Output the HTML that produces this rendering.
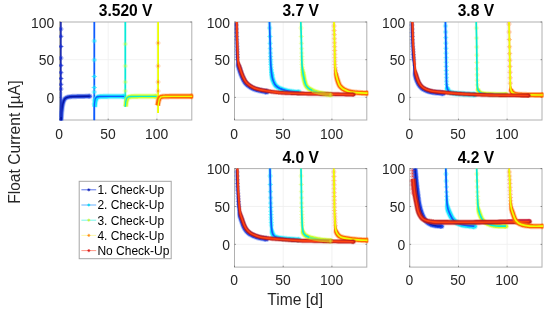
<!DOCTYPE html>
<html lang="en"><head><meta charset="utf-8"><title>Float Current vs Time</title>
<style>
html,body{margin:0;padding:0;background:#fff;}
body{width:550px;height:313px;overflow:hidden;}
svg{display:block;}
text{font-family:"Liberation Sans",Arial,Helvetica,sans-serif;fill:#262626;}
.tk{font-size:13.9px;}
.tt{font-size:15.6px;font-weight:bold;fill:#000;}
.al{font-size:15.6px;}
.lg{font-size:12px;fill:#000;}
</style></head><body>
<svg width="550" height="313" viewBox="0 0 550 313">
<rect x="0" y="0" width="550" height="313" fill="#ffffff"/>
<defs>
<clipPath id="cp1"><rect x="59" y="21.5" width="134.3" height="99"/></clipPath>
<clipPath id="cp2"><rect x="234" y="21.5" width="134.3" height="99"/></clipPath>
<clipPath id="cp3"><rect x="409.2" y="21.5" width="134.3" height="99"/></clipPath>
<clipPath id="cp4"><rect x="234" y="168.1" width="134.3" height="99.5"/></clipPath>
<clipPath id="cp5"><rect x="409.2" y="168.1" width="134.3" height="99.5"/></clipPath>
</defs>
<g>
<line x1="108.2" y1="22" x2="108.2" y2="120" stroke="#efefef" stroke-width="0.8"/>
<line x1="156.9" y1="22" x2="156.9" y2="120" stroke="#efefef" stroke-width="0.8"/>
<line x1="59.5" y1="97.38" x2="191.8" y2="97.38" stroke="#efefef" stroke-width="0.8"/>
<line x1="59.5" y1="59.69" x2="191.8" y2="59.69" stroke="#efefef" stroke-width="0.8"/>
<rect x="59.5" y="22" width="132.3" height="98" fill="none" stroke="#b0b0b0" stroke-width="1"/>
<line x1="59.5" y1="120" x2="59.5" y2="118.6" stroke="#555" stroke-width="0.8" opacity="0.8"/>
<line x1="108.2" y1="120" x2="108.2" y2="118.6" stroke="#555" stroke-width="0.8" opacity="0.8"/>
<line x1="156.9" y1="120" x2="156.9" y2="118.6" stroke="#555" stroke-width="0.8" opacity="0.8"/>
<line x1="59.5" y1="97.38" x2="60.9" y2="97.38" stroke="#555" stroke-width="0.8" opacity="0.8"/>
<line x1="191.8" y1="97.38" x2="190.4" y2="97.38" stroke="#555" stroke-width="0.8" opacity="0.8"/>
<line x1="59.5" y1="59.69" x2="60.9" y2="59.69" stroke="#555" stroke-width="0.8" opacity="0.8"/>
<line x1="191.8" y1="59.69" x2="190.4" y2="59.69" stroke="#555" stroke-width="0.8" opacity="0.8"/>
<line x1="59.5" y1="22" x2="60.9" y2="22" stroke="#555" stroke-width="0.8" opacity="0.8"/>
<line x1="191.8" y1="22" x2="190.4" y2="22" stroke="#555" stroke-width="0.8" opacity="0.8"/>
<text x="59.2" y="139" text-anchor="middle" class="tk">0</text>
<text x="107.9" y="139" text-anchor="middle" class="tk">50</text>
<text x="156.6" y="139" text-anchor="middle" class="tk">100</text>
<text x="54.3" y="102.88" text-anchor="end" class="tk">0</text>
<text x="54.3" y="65.19" text-anchor="end" class="tk">50</text>
<text x="54.3" y="27.5" text-anchor="end" class="tk">100</text>
<text x="125.65" y="16.4" text-anchor="middle" class="tt">3.520 V</text>
<g clip-path="url(#cp1)">
<path d="M60.84 22L60.83 28.14L60.82 36.62L60.81 46.84L60.78 58.21L60.74 70.15L60.67 82.06L60.55 93.35L60.36 103.43L60.11 111.71L59.8 117.61L59.47 121.17L59.16 123.07L62.98 124.34L63.49 122.87L63.72 121.33L63.89 119.31L64.01 117.09L64.12 114.96L64.21 113.24L64.29 112.26L64.36 111.67L64.45 110.95L64.54 110.2L64.63 109.45L64.72 108.69L64.82 107.95L64.92 107.23L65.02 106.55L65.13 105.92L65.24 105.35L65.36 104.81L65.49 104.28L65.62 103.78L65.75 103.31L65.89 102.86L66.03 102.45L66.17 102.08L66.3 101.74L66.44 101.45L66.57 101.19L66.69 100.98L66.8 100.81L66.89 100.69L66.97 100.6L67.04 100.54L67.11 100.47L67.2 100.41L67.33 100.32L67.5 100.22L67.71 100.11L67.93 100.01L68.13 99.92L68.34 99.84L68.57 99.77L68.83 99.7L69.12 99.63L69.46 99.57L69.85 99.51L70.3 99.44L70.8 99.38L71.33 99.33L71.9 99.29L72.5 99.25L73.15 99.22L73.85 99.19L74.59 99.17L75.38 99.15L76.22 99.14L77.11 99.12L78.05 99.1L79.1 99.08L80.3 99.07L81.62 99.05L83 99.04L84.39 99.03L85.74 99.02L87.01 99.02L88.14 99.01L89.1 99L89.82 99L89.78 93.6L89.06 93.61L88.11 93.61L86.98 93.62L85.71 93.62L84.35 93.63L82.96 93.64L81.57 93.65L80.24 93.67L79.02 93.68L77.95 93.7L77.01 93.72L76.12 93.74L75.26 93.75L74.45 93.77L73.68 93.8L72.93 93.82L72.21 93.86L71.52 93.9L70.85 93.95L70.2 94.02L69.6 94.09L69.05 94.17L68.52 94.25L68.01 94.35L67.52 94.46L67.05 94.59L66.59 94.74L66.14 94.9L65.7 95.09L65.29 95.29L64.89 95.5L64.51 95.72L64.12 95.97L63.74 96.25L63.36 96.58L63.01 96.93L62.68 97.32L62.37 97.73L62.09 98.15L61.83 98.61L61.58 99.09L61.35 99.6L61.13 100.12L60.93 100.66L60.75 101.21L60.57 101.78L60.41 102.37L60.25 102.98L60.1 103.6L59.96 104.25L59.82 104.94L59.69 105.69L59.57 106.45L59.47 107.23L59.36 108.02L59.27 108.8L59.18 109.57L59.09 110.3L59.01 111L58.91 111.74L58.82 112.92L58.74 114.73L58.68 116.88L58.64 119.11L58.65 121.12L58.74 122.57L59.12 122.48L62.82 122.89L62.41 121.12L62 117.59L61.64 111.71L61.35 103.43L61.15 93.35L61.03 82.06L60.97 70.15L60.95 58.21L60.95 46.84L60.95 36.62L60.96 28.14L60.96 22Z" fill="#2a4ee0" opacity="0.35" stroke="none"/><circle cx="89.8" cy="96.3" r="2.7" fill="#2a4ee0" opacity="0.35"/>
<path d="M60.86 22L60.85 28.14L60.84 36.62L60.83 46.84L60.81 58.21L60.78 70.15L60.73 82.06L60.65 93.35L60.53 103.43L60.36 111.71L60.16 117.61L59.96 121.16L59.77 123.04L62.34 124.03L62.7 122.82L62.88 121.3L63.01 119.28L63.13 117.05L63.22 114.92L63.31 113.19L63.39 112.17L63.47 111.56L63.56 110.84L63.65 110.1L63.74 109.34L63.83 108.58L63.93 107.83L64.03 107.1L64.13 106.41L64.24 105.76L64.36 105.17L64.49 104.61L64.62 104.06L64.75 103.54L64.89 103.05L65.03 102.59L65.18 102.15L65.33 101.75L65.48 101.39L65.63 101.06L65.78 100.76L65.93 100.51L66.07 100.3L66.19 100.13L66.31 99.99L66.42 99.88L66.55 99.77L66.69 99.67L66.86 99.56L67.07 99.44L67.31 99.31L67.56 99.19L67.8 99.08L68.05 98.99L68.32 98.91L68.61 98.83L68.94 98.75L69.3 98.68L69.72 98.62L70.18 98.55L70.7 98.49L71.25 98.43L71.83 98.39L72.45 98.35L73.12 98.32L73.82 98.29L74.57 98.27L75.36 98.25L76.2 98.24L77.1 98.22L78.03 98.2L79.09 98.18L80.29 98.17L81.61 98.15L82.99 98.14L84.38 98.13L85.73 98.12L87 98.12L88.14 98.11L89.09 98.11L89.81 98.1L89.79 94.5L89.07 94.51L88.12 94.51L86.98 94.52L85.71 94.52L84.36 94.53L82.96 94.54L81.58 94.55L80.25 94.57L79.03 94.58L77.97 94.6L77.02 94.62L76.13 94.64L75.28 94.65L74.48 94.67L73.7 94.69L72.97 94.72L72.26 94.75L71.58 94.8L70.93 94.85L70.3 94.91L69.72 94.98L69.18 95.06L68.68 95.14L68.2 95.23L67.74 95.33L67.3 95.45L66.88 95.59L66.47 95.74L66.07 95.91L65.69 96.09L65.33 96.28L64.98 96.48L64.64 96.71L64.3 96.96L63.98 97.24L63.67 97.54L63.38 97.88L63.11 98.24L62.86 98.62L62.62 99.04L62.39 99.48L62.17 99.95L61.97 100.45L61.78 100.96L61.6 101.49L61.44 102.04L61.28 102.61L61.12 103.19L60.98 103.8L60.84 104.43L60.7 105.11L60.58 105.83L60.47 106.58L60.36 107.35L60.26 108.13L60.16 108.91L60.07 109.67L59.98 110.41L59.9 111.11L59.81 111.83L59.72 112.97L59.64 114.76L59.57 116.92L59.52 119.15L59.5 121.15L59.53 122.62L59.76 122.79L62.21 122.92L61.92 121.13L61.64 117.59L61.38 111.71L61.18 103.43L61.05 93.35L60.97 82.06L60.93 70.15L60.92 58.21L60.93 46.84L60.93 36.62L60.94 28.14L60.94 22Z" fill="#2a4ee0" opacity="1.0" stroke="none"/><circle cx="89.8" cy="96.3" r="1.8" fill="#2a4ee0" opacity="1.0"/>
<path d="M60.9 22C60.9 37.93 60.78 102.6 60.9 117.6C61.02 132.6 61.32 114.13 61.6 112C61.88 109.87 62.17 106.82 62.6 104.8C63.03 102.78 63.55 101.08 64.2 99.9C64.85 98.72 65.45 98.23 66.5 97.7C67.55 97.17 68.58 96.92 70.5 96.7C72.42 96.48 74.78 96.47 78 96.4C81.22 96.33 87.83 96.32 89.8 96.3" stroke="#0614a4" stroke-width="1.5" stroke-linecap="butt" stroke-linejoin="round" fill="none"/>
<path d="M60.9 92 L60.9 117" stroke="#2a4ee0" stroke-width="2.8" opacity="0.4" fill="none"/>
<path d="M58.4 29 L63.4 29M59.49 27.59 L62.31 30.41M60.9 26.5 L60.9 31.5M62.31 27.59 L59.49 30.41" stroke="#1a30d4" stroke-width="0.9" opacity="0.85" fill="none"/>
<path d="M58.4 36.3 L63.4 36.3M59.49 34.89 L62.31 37.71M60.9 33.8 L60.9 38.8M62.31 34.89 L59.49 37.71" stroke="#1a30d4" stroke-width="0.9" opacity="0.85" fill="none"/>
<path d="M58.4 46.5 L63.4 46.5M59.49 45.09 L62.31 47.91M60.9 44 L60.9 49M62.31 45.09 L59.49 47.91" stroke="#1a30d4" stroke-width="0.9" opacity="0.85" fill="none"/>
<path d="M58.4 58 L63.4 58M59.49 56.59 L62.31 59.41M60.9 55.5 L60.9 60.5M62.31 56.59 L59.49 59.41" stroke="#1a30d4" stroke-width="0.9" opacity="0.85" fill="none"/>
<path d="M58.4 65.4 L63.4 65.4M59.49 63.99 L62.31 66.81M60.9 62.9 L60.9 67.9M62.31 63.99 L59.49 66.81" stroke="#1a30d4" stroke-width="0.9" opacity="0.85" fill="none"/>
<path d="M58.4 72.7 L63.4 72.7M59.49 71.29 L62.31 74.11M60.9 70.2 L60.9 75.2M62.31 71.29 L59.49 74.11" stroke="#1a30d4" stroke-width="0.9" opacity="0.85" fill="none"/>
<path d="M58.4 78.5 L63.4 78.5M59.49 77.09 L62.31 79.91M60.9 76 L60.9 81M62.31 77.09 L59.49 79.91" stroke="#1a30d4" stroke-width="0.9" opacity="0.85" fill="none"/>
<path d="M58.4 84.3 L63.4 84.3M59.49 82.89 L62.31 85.71M60.9 81.8 L60.9 86.8M62.31 82.89 L59.49 85.71" stroke="#1a30d4" stroke-width="0.9" opacity="0.85" fill="none"/>
<path d="M58.4 89 L63.4 89M59.49 87.59 L62.31 90.41M60.9 86.5 L60.9 91.5M62.31 87.59 L59.49 90.41" stroke="#1a30d4" stroke-width="0.9" opacity="0.85" fill="none"/>
<path d="M94.3 22 L94.3 120.2" stroke="#0f5cff" stroke-width="1.8" fill="none"/>
<path d="M91.7 41 L96.9 41M92.83 39.53 L95.77 42.47M94.3 38.4 L94.3 43.6M95.77 39.53 L92.83 42.47" stroke="#12e4ff" stroke-width="0.9" opacity="0.7" fill="none"/>
<path d="M91.7 60 L96.9 60M92.83 58.53 L95.77 61.47M94.3 57.4 L94.3 62.6M95.77 58.53 L92.83 61.47" stroke="#12e4ff" stroke-width="0.9" opacity="0.7" fill="none"/>
<path d="M91.7 76.5 L96.9 76.5M92.83 75.03 L95.77 77.97M94.3 73.9 L94.3 79.1M95.77 75.03 L92.83 77.97" stroke="#12e4ff" stroke-width="0.9" opacity="0.7" fill="none"/>
<path d="M91.7 87.5 L96.9 87.5M92.83 86.03 L95.77 88.97M94.3 84.9 L94.3 90.1M95.77 86.03 L92.83 88.97" stroke="#12e4ff" stroke-width="0.9" opacity="0.7" fill="none"/>
<path d="M91.7 92 L96.9 92M92.83 90.53 L95.77 93.47M94.3 89.4 L94.3 94.6M95.77 90.53 L92.83 93.47" stroke="#12e4ff" stroke-width="0.9" opacity="0.7" fill="none"/>
<path d="M91.7 100 L96.9 100M92.83 98.53 L95.77 101.47M94.3 97.4 L94.3 102.6M95.77 98.53 L92.83 101.47" stroke="#12e4ff" stroke-width="0.9" opacity="0.7" fill="none"/>
<path d="M91.7 104 L96.9 104M92.83 102.53 L95.77 105.47M94.3 101.4 L94.3 106.6M95.77 102.53 L92.83 105.47" stroke="#12e4ff" stroke-width="0.9" opacity="0.7" fill="none"/>
<path d="M97.53 107.31L97.59 106.76L97.65 106.21L97.71 105.66L97.77 105.11L97.83 104.56L97.89 104.01L97.95 103.46L98.01 102.91L98.07 102.36L98.1 102.04L98.11 102.07L98.22 101.74L98.33 101.41L98.44 101.08L98.55 100.75L98.66 100.42L98.77 100.09L98.88 99.76L98.99 99.43L98.86 99.64L98.36 100.28L98.52 100.15L98.68 100.02L98.84 99.89L99 99.76L99.16 99.63L99.32 99.5L99.48 99.37L99.64 99.24L99.09 99.53L98.7 99.67L98.95 99.63L99.2 99.59L99.45 99.55L99.7 99.51L99.95 99.47L100.2 99.43L100.45 99.39L100.7 99.35L100.62 99.35L101.48 99.34L102.43 99.33L103.38 99.32L104.33 99.31L105.28 99.3L106.23 99.29L107.18 99.28L108.13 99.27L109.08 99.26L110.01 99.25L111.4 99.25L112.8 99.25L114.2 99.25L115.6 99.25L117 99.25L118.4 99.25L119.8 99.25L121.2 99.25L122.6 99.25L124 99.25L124 93.55L122.6 93.55L121.2 93.55L119.8 93.55L118.4 93.55L117 93.55L115.6 93.55L114.2 93.55L112.8 93.55L111.4 93.55L109.99 93.55L109.02 93.56L108.07 93.57L107.12 93.58L106.17 93.59L105.22 93.6L104.27 93.61L103.32 93.62L102.37 93.63L101.42 93.64L100.38 93.65L99.8 93.73L99.55 93.77L99.3 93.81L99.05 93.85L98.8 93.89L98.55 93.93L98.3 93.97L98.05 94.01L97.8 94.05L96.91 94.27L96.04 94.82L95.88 94.95L95.72 95.08L95.56 95.21L95.4 95.34L95.24 95.47L95.08 95.6L94.92 95.73L94.76 95.86L93.94 96.76L93.59 97.63L93.48 97.96L93.37 98.29L93.26 98.62L93.15 98.95L93.04 99.28L92.93 99.61L92.82 99.94L92.71 100.27L92.5 100.96L92.41 101.74L92.35 102.29L92.29 102.84L92.23 103.39L92.17 103.94L92.11 104.49L92.05 105.04L91.99 105.59L91.93 106.14L91.87 106.69Z" fill="#12e4ff" opacity="0.35" stroke="none"/><circle cx="124" cy="96.4" r="2.85" fill="#12e4ff" opacity="0.35"/>
<path d="M96.64 107.21L96.7 106.66L96.76 106.11L96.82 105.56L96.88 105.01L96.94 104.46L97 103.91L97.06 103.36L97.12 102.81L97.18 102.26L97.21 101.87L97.26 101.79L97.37 101.46L97.48 101.13L97.59 100.8L97.7 100.47L97.81 100.14L97.92 99.81L98.03 99.48L98.14 99.15L98.08 99.19L97.79 99.58L97.95 99.45L98.11 99.32L98.27 99.19L98.43 99.06L98.59 98.93L98.75 98.8L98.91 98.67L99.07 98.54L98.75 98.7L98.56 98.79L98.81 98.75L99.06 98.71L99.31 98.67L99.56 98.63L99.81 98.59L100.06 98.55L100.31 98.51L100.56 98.47L100.58 98.45L101.47 98.44L102.42 98.43L103.37 98.42L104.32 98.41L105.27 98.4L106.22 98.39L107.17 98.38L108.12 98.37L109.07 98.36L110.01 98.35L111.4 98.35L112.8 98.35L114.2 98.35L115.6 98.35L117 98.35L118.4 98.35L119.8 98.35L121.2 98.35L122.6 98.35L124 98.35L124 94.45L122.6 94.45L121.2 94.45L119.8 94.45L118.4 94.45L117 94.45L115.6 94.45L114.2 94.45L112.8 94.45L111.4 94.45L109.99 94.45L109.03 94.46L108.08 94.47L107.13 94.48L106.18 94.49L105.23 94.5L104.28 94.51L103.33 94.52L102.38 94.53L101.43 94.54L100.42 94.55L99.94 94.61L99.69 94.65L99.44 94.69L99.19 94.73L98.94 94.77L98.69 94.81L98.44 94.85L98.19 94.89L97.94 94.93L97.25 95.1L96.61 95.52L96.45 95.65L96.29 95.78L96.13 95.91L95.97 96.04L95.81 96.17L95.65 96.3L95.49 96.43L95.33 96.56L94.72 97.21L94.44 97.91L94.33 98.24L94.22 98.57L94.11 98.9L94 99.23L93.89 99.56L93.78 99.89L93.67 100.22L93.56 100.55L93.39 101.13L93.3 101.84L93.24 102.39L93.18 102.94L93.12 103.49L93.06 104.04L93 104.59L92.94 105.14L92.88 105.69L92.82 106.24L92.76 106.79Z" fill="#12e4ff" opacity="1.0" stroke="none"/><circle cx="124" cy="96.4" r="1.95" fill="#12e4ff" opacity="1.0"/>
<path d="M94.3 120.2L94.4 104L95.2 98.9L96.6 97L99.5 96.5L110 96.4L124.2 96.4" stroke="#0f5cff" stroke-width="1.3" stroke-linecap="butt" stroke-linejoin="round" fill="none"/>
<path d="M125.3 22 L125.3 106.8" stroke="#08ead8" stroke-width="1.8" fill="none"/>
<path d="M122.7 44 L127.9 44M123.83 42.53 L126.77 45.47M125.3 41.4 L125.3 46.6M126.77 42.53 L123.83 45.47" stroke="#c8ff28" stroke-width="0.9" opacity="0.45" fill="none"/>
<path d="M122.7 66 L127.9 66M123.83 64.53 L126.77 67.47M125.3 63.4 L125.3 68.6M126.77 64.53 L123.83 67.47" stroke="#c8ff28" stroke-width="0.9" opacity="0.45" fill="none"/>
<path d="M122.7 82 L127.9 82M123.83 80.53 L126.77 83.47M125.3 79.4 L125.3 84.6M126.77 80.53 L123.83 83.47" stroke="#c8ff28" stroke-width="0.9" opacity="0.45" fill="none"/>
<path d="M122.7 91 L127.9 91M123.83 89.53 L126.77 92.47M125.3 88.4 L125.3 93.6M126.77 89.53 L123.83 92.47" stroke="#c8ff28" stroke-width="0.9" opacity="0.45" fill="none"/>
<path d="M128.43 106.86L128.49 106.39L128.55 105.92L128.61 105.45L128.67 104.98L128.73 104.51L128.79 104.04L128.85 103.57L128.91 103.1L128.97 102.63L128.99 102.37L129.02 102.33L129.12 102.01L129.22 101.69L129.32 101.37L129.42 101.05L129.52 100.73L129.62 100.41L129.72 100.09L129.82 99.77L129.71 99.96L129.38 100.46L129.54 100.3L129.7 100.14L129.86 99.98L130.02 99.82L130.18 99.66L130.34 99.5L130.5 99.34L130.66 99.18L130.05 99.56L129.59 99.75L129.86 99.7L130.13 99.65L130.4 99.6L130.67 99.55L130.94 99.5L131.21 99.45L131.48 99.4L131.75 99.35L131.65 99.35L132.38 99.34L133.23 99.33L134.08 99.32L134.93 99.31L135.78 99.3L136.63 99.29L137.48 99.28L138.33 99.27L139.18 99.26L140.01 99.25L141.64 99.25L143.28 99.25L144.92 99.25L146.56 99.25L148.2 99.25L149.84 99.25L151.48 99.25L153.12 99.25L154.76 99.25L156.4 99.25L156.4 93.55L154.76 93.55L153.12 93.55L151.48 93.55L149.84 93.55L148.2 93.55L146.56 93.55L144.92 93.55L143.28 93.55L141.64 93.55L139.99 93.55L139.12 93.56L138.27 93.57L137.42 93.58L136.57 93.59L135.72 93.6L134.87 93.61L134.02 93.62L133.17 93.63L132.32 93.64L131.35 93.65L130.71 93.75L130.44 93.8L130.17 93.85L129.9 93.9L129.63 93.95L129.36 94L129.09 94.05L128.82 94.1L128.55 94.15L127.55 94.44L126.62 95.14L126.46 95.3L126.3 95.46L126.14 95.62L125.98 95.78L125.82 95.94L125.66 96.1L125.5 96.26L125.34 96.42L124.69 97.24L124.38 98.07L124.28 98.39L124.18 98.71L124.08 99.03L123.98 99.35L123.88 99.67L123.78 99.99L123.68 100.31L123.58 100.63L123.41 101.23L123.31 101.91L123.25 102.38L123.19 102.85L123.13 103.32L123.07 103.79L123.01 104.26L122.95 104.73L122.89 105.2L122.83 105.67L122.77 106.14Z" fill="#c8ff28" opacity="0.35" stroke="none"/><circle cx="156.4" cy="96.4" r="2.85" fill="#c8ff28" opacity="0.35"/>
<path d="M127.53 106.75L127.59 106.28L127.65 105.81L127.71 105.34L127.77 104.87L127.83 104.4L127.89 103.93L127.95 103.46L128.01 102.99L128.07 102.52L128.11 102.19L128.16 102.06L128.26 101.74L128.36 101.42L128.46 101.1L128.56 100.78L128.66 100.46L128.76 100.14L128.86 99.82L128.96 99.5L128.91 99.53L128.74 99.82L128.9 99.66L129.06 99.5L129.22 99.34L129.38 99.18L129.54 99.02L129.7 98.86L129.86 98.7L130.02 98.54L129.66 98.75L129.43 98.87L129.7 98.82L129.97 98.77L130.24 98.72L130.51 98.67L130.78 98.62L131.05 98.57L131.32 98.52L131.59 98.47L131.6 98.45L132.37 98.44L133.22 98.43L134.07 98.42L134.92 98.41L135.77 98.4L136.62 98.39L137.47 98.38L138.32 98.37L139.17 98.36L140.01 98.35L141.64 98.35L143.28 98.35L144.92 98.35L146.56 98.35L148.2 98.35L149.84 98.35L151.48 98.35L153.12 98.35L154.76 98.35L156.4 98.35L156.4 94.45L154.76 94.45L153.12 94.45L151.48 94.45L149.84 94.45L148.2 94.45L146.56 94.45L144.92 94.45L143.28 94.45L141.64 94.45L139.99 94.45L139.13 94.46L138.28 94.47L137.43 94.48L136.58 94.49L135.73 94.5L134.88 94.51L134.03 94.52L133.18 94.53L132.33 94.54L131.4 94.55L130.87 94.63L130.6 94.68L130.33 94.73L130.06 94.78L129.79 94.83L129.52 94.88L129.25 94.93L128.98 94.98L128.71 95.03L127.94 95.25L127.26 95.78L127.1 95.94L126.94 96.1L126.78 96.26L126.62 96.42L126.46 96.58L126.3 96.74L126.14 96.9L125.98 97.06L125.49 97.67L125.24 98.34L125.14 98.66L125.04 98.98L124.94 99.3L124.84 99.62L124.74 99.94L124.64 100.26L124.54 100.58L124.44 100.9L124.29 101.41L124.21 102.02L124.15 102.49L124.09 102.96L124.03 103.43L123.97 103.9L123.91 104.37L123.85 104.84L123.79 105.31L123.73 105.78L123.67 106.25Z" fill="#c8ff28" opacity="1.0" stroke="none"/><circle cx="156.4" cy="96.4" r="1.95" fill="#c8ff28" opacity="1.0"/>
<path d="M125.3 106.8L125.7 101.8L126.6 98.3L128.2 96.9L131 96.5L140 96.4L156.6 96.4" stroke="#08ead8" stroke-width="1.3" stroke-linecap="butt" stroke-linejoin="round" fill="none"/>
<path d="M158.1 22 L158.1 113" stroke="#ecff00" stroke-width="1.8" fill="none"/>
<path d="M155.5 43 L160.7 43M156.63 41.53 L159.57 44.47M158.1 40.4 L158.1 45.6M159.57 41.53 L156.63 44.47" stroke="#ff6a00" stroke-width="0.9" opacity="0.4" fill="none"/>
<path d="M155.5 66 L160.7 66M156.63 64.53 L159.57 67.47M158.1 63.4 L158.1 68.6M159.57 64.53 L156.63 67.47" stroke="#ff6a00" stroke-width="0.9" opacity="0.4" fill="none"/>
<path d="M155.5 82 L160.7 82M156.63 80.53 L159.57 83.47M158.1 79.4 L158.1 84.6M159.57 80.53 L156.63 83.47" stroke="#ff6a00" stroke-width="0.9" opacity="0.4" fill="none"/>
<path d="M155.5 91 L160.7 91M156.63 89.53 L159.57 92.47M158.1 88.4 L158.1 93.6M159.57 89.53 L156.63 92.47" stroke="#ff6a00" stroke-width="0.9" opacity="0.4" fill="none"/>
<path d="M160.55 106.04L160.64 105.55L160.73 105.06L160.82 104.57L160.91 104.08L161 103.59L161.09 103.1L161.18 102.61L161.27 102.12L161.36 101.63L161.4 101.37L161.37 101.51L161.48 101.25L161.59 100.99L161.7 100.73L161.81 100.47L161.92 100.21L162.03 99.95L162.14 99.69L162.25 99.43L162.09 99.68L161.59 100.25L161.73 100.14L161.87 100.03L162.01 99.92L162.15 99.81L162.29 99.7L162.43 99.59L162.57 99.48L162.71 99.37L162.08 99.7L161.72 99.82L161.97 99.78L162.22 99.74L162.47 99.7L162.72 99.66L162.97 99.62L163.22 99.58L163.47 99.54L163.72 99.5L163.66 99.5L164.42 99.48L165.27 99.46L166.12 99.44L166.97 99.42L167.82 99.4L168.67 99.38L169.52 99.36L170.37 99.34L171.22 99.32L172.02 99.3L174 99.3L176 99.3L178 99.3L180 99.3L182 99.3L184 99.3L186 99.3L188 99.3L190 99.3L192 99.3L192 93.3L190 93.3L188 93.3L186 93.3L184 93.3L182 93.3L180 93.3L178 93.3L176 93.3L174 93.3L171.98 93.3L171.08 93.32L170.23 93.34L169.38 93.36L168.53 93.38L167.68 93.4L166.83 93.42L165.98 93.44L165.13 93.46L164.28 93.48L163.34 93.5L162.78 93.58L162.53 93.62L162.28 93.66L162.03 93.7L161.78 93.74L161.53 93.78L161.28 93.82L161.03 93.86L160.78 93.9L159.92 94.1L159.01 94.65L158.87 94.76L158.73 94.87L158.59 94.98L158.45 95.09L158.31 95.2L158.17 95.31L158.03 95.42L157.89 95.53L157.11 96.32L156.73 97.09L156.62 97.35L156.51 97.61L156.4 97.87L156.29 98.13L156.18 98.39L156.07 98.65L155.96 98.91L155.85 99.17L155.6 99.83L155.46 100.55L155.37 101.04L155.28 101.53L155.19 102.02L155.1 102.51L155.01 103L154.92 103.49L154.83 103.98L154.74 104.47L154.65 104.96Z" fill="#ff6a00" opacity="0.35" stroke="none"/><circle cx="192" cy="96.3" r="3" fill="#ff6a00" opacity="0.35"/>
<path d="M159.67 105.88L159.76 105.39L159.85 104.9L159.94 104.41L160.03 103.92L160.12 103.43L160.21 102.94L160.3 102.45L160.39 101.96L160.48 101.47L160.53 101.14L160.54 101.16L160.65 100.9L160.76 100.64L160.87 100.38L160.98 100.12L161.09 99.86L161.2 99.6L161.31 99.34L161.42 99.08L161.34 99.18L161.04 99.54L161.18 99.43L161.32 99.32L161.46 99.21L161.6 99.1L161.74 98.99L161.88 98.88L162.02 98.77L162.16 98.66L161.75 98.86L161.58 98.93L161.83 98.89L162.08 98.85L162.33 98.81L162.58 98.77L162.83 98.73L163.08 98.69L163.33 98.65L163.58 98.61L163.61 98.6L164.4 98.58L165.25 98.56L166.1 98.54L166.95 98.52L167.8 98.5L168.65 98.48L169.5 98.46L170.35 98.44L171.2 98.42L172.01 98.4L174 98.4L176 98.4L178 98.4L180 98.4L182 98.4L184 98.4L186 98.4L188 98.4L190 98.4L192 98.4L192 94.2L190 94.2L188 94.2L186 94.2L184 94.2L182 94.2L180 94.2L178 94.2L176 94.2L174 94.2L171.99 94.2L171.1 94.22L170.25 94.24L169.4 94.26L168.55 94.28L167.7 94.3L166.85 94.32L166 94.34L165.15 94.36L164.3 94.38L163.39 94.4L162.92 94.47L162.67 94.51L162.42 94.55L162.17 94.59L161.92 94.63L161.67 94.67L161.42 94.71L161.17 94.75L160.92 94.79L160.25 94.94L159.56 95.36L159.42 95.47L159.28 95.58L159.14 95.69L159 95.8L158.86 95.91L158.72 96.02L158.58 96.13L158.44 96.24L157.86 96.82L157.56 97.44L157.45 97.7L157.34 97.96L157.23 98.22L157.12 98.48L157.01 98.74L156.9 99L156.79 99.26L156.68 99.52L156.47 100.06L156.34 100.71L156.25 101.2L156.16 101.69L156.07 102.18L155.98 102.67L155.89 103.16L155.8 103.65L155.71 104.14L155.62 104.63L155.53 105.12Z" fill="#ff6a00" opacity="1.0" stroke="none"/><circle cx="192" cy="96.3" r="2.1" fill="#ff6a00" opacity="1.0"/>
<path d="M158.1 113L158.4 104L159.2 99.3L160.6 97.2L163 96.5L172 96.3L192.2 96.3" stroke="#ecff00" stroke-width="1.3" stroke-linecap="butt" stroke-linejoin="round" fill="none"/>
</g>
</g>
<g>
<line x1="283.2" y1="22" x2="283.2" y2="120" stroke="#efefef" stroke-width="0.8"/>
<line x1="331.9" y1="22" x2="331.9" y2="120" stroke="#efefef" stroke-width="0.8"/>
<line x1="234.5" y1="97.38" x2="366.8" y2="97.38" stroke="#efefef" stroke-width="0.8"/>
<line x1="234.5" y1="59.69" x2="366.8" y2="59.69" stroke="#efefef" stroke-width="0.8"/>
<rect x="234.5" y="22" width="132.3" height="98" fill="none" stroke="#b0b0b0" stroke-width="1"/>
<line x1="234.5" y1="120" x2="234.5" y2="118.6" stroke="#555" stroke-width="0.8" opacity="0.8"/>
<line x1="283.2" y1="120" x2="283.2" y2="118.6" stroke="#555" stroke-width="0.8" opacity="0.8"/>
<line x1="331.9" y1="120" x2="331.9" y2="118.6" stroke="#555" stroke-width="0.8" opacity="0.8"/>
<line x1="234.5" y1="97.38" x2="235.9" y2="97.38" stroke="#555" stroke-width="0.8" opacity="0.8"/>
<line x1="366.8" y1="97.38" x2="365.4" y2="97.38" stroke="#555" stroke-width="0.8" opacity="0.8"/>
<line x1="234.5" y1="59.69" x2="235.9" y2="59.69" stroke="#555" stroke-width="0.8" opacity="0.8"/>
<line x1="366.8" y1="59.69" x2="365.4" y2="59.69" stroke="#555" stroke-width="0.8" opacity="0.8"/>
<line x1="234.5" y1="22" x2="235.9" y2="22" stroke="#555" stroke-width="0.8" opacity="0.8"/>
<line x1="366.8" y1="22" x2="365.4" y2="22" stroke="#555" stroke-width="0.8" opacity="0.8"/>
<text x="234.2" y="139" text-anchor="middle" class="tk">0</text>
<text x="282.9" y="139" text-anchor="middle" class="tk">50</text>
<text x="331.6" y="139" text-anchor="middle" class="tk">100</text>
<text x="230" y="102.88" text-anchor="end" class="tk">0</text>
<text x="230" y="65.19" text-anchor="end" class="tk">50</text>
<text x="230" y="27.5" text-anchor="end" class="tk">100</text>
<text x="300.65" y="16.4" text-anchor="middle" class="tt">3.7 V</text>
<g clip-path="url(#cp2)">
<path d="M236.2 22.7C236.28 25.7 236.48 34.37 236.7 40.7C236.92 47.03 237.37 57.37 237.5 60.7" stroke="#1e48ea" stroke-width="3.4" stroke-linecap="butt" fill="none" opacity="0.3"/>
<path d="M233.66 25 L238.86 25M234.79 23.53 L237.73 26.47M236.26 22.4 L236.26 27.6M237.73 23.53 L234.79 26.47" stroke="#1e48ea" stroke-width="0.9" opacity="0.6" fill="none"/>
<path d="M233.78 29 L238.97 29M234.9 27.53 L237.85 30.47M236.38 26.4 L236.38 31.6M237.85 27.53 L234.9 30.47" stroke="#1e48ea" stroke-width="0.9" opacity="0.6" fill="none"/>
<path d="M233.88 32.8 L239.08 32.8M235.01 31.33 L237.95 34.27M236.48 30.2 L236.48 35.4M237.95 31.33 L235.01 34.27" stroke="#1e48ea" stroke-width="0.9" opacity="0.6" fill="none"/>
<path d="M233.98 36.41 L239.18 36.41M235.11 34.94 L238.05 37.88M236.58 33.81 L236.58 39.01M238.05 34.94 L235.11 37.88" stroke="#1e48ea" stroke-width="0.9" opacity="0.6" fill="none"/>
<path d="M234.08 39.84 L239.28 39.84M235.21 38.37 L238.15 41.31M236.68 37.24 L236.68 42.44M238.15 38.37 L235.21 41.31" stroke="#1e48ea" stroke-width="0.9" opacity="0.6" fill="none"/>
<path d="M234.2 43.1 L239.4 43.1M235.33 41.63 L238.27 44.57M236.8 40.5 L236.8 45.7M238.27 41.63 L235.33 44.57" stroke="#1e48ea" stroke-width="0.9" opacity="0.6" fill="none"/>
<path d="M234.32 46.19 L239.52 46.19M235.45 44.72 L238.39 47.66M236.92 43.59 L236.92 48.79M238.39 44.72 L235.45 47.66" stroke="#1e48ea" stroke-width="0.9" opacity="0.6" fill="none"/>
<path d="M234.44 49.13 L239.64 49.13M235.57 47.66 L238.51 50.6M237.04 46.53 L237.04 51.73M238.51 47.66 L235.57 50.6" stroke="#1e48ea" stroke-width="0.9" opacity="0.6" fill="none"/>
<path d="M234.55 51.93 L239.75 51.93M235.68 50.46 L238.62 53.4M237.15 49.33 L237.15 54.53M238.62 50.46 L235.68 53.4" stroke="#1e48ea" stroke-width="0.9" opacity="0.6" fill="none"/>
<path d="M234.66 54.58 L239.86 54.58M235.78 53.11 L238.73 56.05M237.26 51.98 L237.26 57.18M238.73 53.11 L235.78 56.05" stroke="#1e48ea" stroke-width="0.9" opacity="0.6" fill="none"/>
<path d="M234.76 57.18 L239.96 57.18M235.89 55.71 L238.83 58.65M237.36 54.58 L237.36 59.78M238.83 55.71 L235.89 58.65" stroke="#1e48ea" stroke-width="0.9" opacity="0.6" fill="none"/>
<path d="M235.84 22.71L235.86 23.77L235.9 25.13L235.94 26.72L235.98 28.52L236.02 30.46L236.07 32.5L236.11 34.6L236.17 36.7L236.22 38.75L236.28 40.71L236.33 42.69L236.38 44.78L236.42 46.95L236.45 49.16L236.45 51.36L236.43 53.51L236.38 55.58L236.3 57.51L236.18 59.27L236.03 60.83L235.87 62.17L235.72 63.32L235.6 64.32L235.54 65.22L235.55 66.02L235.64 66.74L235.77 67.38L235.94 67.99L236.13 68.6L236.34 69.32L236.6 70.17L236.89 71.09L237.19 72.03L237.52 72.99L237.85 73.96L238.2 74.93L238.56 75.89L238.92 76.82L239.3 77.72L239.67 78.57L240.03 79.35L240.38 80.1L240.73 80.84L241.11 81.57L241.5 82.29L241.92 83.02L242.38 83.73L242.88 84.44L243.43 85.14L244.04 85.82L244.7 86.48L245.39 87.11L246.11 87.7L246.85 88.26L247.6 88.78L248.35 89.28L249.1 89.74L249.84 90.18L250.57 90.58L251.29 90.96L252.03 91.32L252.77 91.65L253.5 91.93L254.22 92.19L254.93 92.41L255.62 92.61L256.31 92.8L256.99 92.97L257.66 93.14L258.37 93.31L259.17 93.5L260.05 93.69L260.96 93.86L261.87 94.03L262.78 94.19L263.64 94.33L264.44 94.46L265.14 94.58L265.72 94.68L266.17 94.75L267.23 88.65L266.76 88.56L266.15 88.46L265.44 88.35L264.66 88.22L263.82 88.08L262.96 87.93L262.11 87.77L261.28 87.61L260.52 87.45L259.83 87.29L259.16 87.12L258.5 86.96L257.88 86.8L257.29 86.64L256.72 86.48L256.18 86.31L255.66 86.12L255.15 85.92L254.64 85.7L254.11 85.44L253.52 85.13L252.91 84.79L252.3 84.43L251.68 84.05L251.08 83.65L250.5 83.25L249.95 82.83L249.44 82.41L248.97 81.99L248.56 81.58L248.19 81.16L247.84 80.72L247.52 80.26L247.21 79.78L246.9 79.26L246.6 78.69L246.29 78.09L245.98 77.44L245.66 76.75L245.33 76.03L245 75.29L244.67 74.5L244.35 73.67L244.02 72.79L243.7 71.9L243.39 70.99L243.08 70.09L242.79 69.2L242.52 68.33L242.26 67.48L241.99 66.67L241.73 65.97L241.48 65.39L241.23 64.91L240.95 64.47L240.63 64L240.25 63.43L239.83 62.7L239.39 61.75L238.97 60.57L238.58 59.1L238.24 57.4L237.97 55.51L237.75 53.46L237.58 51.33L237.45 49.13L237.35 46.93L237.27 44.76L237.19 42.66L237.12 40.69L237.05 38.72L236.98 36.67L236.91 34.57L236.84 32.48L236.78 30.44L236.72 28.5L236.67 26.7L236.63 25.11L236.59 23.75L236.56 22.69Z" fill="#1e48ea" opacity="0.35" stroke="none"/><circle cx="266.7" cy="91.7" r="3.1" fill="#1e48ea" opacity="0.35"/>
<path d="M235.94 22.71L235.97 23.77L236 25.12L236.04 26.72L236.09 28.51L236.13 30.46L236.18 32.5L236.23 34.59L236.28 36.69L236.34 38.75L236.4 40.71L236.46 42.68L236.51 44.78L236.56 46.95L236.59 49.16L236.62 51.36L236.63 53.51L236.61 55.57L236.58 57.49L236.53 59.25L236.46 60.8L236.38 62.11L236.31 63.23L236.27 64.19L236.28 65.04L236.34 65.8L236.45 66.47L236.6 67.1L236.78 67.69L236.98 68.32L237.2 69.05L237.46 69.9L237.75 70.81L238.05 71.75L238.37 72.7L238.7 73.66L239.04 74.62L239.4 75.56L239.76 76.48L240.13 77.37L240.49 78.2L240.85 78.97L241.19 79.71L241.54 80.44L241.9 81.15L242.28 81.85L242.69 82.55L243.13 83.23L243.6 83.9L244.12 84.56L244.7 85.21L245.32 85.83L245.98 86.43L246.67 86.99L247.38 87.53L248.1 88.04L248.83 88.52L249.56 88.97L250.29 89.4L251 89.79L251.7 90.16L252.41 90.51L253.12 90.82L253.82 91.09L254.51 91.33L255.19 91.55L255.86 91.74L256.53 91.93L257.21 92.1L257.88 92.26L258.58 92.44L259.37 92.62L260.23 92.8L261.12 92.98L262.03 93.14L262.93 93.3L263.79 93.44L264.58 93.58L265.29 93.69L265.87 93.79L266.32 93.87L267.08 89.53L266.61 89.45L266.01 89.35L265.3 89.23L264.51 89.1L263.67 88.96L262.8 88.81L261.94 88.65L261.1 88.49L260.32 88.33L259.62 88.16L258.94 87.99L258.28 87.83L257.65 87.67L257.04 87.51L256.46 87.34L255.9 87.16L255.35 86.97L254.8 86.75L254.26 86.51L253.7 86.24L253.1 85.92L252.47 85.57L251.83 85.2L251.2 84.81L250.57 84.4L249.97 83.97L249.39 83.54L248.85 83.09L248.35 82.64L247.9 82.19L247.5 81.74L247.12 81.26L246.77 80.77L246.44 80.25L246.12 79.7L245.8 79.11L245.49 78.49L245.17 77.83L244.84 77.13L244.51 76.4L244.17 75.64L243.84 74.84L243.51 73.99L243.17 73.1L242.85 72.2L242.53 71.28L242.23 70.37L241.94 69.47L241.66 68.6L241.4 67.75L241.14 66.95L240.89 66.27L240.65 65.68L240.41 65.17L240.16 64.69L239.89 64.18L239.57 63.56L239.23 62.79L238.88 61.81L238.54 60.6L238.23 59.13L237.96 57.42L237.74 55.52L237.56 53.47L237.42 51.33L237.31 49.14L237.21 46.93L237.14 44.76L237.07 42.67L237 40.69L236.93 38.73L236.86 36.68L236.79 34.58L236.73 32.48L236.67 30.44L236.61 28.5L236.56 26.71L236.52 25.11L236.49 23.76L236.46 22.69Z" fill="#1e48ea" opacity="1.0" stroke="none"/><circle cx="266.7" cy="91.7" r="2.2" fill="#1e48ea" opacity="1.0"/>
<path d="M236.2 22.7C236.28 25.7 236.48 34.37 236.7 40.7C236.92 47.03 237.07 56.08 237.5 60.7C237.93 65.32 238.47 65.63 239.3 68.4C240.13 71.17 241.33 74.75 242.5 77.3C243.67 79.85 244.6 81.88 246.3 83.7C248 85.52 250.57 87.1 252.7 88.2C254.83 89.3 256.77 89.72 259.1 90.3C261.43 90.88 265.43 91.47 266.7 91.7" stroke="#0818ac" stroke-width="1.7" stroke-linecap="butt" stroke-linejoin="round" fill="none"/>
<path d="M269.5 22C269.62 25.83 269.98 37.83 270.2 45C270.42 52.17 270.47 59.62 270.8 65C271.13 70.38 271.97 75.25 272.2 77.3" stroke="#12e4ff" stroke-width="3.6" stroke-linecap="butt" fill="none" opacity="0.38"/>
<path d="M267.08 28 L272.28 28M268.21 26.53 L271.15 29.47M269.68 25.4 L269.68 30.6M271.15 26.53 L268.21 29.47" stroke="#12e4ff" stroke-width="0.9" opacity="0.6" fill="none"/>
<path d="M267.34 36.5 L272.54 36.5M268.47 35.03 L271.41 37.97M269.94 33.9 L269.94 39.1M271.41 35.03 L268.47 37.97" stroke="#12e4ff" stroke-width="0.9" opacity="0.6" fill="none"/>
<path d="M267.55 43.3 L272.75 43.3M268.68 41.83 L271.62 44.77M270.15 40.7 L270.15 45.9M271.62 41.83 L268.68 44.77" stroke="#12e4ff" stroke-width="0.9" opacity="0.6" fill="none"/>
<path d="M267.71 48.74 L272.91 48.74M268.84 47.27 L271.78 50.21M270.31 46.14 L270.31 51.34M271.78 47.27 L268.84 50.21" stroke="#12e4ff" stroke-width="0.9" opacity="0.6" fill="none"/>
<path d="M267.84 53.09 L273.04 53.09M268.97 51.62 L271.91 54.56M270.44 50.49 L270.44 55.69M271.91 51.62 L268.97 54.56" stroke="#12e4ff" stroke-width="0.9" opacity="0.6" fill="none"/>
<path d="M267.95 56.57 L273.15 56.57M269.08 55.1 L272.02 58.04M270.55 53.97 L270.55 59.17M272.02 55.1 L269.08 58.04" stroke="#12e4ff" stroke-width="0.9" opacity="0.6" fill="none"/>
<path d="M268.03 59.36 L273.23 59.36M269.16 57.89 L272.1 60.83M270.63 56.76 L270.63 61.96M272.1 57.89 L269.16 60.83" stroke="#12e4ff" stroke-width="0.9" opacity="0.6" fill="none"/>
<path d="M268.11 61.96 L273.31 61.96M269.24 60.49 L272.18 63.43M270.71 59.36 L270.71 64.56M272.18 60.49 L269.24 63.43" stroke="#12e4ff" stroke-width="0.9" opacity="0.6" fill="none"/>
<path d="M268.19 64.56 L273.39 64.56M269.32 63.09 L272.26 66.03M270.79 61.96 L270.79 67.16M272.26 63.09 L269.32 66.03" stroke="#12e4ff" stroke-width="0.9" opacity="0.6" fill="none"/>
<path d="M268.45 67.16 L273.65 67.16M269.57 65.69 L272.52 68.63M271.05 64.56 L271.05 69.76M272.52 65.69 L269.57 68.63" stroke="#12e4ff" stroke-width="0.9" opacity="0.6" fill="none"/>
<path d="M268.74 69.76 L273.94 69.76M269.87 68.29 L272.81 71.23M271.34 67.16 L271.34 72.36M272.81 68.29 L269.87 71.23" stroke="#12e4ff" stroke-width="0.9" opacity="0.6" fill="none"/>
<path d="M269.04 72.36 L274.24 72.36M270.17 70.89 L273.11 73.83M271.64 69.76 L271.64 74.96M273.11 70.89 L270.17 73.83" stroke="#12e4ff" stroke-width="0.9" opacity="0.6" fill="none"/>
<path d="M269.33 74.96 L274.53 74.96M270.46 73.49 L273.4 76.43M271.93 72.36 L271.93 77.56M273.4 73.49 L270.46 76.43" stroke="#12e4ff" stroke-width="0.9" opacity="0.6" fill="none"/>
<path d="M268.87 22.02L268.91 23.4L268.97 25.2L269.03 27.32L269.11 29.71L269.19 32.27L269.27 34.93L269.36 37.61L269.45 40.24L269.54 42.74L269.63 45.02L269.71 47.17L269.77 49.33L269.82 51.48L269.85 53.6L269.85 55.68L269.82 57.72L269.78 59.69L269.71 61.58L269.64 63.38L269.55 65.07L269.46 66.66L269.37 68.16L269.27 69.58L269.18 70.93L269.1 72.22L269.06 73.45L269.06 74.62L269.11 75.75L269.21 76.84L269.36 77.89L269.56 78.92L269.8 79.88L270.06 80.79L270.34 81.65L270.64 82.45L270.95 83.2L271.27 83.91L271.59 84.57L271.92 85.19L272.26 85.8L272.65 86.43L273.09 87.02L273.54 87.56L274 88.03L274.46 88.43L274.89 88.79L275.29 89.09L275.65 89.35L275.97 89.57L276.28 89.79L276.63 90.05L277.01 90.3L277.39 90.52L277.77 90.73L278.13 90.91L278.49 91.07L278.84 91.21L279.18 91.35L279.53 91.49L279.91 91.64L280.34 91.81L280.81 91.99L281.31 92.18L281.83 92.37L282.37 92.57L282.93 92.76L283.5 92.95L284.09 93.13L284.67 93.3L285.26 93.46L285.83 93.6L286.39 93.73L286.95 93.85L287.51 93.96L288.07 94.07L288.65 94.17L289.24 94.26L289.84 94.35L290.47 94.44L291.13 94.53L291.87 94.62L292.69 94.7L293.56 94.79L294.45 94.87L295.34 94.95L296.2 95.02L296.99 95.09L297.7 95.15L298.29 95.2L298.74 95.24L299.26 89.36L298.8 89.32L298.19 89.27L297.48 89.21L296.69 89.15L295.85 89.07L294.98 89L294.12 88.92L293.29 88.84L292.54 88.75L291.87 88.67L291.27 88.59L290.69 88.51L290.14 88.43L289.62 88.35L289.11 88.26L288.63 88.17L288.15 88.07L287.68 87.97L287.21 87.86L286.74 87.74L286.27 87.62L285.79 87.48L285.3 87.32L284.81 87.16L284.32 87L283.84 86.82L283.37 86.65L282.92 86.48L282.49 86.32L282.09 86.16L281.71 86.01L281.37 85.87L281.08 85.76L280.84 85.66L280.64 85.57L280.47 85.48L280.31 85.4L280.15 85.3L279.97 85.18L279.72 85.01L279.4 84.77L279.07 84.54L278.78 84.33L278.52 84.14L278.29 83.95L278.09 83.77L277.9 83.58L277.72 83.37L277.54 83.12L277.34 82.8L277.1 82.38L276.85 81.9L276.61 81.4L276.37 80.87L276.13 80.3L275.91 79.69L275.69 79.03L275.47 78.32L275.26 77.55L275.04 76.71L274.81 75.8L274.56 74.85L274.28 73.86L273.97 72.82L273.65 71.71L273.31 70.52L272.98 69.26L272.65 67.91L272.34 66.47L272.05 64.93L271.78 63.27L271.55 61.5L271.35 59.64L271.19 57.68L271.06 55.65L270.97 53.57L270.9 51.45L270.86 49.3L270.81 47.14L270.77 44.98L270.72 42.7L270.66 40.21L270.59 37.58L270.52 34.89L270.44 32.23L270.36 29.67L270.29 27.28L270.23 25.16L270.17 23.36L270.13 21.98Z" fill="#12e4ff" opacity="0.35" stroke="none"/><circle cx="299" cy="92.3" r="2.95" fill="#12e4ff" opacity="0.35"/>
<path d="M269.06 22.01L269.11 23.4L269.16 25.19L269.23 27.32L269.3 29.7L269.38 32.26L269.46 34.93L269.55 37.61L269.64 40.24L269.72 42.73L269.8 45.01L269.88 47.17L269.94 49.32L269.99 51.47L270.02 53.59L270.03 55.68L270.03 57.71L270.02 59.68L269.99 61.57L269.96 63.36L269.93 65.05L269.9 66.63L269.87 68.13L269.84 69.54L269.81 70.87L269.8 72.14L269.81 73.35L269.85 74.51L269.94 75.61L270.06 76.68L270.23 77.71L270.43 78.71L270.66 79.65L270.92 80.52L271.19 81.35L271.48 82.12L271.78 82.85L272.08 83.53L272.39 84.16L272.71 84.76L273.03 85.34L273.4 85.92L273.8 86.47L274.21 86.95L274.63 87.38L275.04 87.75L275.44 88.08L275.82 88.36L276.18 88.62L276.49 88.84L276.8 89.06L277.14 89.3L277.49 89.53L277.84 89.74L278.18 89.93L278.52 90.09L278.85 90.24L279.18 90.38L279.52 90.52L279.86 90.65L280.24 90.81L280.67 90.97L281.13 91.15L281.62 91.34L282.13 91.53L282.67 91.72L283.22 91.9L283.78 92.09L284.35 92.26L284.92 92.43L285.49 92.58L286.04 92.72L286.59 92.85L287.13 92.97L287.68 93.08L288.23 93.18L288.8 93.28L289.37 93.37L289.97 93.46L290.59 93.55L291.24 93.63L291.97 93.72L292.78 93.81L293.64 93.89L294.53 93.98L295.42 94.05L296.27 94.13L297.07 94.19L297.78 94.25L298.37 94.3L298.82 94.34L299.18 90.26L298.72 90.22L298.12 90.17L297.41 90.11L296.62 90.04L295.77 89.97L294.9 89.89L294.03 89.81L293.2 89.73L292.44 89.65L291.76 89.57L291.15 89.48L290.56 89.4L290 89.32L289.47 89.23L288.95 89.14L288.46 89.05L287.97 88.95L287.49 88.85L287 88.74L286.51 88.62L286.02 88.48L285.53 88.34L285.02 88.18L284.52 88.02L284.02 87.85L283.53 87.67L283.05 87.5L282.6 87.32L282.16 87.16L281.76 86.99L281.38 86.84L281.03 86.71L280.74 86.59L280.48 86.48L280.26 86.38L280.06 86.28L279.87 86.18L279.67 86.06L279.46 85.92L279.2 85.74L278.88 85.5L278.55 85.27L278.25 85.06L277.97 84.85L277.71 84.64L277.47 84.42L277.24 84.18L277.01 83.92L276.8 83.63L276.57 83.26L276.31 82.8L276.05 82.31L275.79 81.78L275.54 81.22L275.3 80.63L275.06 79.99L274.83 79.3L274.6 78.56L274.39 77.76L274.17 76.89L273.95 75.96L273.72 74.99L273.48 73.98L273.22 72.91L272.95 71.78L272.68 70.59L272.41 69.31L272.15 67.95L271.9 66.5L271.67 64.95L271.45 63.29L271.27 61.52L271.11 59.64L270.98 57.69L270.88 55.66L270.8 53.58L270.74 51.45L270.69 49.31L270.64 47.15L270.6 44.99L270.54 42.71L270.48 40.21L270.4 37.58L270.33 34.9L270.25 32.24L270.17 29.67L270.1 27.29L270.03 25.16L269.98 23.37L269.94 21.99Z" fill="#12e4ff" opacity="1.0" stroke="none"/><circle cx="299" cy="92.3" r="2.05" fill="#12e4ff" opacity="1.0"/>
<path d="M269.5 22C269.62 25.83 269.98 37.83 270.2 45C270.42 52.17 270.47 59.62 270.8 65C271.13 70.38 271.53 74.08 272.2 77.3C272.87 80.52 273.83 82.62 274.8 84.3C275.77 85.98 276.97 86.63 278 87.4C279.03 88.17 279.67 88.37 281 88.9C282.33 89.43 284.25 90.15 286 90.6C287.75 91.05 289.33 91.32 291.5 91.6C293.67 91.88 297.75 92.18 299 92.3" stroke="#0f5cff" stroke-width="1.7" stroke-linecap="butt" stroke-linejoin="round" fill="none"/>
<path d="M300.8 22C300.92 25.83 301.3 37.83 301.5 45C301.7 52.17 301.68 59.92 302 65C302.32 70.08 303.17 73.75 303.4 75.5" stroke="#c8ff28" stroke-width="3.6" stroke-linecap="butt" fill="none" opacity="0.14"/>
<path d="M298.38 28 L303.58 28M299.51 26.53 L302.45 29.47M300.98 25.4 L300.98 30.6M302.45 26.53 L299.51 29.47" stroke="#c8ff28" stroke-width="0.9" opacity="0.4" fill="none"/>
<path d="M298.64 36.5 L303.84 36.5M299.77 35.03 L302.71 37.97M301.24 33.9 L301.24 39.1M302.71 35.03 L299.77 37.97" stroke="#c8ff28" stroke-width="0.9" opacity="0.4" fill="none"/>
<path d="M298.85 43.3 L304.05 43.3M299.98 41.83 L302.92 44.77M301.45 40.7 L301.45 45.9M302.92 41.83 L299.98 44.77" stroke="#c8ff28" stroke-width="0.9" opacity="0.4" fill="none"/>
<path d="M298.99 48.74 L304.19 48.74M300.12 47.27 L303.06 50.21M301.59 46.14 L301.59 51.34M303.06 47.27 L300.12 50.21" stroke="#c8ff28" stroke-width="0.9" opacity="0.4" fill="none"/>
<path d="M299.1 53.09 L304.3 53.09M300.23 51.62 L303.17 54.56M301.7 50.49 L301.7 55.69M303.17 51.62 L300.23 54.56" stroke="#c8ff28" stroke-width="0.9" opacity="0.4" fill="none"/>
<path d="M299.19 56.57 L304.39 56.57M300.32 55.1 L303.26 58.04M301.79 53.97 L301.79 59.17M303.26 55.1 L300.32 58.04" stroke="#c8ff28" stroke-width="0.9" opacity="0.4" fill="none"/>
<path d="M299.26 59.36 L304.46 59.36M300.39 57.89 L303.33 60.83M301.86 56.76 L301.86 61.96M303.33 57.89 L300.39 60.83" stroke="#c8ff28" stroke-width="0.9" opacity="0.4" fill="none"/>
<path d="M299.32 61.96 L304.52 61.96M300.45 60.49 L303.39 63.43M301.92 59.36 L301.92 64.56M303.39 60.49 L300.45 63.43" stroke="#c8ff28" stroke-width="0.9" opacity="0.4" fill="none"/>
<path d="M299.39 64.56 L304.59 64.56M300.52 63.09 L303.46 66.03M301.99 61.96 L301.99 67.16M303.46 63.09 L300.52 66.03" stroke="#c8ff28" stroke-width="0.9" opacity="0.4" fill="none"/>
<path d="M299.69 67.16 L304.89 67.16M300.82 65.69 L303.76 68.63M302.29 64.56 L302.29 69.76M303.76 65.69 L300.82 68.63" stroke="#c8ff28" stroke-width="0.9" opacity="0.4" fill="none"/>
<path d="M300.03 69.76 L305.23 69.76M301.16 68.29 L304.11 71.23M302.63 67.16 L302.63 72.36M304.11 68.29 L301.16 71.23" stroke="#c8ff28" stroke-width="0.9" opacity="0.4" fill="none"/>
<path d="M300.38 72.36 L305.58 72.36M301.51 70.89 L304.45 73.83M302.98 69.76 L302.98 74.96M304.45 70.89 L301.51 73.83" stroke="#c8ff28" stroke-width="0.9" opacity="0.4" fill="none"/>
<path d="M300.73 74.96 L305.93 74.96M301.86 73.49 L304.8 76.43M303.33 72.36 L303.33 77.56M304.8 73.49 L301.86 76.43" stroke="#c8ff28" stroke-width="0.9" opacity="0.4" fill="none"/>
<path d="M300.25 22.02L300.29 23.4L300.35 25.19L300.42 27.32L300.5 29.7L300.58 32.27L300.67 34.93L300.77 37.61L300.87 40.24L300.96 42.73L301.06 45.01L301.14 47.17L301.21 49.35L301.25 51.53L301.28 53.68L301.27 55.79L301.23 57.84L301.17 59.81L301.07 61.68L300.96 63.44L300.82 65.07L300.68 66.55L300.53 67.89L300.39 69.12L300.28 70.25L300.21 71.31L300.18 72.3L300.21 73.25L300.28 74.17L300.39 75.09L300.53 76.03L300.69 77.02L300.88 78.02L301.08 79.03L301.29 80.02L301.51 81L301.73 81.95L301.97 82.87L302.21 83.74L302.47 84.56L302.74 85.34L303.03 86.06L303.35 86.73L303.69 87.33L304.05 87.88L304.42 88.36L304.79 88.77L305.13 89.12L305.43 89.42L305.69 89.67L305.96 89.93L306.32 90.26L306.73 90.6L307.13 90.89L307.52 91.15L307.88 91.37L308.22 91.56L308.54 91.73L308.82 91.88L309.08 92.01L309.33 92.16L309.61 92.32L309.92 92.5L310.24 92.69L310.57 92.88L310.92 93.07L311.28 93.27L311.65 93.46L312.04 93.65L312.45 93.84L312.86 94.02L313.26 94.18L313.65 94.33L314.03 94.47L314.43 94.61L314.83 94.74L315.24 94.86L315.67 94.99L316.11 95.11L316.58 95.23L317.08 95.36L317.62 95.49L318.19 95.63L318.8 95.77L319.43 95.92L320.08 96.06L320.75 96.2L321.44 96.34L322.13 96.47L322.83 96.6L323.54 96.71L324.29 96.83L325.09 96.93L325.92 97.03L326.76 97.13L327.58 97.22L328.37 97.3L329.09 97.37L329.74 97.43L330.27 97.49L330.68 97.53L331.32 91.67L330.89 91.62L330.33 91.56L329.68 91.5L328.97 91.43L328.2 91.35L327.4 91.26L326.61 91.17L325.83 91.08L325.11 90.98L324.46 90.89L323.84 90.78L323.21 90.67L322.57 90.55L321.94 90.42L321.32 90.29L320.71 90.16L320.12 90.02L319.55 89.89L319.02 89.76L318.52 89.64L318.06 89.52L317.64 89.41L317.26 89.31L316.92 89.21L316.6 89.11L316.3 89.01L316.01 88.91L315.72 88.81L315.43 88.7L315.14 88.58L314.86 88.46L314.59 88.33L314.32 88.2L314.04 88.05L313.76 87.9L313.48 87.74L313.19 87.58L312.89 87.41L312.59 87.23L312.27 87.04L311.93 86.85L311.6 86.67L311.31 86.52L311.05 86.38L310.83 86.26L310.64 86.15L310.48 86.04L310.34 85.94L310.22 85.83L310.04 85.67L309.78 85.42L309.52 85.17L309.3 84.96L309.13 84.78L308.99 84.62L308.86 84.45L308.73 84.25L308.59 84.01L308.43 83.68L308.26 83.26L308.07 82.72L307.87 82.08L307.67 81.34L307.46 80.53L307.26 79.67L307.05 78.77L306.85 77.84L306.66 76.88L306.47 75.93L306.27 74.97L306.07 74.04L305.85 73.15L305.6 72.3L305.31 71.46L304.99 70.59L304.64 69.68L304.27 68.68L303.89 67.58L303.52 66.33L303.18 64.93L302.87 63.35L302.62 61.63L302.41 59.78L302.26 57.82L302.14 55.77L302.07 53.67L302.02 51.51L301.99 49.34L301.97 47.15L301.94 44.99L301.91 42.7L301.86 40.21L301.8 37.58L301.73 34.9L301.66 32.23L301.58 29.67L301.51 27.29L301.45 25.16L301.39 23.37L301.35 21.98Z" fill="#c8ff28" opacity="0.35" stroke="none"/><circle cx="331" cy="94.6" r="2.95" fill="#c8ff28" opacity="0.35"/>
<path d="M300.42 22.01L300.46 23.39L300.52 25.19L300.59 27.32L300.66 29.7L300.74 32.26L300.83 34.92L300.92 37.61L301.02 40.23L301.11 42.73L301.19 45.01L301.27 47.17L301.33 49.35L301.37 51.52L301.4 53.68L301.4 55.79L301.39 57.84L301.36 59.8L301.31 61.67L301.25 63.43L301.18 65.05L301.11 66.52L301.04 67.85L300.99 69.05L300.95 70.16L300.94 71.2L300.96 72.17L301.03 73.1L301.13 74.02L301.25 74.93L301.4 75.87L301.57 76.85L301.76 77.85L301.96 78.85L302.17 79.83L302.38 80.8L302.61 81.74L302.84 82.63L303.08 83.48L303.32 84.28L303.58 85.02L303.86 85.7L304.15 86.31L304.46 86.86L304.79 87.35L305.12 87.79L305.45 88.16L305.76 88.49L306.05 88.77L306.31 89.02L306.58 89.28L306.91 89.59L307.28 89.89L307.64 90.15L307.99 90.39L308.33 90.59L308.65 90.77L308.96 90.93L309.24 91.08L309.51 91.23L309.78 91.38L310.06 91.55L310.37 91.72L310.69 91.91L311.01 92.1L311.35 92.28L311.7 92.47L312.06 92.66L312.43 92.84L312.82 93.02L313.21 93.19L313.59 93.35L313.96 93.49L314.33 93.63L314.71 93.76L315.1 93.88L315.49 94L315.91 94.12L316.34 94.24L316.81 94.36L317.3 94.49L317.83 94.62L318.4 94.76L319 94.9L319.62 95.04L320.27 95.18L320.93 95.32L321.61 95.46L322.3 95.59L322.99 95.71L323.68 95.83L324.41 95.93L325.2 96.04L326.02 96.14L326.85 96.23L327.67 96.32L328.46 96.4L329.18 96.47L329.83 96.54L330.37 96.59L330.78 96.64L331.22 92.56L330.79 92.52L330.24 92.46L329.59 92.39L328.87 92.32L328.1 92.24L327.3 92.16L326.5 92.07L325.72 91.97L324.98 91.87L324.32 91.77L323.69 91.67L323.04 91.55L322.4 91.43L321.76 91.3L321.13 91.17L320.51 91.04L319.92 90.9L319.35 90.77L318.8 90.64L318.3 90.51L317.83 90.39L317.41 90.28L317.02 90.18L316.66 90.07L316.33 89.97L316.01 89.87L315.71 89.76L315.4 89.65L315.1 89.53L314.79 89.41L314.49 89.28L314.2 89.14L313.91 89L313.62 88.85L313.33 88.69L313.03 88.53L312.74 88.36L312.44 88.18L312.14 88.01L311.82 87.82L311.49 87.64L311.18 87.47L310.88 87.31L310.62 87.17L310.38 87.04L310.17 86.91L309.97 86.78L309.79 86.65L309.62 86.51L309.42 86.32L309.16 86.07L308.9 85.82L308.67 85.59L308.47 85.39L308.29 85.19L308.13 84.97L307.96 84.72L307.79 84.42L307.61 84.05L307.42 83.58L307.22 83L307.01 82.33L306.8 81.57L306.59 80.75L306.38 79.88L306.17 78.96L305.97 78.02L305.78 77.06L305.59 76.09L305.4 75.13L305.2 74.2L305 73.31L304.77 72.44L304.53 71.59L304.26 70.7L303.98 69.77L303.68 68.75L303.38 67.63L303.09 66.37L302.82 64.95L302.58 63.37L302.38 61.64L302.22 59.78L302.1 57.82L302.01 55.78L301.95 53.67L301.9 51.52L301.87 49.34L301.84 47.16L301.81 44.99L301.76 42.71L301.71 40.21L301.64 37.59L301.57 34.9L301.49 32.24L301.42 29.68L301.34 27.29L301.28 25.16L301.22 23.37L301.18 21.99Z" fill="#c8ff28" opacity="1.0" stroke="none"/><circle cx="331" cy="94.6" r="2.05" fill="#c8ff28" opacity="1.0"/>
<path d="M300.8 22C300.92 25.83 301.3 37.83 301.5 45C301.7 52.17 301.68 59.92 302 65C302.32 70.08 302.82 72.28 303.4 75.5C303.98 78.72 304.73 82.25 305.5 84.3C306.27 86.35 307.12 86.92 308 87.8C308.88 88.68 309.8 89.02 310.8 89.6C311.8 90.18 312.83 90.82 314 91.3C315.17 91.78 316.13 92.08 317.8 92.5C319.47 92.92 321.8 93.45 324 93.8C326.2 94.15 329.83 94.47 331 94.6" stroke="#08ead8" stroke-width="1.7" stroke-linecap="butt" stroke-linejoin="round" fill="none"/>
<path d="M334 22C334.1 25.83 334.43 37.83 334.6 45C334.77 52.17 334.72 59.92 335 65C335.28 70.08 336.08 73.75 336.3 75.5" stroke="#ff6a00" stroke-width="3.6" stroke-linecap="butt" fill="none" opacity="0.12"/>
<path d="M331.5 26 L336.7 26M332.63 24.53 L335.58 27.47M334.1 23.4 L334.1 28.6M335.58 24.53 L332.63 27.47" stroke="#ff6a00" stroke-width="0.9" opacity="0.4" fill="none"/>
<path d="M331.62 30.4 L336.82 30.4M332.75 28.93 L335.69 31.87M334.22 27.8 L334.22 33M335.69 28.93 L332.75 31.87" stroke="#ff6a00" stroke-width="0.9" opacity="0.4" fill="none"/>
<path d="M331.73 34.67 L336.93 34.67M332.86 33.2 L335.8 36.14M334.33 32.07 L334.33 37.27M335.8 33.2 L332.86 36.14" stroke="#ff6a00" stroke-width="0.9" opacity="0.4" fill="none"/>
<path d="M331.84 38.81 L337.04 38.81M332.97 37.34 L335.91 40.28M334.44 36.21 L334.44 41.41M335.91 37.34 L332.97 40.28" stroke="#ff6a00" stroke-width="0.9" opacity="0.4" fill="none"/>
<path d="M331.94 42.82 L337.14 42.82M333.07 41.35 L336.01 44.29M334.54 40.22 L334.54 45.42M336.01 41.35 L333.07 44.29" stroke="#ff6a00" stroke-width="0.9" opacity="0.4" fill="none"/>
<path d="M332.03 46.72 L337.23 46.72M333.16 45.25 L336.11 48.19M334.63 44.12 L334.63 49.32M336.11 45.25 L333.16 48.19" stroke="#ff6a00" stroke-width="0.9" opacity="0.4" fill="none"/>
<path d="M332.11 50.5 L337.31 50.5M333.24 49.03 L336.18 51.97M334.71 47.9 L334.71 53.1M336.18 49.03 L333.24 51.97" stroke="#ff6a00" stroke-width="0.9" opacity="0.4" fill="none"/>
<path d="M332.18 54.16 L337.38 54.16M333.31 52.69 L336.25 55.63M334.78 51.56 L334.78 56.76M336.25 52.69 L333.31 55.63" stroke="#ff6a00" stroke-width="0.9" opacity="0.4" fill="none"/>
<path d="M332.25 57.72 L337.45 57.72M333.38 56.25 L336.33 59.19M334.85 55.12 L334.85 60.32M336.33 56.25 L333.38 59.19" stroke="#ff6a00" stroke-width="0.9" opacity="0.4" fill="none"/>
<path d="M332.32 61.17 L337.52 61.17M333.45 59.7 L336.39 62.64M334.92 58.57 L334.92 63.77M336.39 59.7 L333.45 62.64" stroke="#ff6a00" stroke-width="0.9" opacity="0.4" fill="none"/>
<path d="M332.39 64.51 L337.59 64.51M333.52 63.04 L336.46 65.98M334.99 61.91 L334.99 67.11M336.46 63.04 L333.52 65.98" stroke="#ff6a00" stroke-width="0.9" opacity="0.4" fill="none"/>
<path d="M332.74 67.76 L337.94 67.76M333.87 66.29 L336.81 69.23M335.34 65.16 L335.34 70.36M336.81 66.29 L333.87 69.23" stroke="#ff6a00" stroke-width="0.9" opacity="0.4" fill="none"/>
<path d="M333.13 70.9 L338.33 70.9M334.26 69.43 L337.2 72.37M335.73 68.3 L335.73 73.5M337.2 69.43 L334.26 72.37" stroke="#ff6a00" stroke-width="0.9" opacity="0.4" fill="none"/>
<path d="M333.51 73.96 L338.71 73.96M334.64 72.49 L337.58 75.43M336.11 71.36 L336.11 76.56M337.58 72.49 L334.64 75.43" stroke="#ff6a00" stroke-width="0.9" opacity="0.4" fill="none"/>
<path d="M333.63 22.01L333.67 23.39L333.72 25.19L333.78 27.31L333.84 29.7L333.92 32.26L334 34.92L334.08 37.6L334.16 40.23L334.24 42.73L334.32 45.01L334.39 47.17L334.44 49.35L334.47 51.52L334.49 53.67L334.49 55.78L334.46 57.83L334.42 59.8L334.36 61.67L334.3 63.42L334.22 65.04L334.14 66.5L334.05 67.82L333.95 69.03L333.84 70.14L333.75 71.18L333.66 72.17L333.6 73.14L333.57 74.1L333.58 75.06L333.63 76.07L333.74 77.12L333.92 78.18L334.14 79.23L334.39 80.26L334.68 81.26L334.98 82.22L335.28 83.13L335.59 83.98L335.9 84.78L336.2 85.52L336.52 86.21L336.86 86.85L337.22 87.42L337.59 87.94L337.96 88.39L338.31 88.77L338.63 89.08L338.91 89.34L339.13 89.55L339.36 89.77L339.64 90.05L339.97 90.36L340.3 90.64L340.63 90.91L340.97 91.17L341.31 91.41L341.66 91.64L342.01 91.86L342.36 92.06L342.73 92.27L343.11 92.48L343.5 92.68L343.91 92.88L344.33 93.07L344.76 93.26L345.21 93.45L345.66 93.62L346.13 93.79L346.61 93.96L347.1 94.11L347.59 94.26L348.08 94.4L348.58 94.54L349.1 94.66L349.63 94.79L350.18 94.91L350.75 95.02L351.33 95.13L351.94 95.23L352.58 95.32L353.24 95.41L353.93 95.49L354.64 95.56L355.36 95.63L356.09 95.69L356.84 95.75L357.58 95.8L358.33 95.85L359.07 95.9L359.82 95.94L360.61 95.99L361.46 96.03L362.35 96.07L363.25 96.1L364.13 96.14L364.98 96.16L365.76 96.19L366.46 96.21L367.04 96.23L367.49 96.25L367.71 90.15L367.25 90.14L366.66 90.12L365.96 90.09L365.18 90.07L364.34 90.04L363.48 90.01L362.6 89.97L361.74 89.94L360.93 89.9L360.18 89.86L359.46 89.81L358.73 89.76L358 89.72L357.29 89.66L356.58 89.61L355.9 89.55L355.23 89.49L354.6 89.42L353.99 89.35L353.42 89.28L352.89 89.2L352.37 89.11L351.88 89.03L351.42 88.93L350.97 88.84L350.53 88.74L350.11 88.63L349.7 88.52L349.3 88.4L348.9 88.29L348.52 88.17L348.16 88.04L347.81 87.92L347.48 87.78L347.15 87.65L346.84 87.51L346.53 87.37L346.24 87.23L345.95 87.08L345.67 86.93L345.41 86.78L345.16 86.64L344.95 86.5L344.75 86.37L344.57 86.24L344.39 86.11L344.22 85.97L344.05 85.82L343.87 85.66L343.64 85.43L343.35 85.15L343.07 84.88L342.85 84.67L342.68 84.51L342.54 84.36L342.42 84.22L342.3 84.05L342.16 83.82L341.99 83.51L341.8 83.08L341.57 82.52L341.31 81.85L341.04 81.11L340.76 80.3L340.47 79.44L340.18 78.56L339.89 77.65L339.59 76.74L339.28 75.83L338.97 74.93L338.64 74.06L338.3 73.22L337.96 72.41L337.61 71.58L337.27 70.72L336.93 69.79L336.61 68.78L336.31 67.65L336.03 66.38L335.78 64.96L335.55 63.37L335.37 61.64L335.22 59.78L335.1 57.82L335.02 55.78L334.97 53.67L334.94 51.52L334.92 49.34L334.9 47.16L334.88 44.99L334.85 42.71L334.81 40.22L334.76 37.59L334.7 34.9L334.63 32.24L334.57 29.68L334.51 27.29L334.45 25.17L334.4 23.37L334.37 21.99Z" fill="#ff6a00" opacity="0.35" stroke="none"/><circle cx="367.6" cy="93.2" r="3.05" fill="#ff6a00" opacity="0.35"/>
<path d="M333.74 22.01L333.78 23.39L333.83 25.18L333.89 27.31L333.95 29.69L334.02 32.26L334.1 34.92L334.18 37.6L334.25 40.23L334.33 42.72L334.4 45L334.46 47.17L334.51 49.35L334.54 51.52L334.56 53.67L334.57 55.78L334.56 57.83L334.54 59.8L334.51 61.67L334.48 63.42L334.45 65.03L334.42 66.49L334.38 67.8L334.34 68.99L334.3 70.09L334.27 71.11L334.25 72.09L334.24 73.03L334.27 73.97L334.32 74.91L334.42 75.9L334.56 76.93L334.75 77.97L334.98 79L335.25 80.01L335.53 80.99L335.83 81.93L336.13 82.83L336.44 83.67L336.73 84.45L337.03 85.16L337.33 85.81L337.64 86.4L337.97 86.92L338.3 87.39L338.63 87.79L338.96 88.14L339.26 88.43L339.52 88.68L339.75 88.9L339.99 89.13L340.27 89.4L340.57 89.69L340.88 89.95L341.19 90.21L341.5 90.44L341.82 90.67L342.14 90.88L342.47 91.09L342.81 91.28L343.16 91.48L343.53 91.68L343.91 91.88L344.3 92.07L344.7 92.25L345.11 92.43L345.54 92.61L345.98 92.78L346.43 92.95L346.89 93.1L347.37 93.25L347.84 93.4L348.32 93.53L348.81 93.66L349.31 93.79L349.83 93.91L350.36 94.03L350.91 94.13L351.49 94.24L352.08 94.34L352.7 94.43L353.35 94.52L354.03 94.59L354.72 94.67L355.44 94.73L356.17 94.79L356.9 94.85L357.64 94.9L358.39 94.95L359.13 95L359.87 95.05L360.66 95.09L361.5 95.13L362.39 95.17L363.28 95.2L364.16 95.24L365.01 95.26L365.79 95.29L366.49 95.31L367.07 95.33L367.52 95.35L367.68 91.05L367.22 91.03L366.63 91.02L365.93 90.99L365.15 90.97L364.31 90.94L363.44 90.91L362.56 90.87L361.7 90.84L360.88 90.8L360.13 90.75L359.4 90.71L358.67 90.66L357.94 90.61L357.22 90.56L356.51 90.51L355.82 90.45L355.14 90.39L354.5 90.32L353.88 90.25L353.3 90.17L352.75 90.09L352.22 90L351.72 89.91L351.23 89.81L350.77 89.71L350.32 89.61L349.89 89.5L349.46 89.39L349.04 89.27L348.63 89.15L348.24 89.02L347.86 88.89L347.5 88.76L347.14 88.62L346.8 88.48L346.47 88.33L346.15 88.18L345.83 88.03L345.53 87.88L345.24 87.72L344.96 87.56L344.7 87.41L344.46 87.26L344.24 87.11L344.04 86.97L343.84 86.82L343.64 86.66L343.45 86.49L343.25 86.3L343.01 86.07L342.73 85.8L342.46 85.54L342.23 85.33L342.03 85.14L341.87 84.96L341.71 84.77L341.55 84.55L341.38 84.27L341.19 83.91L340.97 83.44L340.73 82.86L340.46 82.17L340.19 81.41L339.9 80.58L339.62 79.71L339.33 78.81L339.04 77.88L338.75 76.95L338.47 76.02L338.18 75.1L337.89 74.21L337.6 73.35L337.31 72.52L337.03 71.67L336.75 70.79L336.48 69.85L336.22 68.81L335.98 67.67L335.76 66.4L335.55 64.97L335.37 63.38L335.22 61.65L335.1 59.79L335.01 57.82L334.95 55.78L334.9 53.67L334.87 51.52L334.85 49.34L334.83 47.16L334.8 45L334.76 42.71L334.71 40.22L334.66 37.59L334.59 34.91L334.53 32.24L334.46 29.68L334.4 27.3L334.34 25.17L334.29 23.38L334.26 21.99Z" fill="#ff6a00" opacity="1.0" stroke="none"/><circle cx="367.6" cy="93.2" r="2.15" fill="#ff6a00" opacity="1.0"/>
<path d="M334 22C334.1 25.83 334.43 37.83 334.6 45C334.77 52.17 334.72 59.92 335 65C335.28 70.08 335.63 72.28 336.3 75.5C336.97 78.72 338.13 82.28 339 84.3C339.87 86.32 340.63 86.72 341.5 87.6C342.37 88.48 343.12 89 344.2 89.6C345.28 90.2 346.53 90.75 348 91.2C349.47 91.65 351 92.02 353 92.3C355 92.58 357.57 92.75 360 92.9C362.43 93.05 366.33 93.15 367.6 93.2" stroke="#ecff00" stroke-width="1.7" stroke-linecap="butt" stroke-linejoin="round" fill="none"/>
<path d="M236.7 22C236.78 25 236.98 33.67 237.2 40C237.42 46.33 237.87 56.67 238 60" stroke="#be1a18" stroke-width="3.4" stroke-linecap="butt" fill="none" opacity="0.28"/>
<path d="M235.4 22.03L235.43 23.1L235.46 24.45L235.5 26.05L235.55 27.84L235.6 29.78L235.65 31.83L235.71 33.92L235.77 36.02L235.84 38.08L235.9 40.04L235.96 42.01L236.03 44.11L236.09 46.28L236.15 48.49L236.21 50.69L236.28 52.84L236.34 54.9L236.39 56.83L236.42 58.59L236.44 60.14L236.44 61.46L236.43 62.59L236.43 63.56L236.47 64.41L236.55 65.18L236.69 65.86L236.85 66.48L237.04 67.08L237.24 67.7L237.46 68.43L237.72 69.28L238.01 70.19L238.31 71.13L238.63 72.08L238.96 73.05L239.31 74.01L239.66 74.95L240.03 75.88L240.4 76.77L240.77 77.61L241.12 78.38L241.47 79.12L241.82 79.85L242.18 80.57L242.56 81.28L242.98 81.98L243.42 82.67L243.9 83.35L244.43 84.02L245.01 84.68L245.65 85.31L246.32 85.92L247.01 86.49L247.73 87.03L248.46 87.55L249.2 88.03L249.94 88.49L250.67 88.91L251.38 89.31L252.09 89.68L252.8 90.03L253.52 90.35L254.23 90.62L254.93 90.87L255.61 91.09L256.3 91.29L256.97 91.47L257.65 91.64L258.32 91.81L259.02 91.98L259.77 92.16L260.55 92.33L261.35 92.49L262.15 92.64L262.96 92.78L263.75 92.92L264.54 93.05L265.32 93.18L266.07 93.3L266.8 93.42L267.5 93.53L268.18 93.65L268.85 93.75L269.51 93.86L270.17 93.96L270.83 94.06L271.51 94.15L272.21 94.25L272.95 94.34L273.71 94.43L274.47 94.52L275.2 94.61L275.92 94.69L276.67 94.78L277.45 94.86L278.29 94.94L279.2 95.02L280.2 95.09L281.31 95.17L282.56 95.25L283.89 95.32L285.28 95.39L286.74 95.47L288.28 95.54L289.92 95.61L291.66 95.68L293.52 95.75L295.51 95.82L297.64 95.88L299.93 95.95L302.46 96.01L305.24 96.08L308.22 96.14L311.35 96.2L314.56 96.26L317.81 96.32L321.03 96.38L324.16 96.44L327.15 96.49L329.95 96.55L332.67 96.61L335.46 96.66L338.24 96.72L340.98 96.78L343.62 96.84L346.11 96.89L348.4 96.94L350.44 96.98L352.17 97.02L353.55 97.05L353.65 92.15L352.28 92.12L350.55 92.08L348.51 92.04L346.22 91.99L343.73 91.94L341.09 91.88L338.35 91.82L335.56 91.76L332.78 91.71L330.05 91.65L327.25 91.59L324.25 91.54L321.12 91.48L317.9 91.42L314.65 91.36L311.44 91.3L308.32 91.24L305.34 91.18L302.57 91.12L300.07 91.05L297.79 90.99L295.67 90.92L293.69 90.85L291.85 90.78L290.12 90.71L288.5 90.64L286.98 90.57L285.53 90.5L284.16 90.43L282.84 90.35L281.63 90.28L280.56 90.21L279.6 90.13L278.73 90.06L277.94 89.98L277.19 89.9L276.48 89.82L275.77 89.74L275.04 89.66L274.29 89.57L273.55 89.48L272.85 89.39L272.18 89.3L271.53 89.21L270.9 89.11L270.26 89.02L269.63 88.92L268.98 88.81L268.3 88.7L267.6 88.58L266.86 88.46L266.1 88.34L265.34 88.21L264.57 88.09L263.79 87.96L263.03 87.82L262.28 87.68L261.56 87.53L260.86 87.38L260.18 87.22L259.5 87.05L258.84 86.89L258.21 86.73L257.61 86.57L257.04 86.4L256.48 86.22L255.94 86.03L255.4 85.82L254.87 85.59L254.31 85.32L253.72 85L253.09 84.66L252.46 84.29L251.83 83.9L251.21 83.49L250.62 83.07L250.05 82.64L249.51 82.2L249.02 81.76L248.59 81.32L248.19 80.88L247.82 80.41L247.48 79.93L247.15 79.42L246.84 78.87L246.52 78.3L246.21 77.68L245.89 77.02L245.57 76.32L245.23 75.59L244.9 74.84L244.57 74.04L244.24 73.2L243.91 72.32L243.59 71.42L243.27 70.5L242.97 69.59L242.67 68.7L242.4 67.83L242.14 66.97L241.88 66.18L241.63 65.48L241.4 64.9L241.18 64.39L240.95 63.91L240.69 63.4L240.42 62.79L240.12 62.03L239.83 61.06L239.56 59.86L239.33 58.39L239.15 56.68L239.02 54.78L238.91 52.74L238.82 50.6L238.75 48.41L238.69 46.2L238.62 44.03L238.56 41.93L238.5 39.96L238.43 38L238.37 35.95L238.31 33.85L238.25 31.76L238.2 29.72L238.15 27.77L238.1 25.98L238.06 24.38L238.03 23.03L238 21.97Z" fill="#c8201c" opacity="0.4" stroke="none"/><circle cx="353.6" cy="94.6" r="2.45" fill="#c8201c" opacity="0.4"/>
<path d="M235.9 22.02L235.93 23.08L235.96 24.44L236 26.03L236.05 27.83L236.1 29.77L236.15 31.81L236.21 33.91L236.27 36.01L236.34 38.06L236.4 40.03L236.46 42L236.53 44.09L236.59 46.26L236.65 48.47L236.71 50.67L236.78 52.82L236.84 54.88L236.9 56.8L236.94 58.56L236.98 60.09L237 61.4L237.02 62.5L237.06 63.44L237.12 64.26L237.23 64.98L237.38 65.63L237.55 66.24L237.74 66.83L237.95 67.47L238.18 68.2L238.44 69.06L238.72 69.96L239.02 70.89L239.34 71.84L239.67 72.8L240.01 73.75L240.36 74.68L240.72 75.6L241.09 76.47L241.45 77.3L241.8 78.06L242.14 78.8L242.49 79.52L242.85 80.22L243.22 80.91L243.61 81.59L244.04 82.25L244.5 82.9L245.01 83.54L245.56 84.16L246.16 84.77L246.8 85.35L247.48 85.9L248.17 86.43L248.88 86.92L249.6 87.4L250.32 87.84L251.04 88.26L251.74 88.65L252.43 89.02L253.12 89.35L253.81 89.65L254.49 89.92L255.16 90.16L255.83 90.37L256.5 90.56L257.16 90.74L257.83 90.91L258.5 91.08L259.2 91.25L259.94 91.43L260.71 91.6L261.49 91.75L262.29 91.9L263.08 92.04L263.88 92.18L264.67 92.31L265.44 92.43L266.19 92.56L266.92 92.68L267.63 92.79L268.31 92.91L268.97 93.01L269.62 93.12L270.28 93.22L270.94 93.32L271.61 93.41L272.31 93.5L273.04 93.6L273.8 93.69L274.56 93.78L275.28 93.86L276.01 93.95L276.75 94.03L277.52 94.11L278.36 94.19L279.26 94.27L280.26 94.35L281.36 94.42L282.6 94.5L283.93 94.57L285.32 94.65L286.78 94.72L288.31 94.79L289.95 94.86L291.69 94.93L293.55 95L295.53 95.07L297.67 95.13L299.95 95.2L302.47 95.26L305.25 95.33L308.23 95.39L311.36 95.45L314.57 95.51L317.82 95.57L321.04 95.63L324.17 95.69L327.17 95.74L329.97 95.8L332.69 95.86L335.47 95.91L338.26 95.97L341 96.03L343.64 96.09L346.13 96.14L348.42 96.19L350.46 96.23L352.19 96.27L353.56 96.3L353.64 92.9L352.26 92.87L350.53 92.83L348.49 92.79L346.2 92.74L343.71 92.69L341.07 92.63L338.33 92.57L335.54 92.51L332.76 92.46L330.03 92.4L327.23 92.34L324.24 92.29L321.1 92.23L317.88 92.17L314.64 92.11L311.43 92.05L308.3 91.99L305.33 91.93L302.56 91.86L300.05 91.8L297.77 91.74L295.64 91.67L293.67 91.6L291.82 91.53L290.09 91.46L288.47 91.39L286.94 91.32L285.49 91.25L284.12 91.18L282.8 91.1L281.58 91.03L280.5 90.95L279.54 90.88L278.66 90.8L277.86 90.73L277.11 90.65L276.39 90.57L275.68 90.49L274.95 90.4L274.2 90.31L273.45 90.22L272.75 90.13L272.08 90.04L271.42 89.95L270.78 89.86L270.15 89.76L269.51 89.66L268.86 89.55L268.18 89.44L267.48 89.32L266.74 89.2L265.98 89.08L265.22 88.95L264.44 88.83L263.67 88.69L262.9 88.56L262.14 88.42L261.4 88.27L260.69 88.11L260 87.95L259.32 87.78L258.66 87.61L258.02 87.45L257.41 87.29L256.82 87.12L256.24 86.93L255.67 86.74L255.11 86.51L254.55 86.27L253.97 85.98L253.36 85.66L252.72 85.31L252.07 84.93L251.43 84.53L250.79 84.11L250.17 83.68L249.58 83.23L249.02 82.77L248.51 82.31L248.04 81.84L247.62 81.36L247.22 80.86L246.86 80.35L246.51 79.81L246.18 79.24L245.86 78.64L245.54 78.01L245.22 77.34L244.89 76.64L244.55 75.9L244.21 75.14L243.88 74.33L243.54 73.47L243.21 72.58L242.88 71.67L242.56 70.75L242.25 69.83L241.96 68.93L241.68 68.05L241.42 67.2L241.17 66.41L240.93 65.73L240.7 65.14L240.49 64.61L240.27 64.11L240.04 63.56L239.79 62.91L239.53 62.12L239.27 61.13L239.02 59.91L238.81 58.42L238.65 56.71L238.51 54.8L238.41 52.76L238.32 50.62L238.25 48.42L238.19 46.22L238.12 44.05L238.06 41.95L238 39.97L237.94 38.01L237.87 35.96L237.81 33.86L237.75 31.77L237.7 29.73L237.65 27.79L237.6 25.99L237.56 24.4L237.53 23.04L237.5 21.98Z" fill="#be1a18" opacity="0.9" stroke="none"/><circle cx="353.6" cy="94.6" r="1.7" fill="#be1a18" opacity="0.9"/>
<path d="M236.7 22C236.78 25 236.98 33.67 237.2 40C237.42 46.33 237.57 55.38 238 60C238.43 64.62 238.97 64.93 239.8 67.7C240.63 70.47 241.83 74.05 243 76.6C244.17 79.15 245.1 81.18 246.8 83C248.5 84.82 251.07 86.4 253.2 87.5C255.33 88.6 257.27 89.02 259.6 89.6C261.93 90.18 264.8 90.6 267.2 91C269.6 91.4 271.42 91.7 274 92C276.58 92.3 278.37 92.55 282.7 92.8C287.03 93.05 292.12 93.28 300 93.5C307.88 93.72 321.07 93.92 330 94.1C338.93 94.28 349.67 94.52 353.6 94.6" stroke="#ff4210" stroke-width="1.6" stroke-linecap="butt" stroke-linejoin="round" fill="none"/>
<path d="M311.51 92.73L311.85 92.83L312.29 92.95L312.8 93.1L313.39 93.27L314.02 93.45L314.69 93.64L315.37 93.83L316.06 94.01L316.73 94.19L317.37 94.35L317.98 94.5L318.59 94.64L319.2 94.78L319.82 94.92L320.45 95.06L321.08 95.19L321.72 95.32L322.38 95.45L323.04 95.57L323.72 95.68L324.45 95.79L325.23 95.89L326.05 95.99L326.88 96.08L327.7 96.17L328.48 96.25L329.21 96.33L329.85 96.39L330.39 96.44L330.81 96.49L331.19 92.91L330.77 92.86L330.22 92.81L329.57 92.74L328.85 92.67L328.08 92.59L327.28 92.51L326.47 92.41L325.69 92.32L324.95 92.22L324.28 92.12L323.65 92.02L323.03 91.91L322.41 91.79L321.81 91.67L321.2 91.54L320.6 91.41L320.01 91.27L319.41 91.13L318.82 90.99L318.23 90.85L317.62 90.7L316.98 90.53L316.32 90.36L315.66 90.17L315 89.99L314.38 89.81L313.8 89.64L313.28 89.49L312.84 89.37L312.49 89.27Z" fill="#c8ff28" opacity="0.5" stroke="none"/><circle cx="331" cy="94.7" r="1.8" fill="#c8ff28" opacity="0.5"/>
</g>
</g>
<g>
<line x1="458.4" y1="22" x2="458.4" y2="120" stroke="#efefef" stroke-width="0.8"/>
<line x1="507.1" y1="22" x2="507.1" y2="120" stroke="#efefef" stroke-width="0.8"/>
<line x1="409.7" y1="97.38" x2="542" y2="97.38" stroke="#efefef" stroke-width="0.8"/>
<line x1="409.7" y1="59.69" x2="542" y2="59.69" stroke="#efefef" stroke-width="0.8"/>
<rect x="409.7" y="22" width="132.3" height="98" fill="none" stroke="#b0b0b0" stroke-width="1"/>
<line x1="409.7" y1="120" x2="409.7" y2="118.6" stroke="#555" stroke-width="0.8" opacity="0.8"/>
<line x1="458.4" y1="120" x2="458.4" y2="118.6" stroke="#555" stroke-width="0.8" opacity="0.8"/>
<line x1="507.1" y1="120" x2="507.1" y2="118.6" stroke="#555" stroke-width="0.8" opacity="0.8"/>
<line x1="409.7" y1="97.38" x2="411.1" y2="97.38" stroke="#555" stroke-width="0.8" opacity="0.8"/>
<line x1="542" y1="97.38" x2="540.6" y2="97.38" stroke="#555" stroke-width="0.8" opacity="0.8"/>
<line x1="409.7" y1="59.69" x2="411.1" y2="59.69" stroke="#555" stroke-width="0.8" opacity="0.8"/>
<line x1="542" y1="59.69" x2="540.6" y2="59.69" stroke="#555" stroke-width="0.8" opacity="0.8"/>
<line x1="409.7" y1="22" x2="411.1" y2="22" stroke="#555" stroke-width="0.8" opacity="0.8"/>
<line x1="542" y1="22" x2="540.6" y2="22" stroke="#555" stroke-width="0.8" opacity="0.8"/>
<text x="409.4" y="139" text-anchor="middle" class="tk">0</text>
<text x="458.1" y="139" text-anchor="middle" class="tk">50</text>
<text x="506.8" y="139" text-anchor="middle" class="tk">100</text>
<text x="405.2" y="102.88" text-anchor="end" class="tk">0</text>
<text x="405.2" y="65.19" text-anchor="end" class="tk">50</text>
<text x="405.2" y="27.5" text-anchor="end" class="tk">100</text>
<text x="475.85" y="16.4" text-anchor="middle" class="tt">3.8 V</text>
<g clip-path="url(#cp3)">
<path d="M411.8 22.8C411.93 26.63 412.22 38.63 412.6 45.8C412.98 52.97 413.85 62.47 414.1 65.8" stroke="#1e48ea" stroke-width="3.4" stroke-linecap="butt" fill="none" opacity="0.3"/>
<path d="M409.28 25 L414.48 25M410.41 23.53 L413.35 26.47M411.88 22.4 L411.88 27.6M413.35 23.53 L410.41 26.47" stroke="#1e48ea" stroke-width="0.9" opacity="0.6" fill="none"/>
<path d="M409.42 29 L414.62 29M410.54 27.53 L413.49 30.47M412.02 26.4 L412.02 31.6M413.49 27.53 L410.54 30.47" stroke="#1e48ea" stroke-width="0.9" opacity="0.6" fill="none"/>
<path d="M409.55 32.8 L414.75 32.8M410.68 31.33 L413.62 34.27M412.15 30.2 L412.15 35.4M413.62 31.33 L410.68 34.27" stroke="#1e48ea" stroke-width="0.9" opacity="0.6" fill="none"/>
<path d="M409.67 36.41 L414.87 36.41M410.8 34.94 L413.74 37.88M412.27 33.81 L412.27 39.01M413.74 34.94 L410.8 37.88" stroke="#1e48ea" stroke-width="0.9" opacity="0.6" fill="none"/>
<path d="M409.79 39.84 L414.99 39.84M410.92 38.37 L413.86 41.31M412.39 37.24 L412.39 42.44M413.86 38.37 L410.92 41.31" stroke="#1e48ea" stroke-width="0.9" opacity="0.6" fill="none"/>
<path d="M409.91 43.1 L415.11 43.1M411.04 41.63 L413.98 44.57M412.51 40.5 L412.51 45.7M413.98 41.63 L411.04 44.57" stroke="#1e48ea" stroke-width="0.9" opacity="0.6" fill="none"/>
<path d="M410.03 46.19 L415.23 46.19M411.16 44.72 L414.1 47.66M412.63 43.59 L412.63 48.79M414.1 44.72 L411.16 47.66" stroke="#1e48ea" stroke-width="0.9" opacity="0.6" fill="none"/>
<path d="M410.25 49.13 L415.45 49.13M411.38 47.66 L414.32 50.6M412.85 46.53 L412.85 51.73M414.32 47.66 L411.38 50.6" stroke="#1e48ea" stroke-width="0.9" opacity="0.6" fill="none"/>
<path d="M410.46 51.93 L415.66 51.93M411.59 50.46 L414.53 53.4M413.06 49.33 L413.06 54.53M414.53 50.46 L411.59 53.4" stroke="#1e48ea" stroke-width="0.9" opacity="0.6" fill="none"/>
<path d="M410.66 54.58 L415.86 54.58M411.79 53.11 L414.73 56.05M413.26 51.98 L413.26 57.18M414.73 53.11 L411.79 56.05" stroke="#1e48ea" stroke-width="0.9" opacity="0.6" fill="none"/>
<path d="M410.85 57.18 L416.05 57.18M411.98 55.71 L414.92 58.65M413.45 54.58 L413.45 59.78M414.92 55.71 L411.98 58.65" stroke="#1e48ea" stroke-width="0.9" opacity="0.6" fill="none"/>
<path d="M411.05 59.78 L416.25 59.78M412.18 58.31 L415.12 61.25M413.65 57.18 L413.65 62.38M415.12 58.31 L412.18 61.25" stroke="#1e48ea" stroke-width="0.9" opacity="0.6" fill="none"/>
<path d="M411.37 22.81L411.42 24.2L411.47 25.99L411.52 28.12L411.58 30.5L411.63 33.06L411.69 35.73L411.73 38.42L411.78 41.05L411.82 43.55L411.87 45.84L411.92 48.02L411.99 50.23L412.07 52.44L412.16 54.63L412.27 56.77L412.38 58.84L412.5 60.81L412.62 62.67L412.72 64.38L412.82 65.92L412.88 67.26L412.89 68.41L412.87 69.42L412.8 70.31L412.7 71.14L412.59 71.93L412.49 72.72L412.43 73.53L412.42 74.38L412.5 75.29L412.64 76.25L412.85 77.24L413.1 78.23L413.39 79.23L413.71 80.23L414.06 81.21L414.43 82.18L414.82 83.11L415.23 84.02L415.67 84.86L416.1 85.63L416.53 86.35L416.99 87.05L417.47 87.71L417.99 88.36L418.54 88.98L419.14 89.56L419.77 90.13L420.45 90.66L421.16 91.17L421.91 91.65L422.68 92.1L423.48 92.53L424.32 92.93L425.19 93.31L426.1 93.66L427.04 93.98L428.02 94.28L429.04 94.56L430.14 94.83L431.37 95.07L432.74 95.29L434.18 95.47L435.67 95.64L437.15 95.79L438.58 95.92L439.91 96.03L441.09 96.13L442.06 96.21L442.79 96.28L443.41 90.12L442.63 90.04L441.62 89.95L440.44 89.85L439.13 89.74L437.74 89.61L436.32 89.47L434.92 89.32L433.61 89.15L432.44 88.97L431.46 88.77L430.59 88.56L429.75 88.33L428.96 88.09L428.22 87.83L427.53 87.57L426.89 87.29L426.28 87L425.71 86.69L425.16 86.37L424.64 86.03L424.17 85.7L423.75 85.37L423.37 85.04L423.03 84.7L422.71 84.34L422.4 83.96L422.09 83.53L421.78 83.05L421.46 82.52L421.13 81.94L420.82 81.32L420.5 80.63L420.19 79.87L419.88 79.07L419.57 78.22L419.28 77.35L418.99 76.47L418.71 75.6L418.41 74.74L418.1 73.91L417.78 73.17L417.46 72.51L417.13 71.91L416.8 71.3L416.5 70.66L416.22 69.94L415.97 69.11L415.76 68.14L415.57 67.01L415.38 65.68L415.19 64.16L415 62.46L414.8 60.62L414.59 58.66L414.38 56.61L414.16 54.48L413.95 52.31L413.73 50.11L413.53 47.92L413.33 45.76L413.15 43.49L412.99 41L412.83 38.38L412.7 35.7L412.58 33.04L412.48 30.47L412.4 28.09L412.33 25.96L412.27 24.17L412.23 22.79Z" fill="#1e48ea" opacity="0.35" stroke="none"/><circle cx="443.1" cy="93.2" r="3.1" fill="#1e48ea" opacity="0.35"/>
<path d="M411.5 22.81L411.54 24.19L411.59 25.98L411.65 28.11L411.71 30.5L411.77 33.06L411.83 35.72L411.89 38.41L411.95 41.04L412.02 43.54L412.08 45.83L412.15 48.01L412.24 50.21L412.34 52.42L412.45 54.61L412.58 56.75L412.7 58.81L412.83 60.79L412.96 62.64L413.08 64.35L413.19 65.88L413.27 67.22L413.31 68.37L413.32 69.37L413.3 70.26L413.25 71.07L413.2 71.84L413.16 72.6L413.16 73.38L413.2 74.2L413.31 75.09L413.48 76.03L413.7 77L413.96 77.98L414.25 78.96L414.56 79.94L414.9 80.9L415.26 81.84L415.64 82.75L416.04 83.62L416.46 84.44L416.88 85.18L417.29 85.87L417.73 86.54L418.19 87.17L418.67 87.78L419.2 88.35L419.75 88.91L420.35 89.43L420.99 89.94L421.67 90.42L422.38 90.88L423.12 91.32L423.89 91.73L424.69 92.11L425.53 92.47L426.41 92.81L427.32 93.13L428.27 93.42L429.27 93.69L430.33 93.95L431.53 94.19L432.86 94.4L434.29 94.58L435.76 94.74L437.24 94.89L438.66 95.02L439.99 95.13L441.17 95.23L442.15 95.32L442.88 95.39L443.32 91.01L442.55 90.93L441.54 90.85L440.36 90.75L439.05 90.64L437.65 90.51L436.22 90.37L434.82 90.21L433.49 90.04L432.29 89.85L431.27 89.65L430.36 89.43L429.5 89.19L428.68 88.94L427.91 88.68L427.19 88.4L426.52 88.11L425.87 87.8L425.27 87.48L424.69 87.14L424.13 86.78L423.63 86.42L423.17 86.06L422.76 85.69L422.38 85.32L422.03 84.92L421.69 84.5L421.35 84.04L421.02 83.53L420.68 82.97L420.34 82.36L420.01 81.71L419.68 80.99L419.35 80.21L419.03 79.38L418.72 78.51L418.43 77.63L418.14 76.73L417.86 75.84L417.57 74.96L417.29 74.11L417.01 73.34L416.73 72.66L416.46 72.02L416.19 71.4L415.95 70.73L415.72 69.99L415.52 69.16L415.35 68.18L415.18 67.05L415.01 65.72L414.84 64.19L414.65 62.49L414.47 60.65L414.27 58.69L414.07 56.63L413.87 54.5L413.67 52.33L413.48 50.13L413.29 47.94L413.12 45.77L412.96 43.5L412.81 41.01L412.67 38.38L412.55 35.7L412.44 33.04L412.35 30.48L412.27 28.09L412.2 25.97L412.15 24.17L412.1 22.79Z" fill="#1e48ea" opacity="1.0" stroke="none"/><circle cx="443.1" cy="93.2" r="2.2" fill="#1e48ea" opacity="1.0"/>
<path d="M411.8 22.8C411.93 26.63 412.22 38.63 412.6 45.8C412.98 52.97 413.65 61 414.1 65.8C414.55 70.6 414.58 71.67 415.3 74.6C416.02 77.53 417.13 81.07 418.4 83.4C419.67 85.73 420.83 87.2 422.9 88.6C424.97 90 427.43 91.03 430.8 91.8C434.17 92.57 441.05 92.97 443.1 93.2" stroke="#0818ac" stroke-width="1.7" stroke-linecap="butt" stroke-linejoin="round" fill="none"/>
<path d="M445.4 22C445.48 25.83 445.75 37 445.9 45C446.05 53 446.18 63.5 446.3 70C446.42 76.5 446.43 80.9 446.6 84C446.77 87.1 447.18 87.83 447.3 88.6" stroke="#12e4ff" stroke-width="3.4" stroke-linecap="butt" fill="none" opacity="0.3"/>
<path d="M442.89 26 L448.09 26M444.02 24.53 L446.96 27.47M445.49 23.4 L445.49 28.6M446.96 24.53 L444.02 27.47" stroke="#12e4ff" stroke-width="0.9" opacity="0.6" fill="none"/>
<path d="M443.02 32 L448.22 32M444.15 30.53 L447.09 33.47M445.62 29.4 L445.62 34.6M447.09 30.53 L444.15 33.47" stroke="#12e4ff" stroke-width="0.9" opacity="0.6" fill="none"/>
<path d="M443.14 37.7 L448.34 37.7M444.27 36.23 L447.21 39.17M445.74 35.1 L445.74 40.3M447.21 36.23 L444.27 39.17" stroke="#12e4ff" stroke-width="0.9" opacity="0.6" fill="none"/>
<path d="M443.26 43.12 L448.46 43.12M444.39 41.64 L447.33 44.59M445.86 40.52 L445.86 45.72M447.33 41.64 L444.39 44.59" stroke="#12e4ff" stroke-width="0.9" opacity="0.6" fill="none"/>
<path d="M443.35 48.26 L448.55 48.26M444.48 46.79 L447.42 49.73M445.95 45.66 L445.95 50.86M447.42 46.79 L444.48 49.73" stroke="#12e4ff" stroke-width="0.9" opacity="0.6" fill="none"/>
<path d="M443.43 53.15 L448.63 53.15M444.56 51.68 L447.5 54.62M446.03 50.55 L446.03 55.75M447.5 51.68 L444.56 54.62" stroke="#12e4ff" stroke-width="0.9" opacity="0.6" fill="none"/>
<path d="M443.5 57.79 L448.7 57.79M444.63 56.32 L447.58 59.26M446.1 55.19 L446.1 60.39M447.58 56.32 L444.63 59.26" stroke="#12e4ff" stroke-width="0.9" opacity="0.6" fill="none"/>
<path d="M443.58 62.2 L448.78 62.2M444.7 60.73 L447.65 63.67M446.18 59.6 L446.18 64.8M447.65 60.73 L444.7 63.67" stroke="#12e4ff" stroke-width="0.9" opacity="0.6" fill="none"/>
<path d="M443.64 66.39 L448.84 66.39M444.77 64.92 L447.71 67.86M446.24 63.79 L446.24 68.99M447.71 64.92 L444.77 67.86" stroke="#12e4ff" stroke-width="0.9" opacity="0.6" fill="none"/>
<path d="M443.71 70.37 L448.91 70.37M444.84 68.9 L447.78 71.84M446.31 67.77 L446.31 72.97M447.78 68.9 L444.84 71.84" stroke="#12e4ff" stroke-width="0.9" opacity="0.6" fill="none"/>
<path d="M443.79 74.15 L448.99 74.15M444.92 72.68 L447.86 75.62M446.39 71.55 L446.39 76.75M447.86 72.68 L444.92 75.62" stroke="#12e4ff" stroke-width="0.9" opacity="0.6" fill="none"/>
<path d="M443.87 77.74 L449.07 77.74M445 76.27 L447.94 79.21M446.47 75.14 L446.47 80.34M447.94 76.27 L445 79.21" stroke="#12e4ff" stroke-width="0.9" opacity="0.6" fill="none"/>
<path d="M443.94 81.16 L449.14 81.16M445.07 79.69 L448.01 82.63M446.54 78.56 L446.54 83.76M448.01 79.69 L445.07 82.63" stroke="#12e4ff" stroke-width="0.9" opacity="0.6" fill="none"/>
<path d="M444.06 84.4 L449.26 84.4M445.19 82.93 L448.13 85.87M446.66 81.8 L446.66 87M448.13 82.93 L445.19 85.87" stroke="#12e4ff" stroke-width="0.9" opacity="0.6" fill="none"/>
<path d="M445.09 22.01L445.12 23.37L445.16 25.1L445.2 27.15L445.26 29.46L445.32 31.94L445.38 34.56L445.45 37.23L445.52 39.91L445.58 42.52L445.64 45L445.7 47.47L445.75 50.05L445.8 52.7L445.85 55.39L445.89 58.07L445.93 60.7L445.97 63.25L446.01 65.68L446.04 67.94L446.07 70L446.1 71.89L446.12 73.66L446.14 75.31L446.14 76.85L446.12 78.28L446.09 79.61L446.04 80.85L445.97 82L445.87 83.06L445.75 84.04L445.59 84.92L445.38 85.65L445.15 86.28L444.9 86.84L444.67 87.36L444.49 87.86L444.37 88.33L444.33 88.76L444.34 89.15L444.4 89.54L444.52 89.99L444.67 90.45L444.86 90.91L445.06 91.36L445.29 91.81L445.55 92.25L445.84 92.68L446.16 93.1L446.52 93.5L446.88 93.86L447.2 94.15L447.54 94.43L447.93 94.71L448.37 94.98L448.84 95.21L449.32 95.41L449.81 95.56L450.3 95.7L450.82 95.82L451.4 95.94L452.03 96.06L452.69 96.17L453.39 96.28L454.14 96.37L454.93 96.47L455.77 96.56L456.68 96.64L457.64 96.73L458.67 96.81L459.79 96.89L461.07 96.98L462.57 97.06L464.2 97.14L465.92 97.22L467.66 97.3L469.36 97.38L470.95 97.44L472.38 97.51L473.57 97.56L474.46 97.6L474.74 91.4L473.84 91.36L472.64 91.31L471.22 91.25L469.63 91.18L467.94 91.11L466.21 91.03L464.51 90.95L462.9 90.87L461.44 90.79L460.21 90.71L459.15 90.63L458.15 90.55L457.24 90.47L456.4 90.39L455.62 90.31L454.91 90.22L454.26 90.14L453.66 90.05L453.11 89.95L452.6 89.86L452.16 89.77L451.81 89.69L451.57 89.62L451.43 89.58L451.37 89.55L451.37 89.55L451.37 89.55L451.33 89.52L451.24 89.45L451.12 89.34L451.03 89.25L450.96 89.17L450.89 89.07L450.81 88.95L450.72 88.81L450.63 88.63L450.54 88.43L450.44 88.21L450.33 87.96L450.2 87.66L450.04 87.35L449.85 87.11L449.63 86.94L449.37 86.79L449.05 86.61L448.7 86.34L448.35 85.96L448.01 85.44L447.71 84.78L447.45 83.96L447.24 83L447.06 81.96L446.93 80.83L446.82 79.6L446.74 78.27L446.68 76.84L446.63 75.3L446.6 73.65L446.56 71.88L446.53 70L446.49 67.93L446.45 65.67L446.41 63.24L446.37 60.69L446.33 58.06L446.3 55.38L446.26 52.7L446.23 50.04L446.19 47.46L446.16 45L446.12 42.51L446.08 39.9L446.03 37.22L445.98 34.55L445.93 31.93L445.88 29.44L445.83 27.14L445.78 25.09L445.74 23.35L445.71 21.99Z" fill="#12e4ff" opacity="0.35" stroke="none"/><circle cx="474.6" cy="94.5" r="3.1" fill="#12e4ff" opacity="0.35"/>
<path d="M445.18 22L445.21 23.36L445.25 25.1L445.29 27.15L445.35 29.45L445.41 31.94L445.47 34.56L445.53 37.23L445.6 39.91L445.66 42.52L445.72 45L445.77 47.47L445.82 50.05L445.87 52.7L445.91 55.39L445.96 58.06L446 60.7L446.03 63.25L446.07 65.67L446.11 67.94L446.14 70L446.17 71.89L446.19 73.66L446.21 75.31L446.22 76.85L446.21 78.28L446.2 79.61L446.17 80.85L446.13 81.99L446.07 83.05L445.99 84.03L445.89 84.9L445.76 85.62L445.61 86.24L445.45 86.77L445.31 87.25L445.2 87.71L445.14 88.13L445.13 88.52L445.17 88.88L445.24 89.27L445.36 89.69L445.51 90.13L445.68 90.55L445.87 90.96L446.08 91.37L446.31 91.77L446.57 92.15L446.86 92.53L447.17 92.89L447.49 93.2L447.79 93.47L448.09 93.71L448.43 93.96L448.8 94.19L449.21 94.39L449.63 94.56L450.07 94.7L450.52 94.83L451.02 94.94L451.57 95.06L452.18 95.17L452.83 95.28L453.52 95.38L454.25 95.48L455.03 95.57L455.86 95.66L456.76 95.75L457.72 95.83L458.74 95.91L459.85 95.99L461.13 96.08L462.61 96.16L464.25 96.24L465.96 96.33L467.7 96.4L469.4 96.48L470.99 96.55L472.42 96.61L473.6 96.66L474.5 96.7L474.7 92.3L473.8 92.26L472.6 92.21L471.18 92.15L469.59 92.08L467.9 92.01L466.17 91.93L464.46 91.85L462.85 91.77L461.39 91.69L460.15 91.61L459.08 91.53L458.08 91.45L457.16 91.37L456.31 91.28L455.52 91.2L454.8 91.12L454.13 91.03L453.52 90.94L452.95 90.84L452.43 90.74L451.96 90.65L451.59 90.56L451.32 90.48L451.13 90.42L451 90.37L450.93 90.34L450.87 90.3L450.78 90.24L450.66 90.13L450.51 90L450.37 89.87L450.26 89.74L450.15 89.6L450.04 89.43L449.93 89.24L449.82 89.03L449.71 88.79L449.6 88.53L449.49 88.25L449.36 87.93L449.21 87.61L449.05 87.35L448.87 87.14L448.66 86.95L448.42 86.72L448.15 86.42L447.89 86.01L447.63 85.47L447.4 84.8L447.21 83.97L447.04 83.01L446.9 81.97L446.8 80.83L446.72 79.6L446.65 78.27L446.6 76.84L446.56 75.3L446.53 73.65L446.49 71.89L446.46 70L446.42 67.93L446.39 65.67L446.35 63.24L446.31 60.69L446.27 58.06L446.23 55.38L446.19 52.7L446.16 50.05L446.12 47.47L446.08 45L446.04 42.51L446 39.9L445.95 37.22L445.9 34.55L445.84 31.93L445.79 29.44L445.74 27.14L445.69 25.09L445.65 23.35L445.62 22Z" fill="#12e4ff" opacity="1.0" stroke="none"/><circle cx="474.6" cy="94.5" r="2.2" fill="#12e4ff" opacity="1.0"/>
<path d="M445.4 22C445.48 25.83 445.75 37 445.9 45C446.05 53 446.18 63.5 446.3 70C446.42 76.5 446.43 80.9 446.6 84C446.77 87.1 446.9 87.33 447.3 88.6C447.7 89.87 448.22 90.88 449 91.6C449.78 92.32 450.17 92.53 452 92.9C453.83 93.27 456.23 93.53 460 93.8C463.77 94.07 472.17 94.38 474.6 94.5" stroke="#0f5cff" stroke-width="1.7" stroke-linecap="butt" stroke-linejoin="round" fill="none"/>
<path d="M476.2 22C476.28 25.83 476.57 37 476.7 45C476.83 53 476.9 63.17 477 70C477.1 76.83 477.1 82.63 477.3 86C477.5 89.37 478.05 89.5 478.2 90.2" stroke="#c8ff28" stroke-width="3.0" stroke-linecap="butt" fill="none" opacity="0.2"/>
<path d="M473.73 28 L478.93 28M474.86 26.53 L477.8 29.47M476.33 25.4 L476.33 30.6M477.8 26.53 L474.86 29.47" stroke="#c8ff28" stroke-width="0.9" opacity="0.45" fill="none"/>
<path d="M473.95 38 L479.15 38M475.08 36.53 L478.02 39.47M476.55 35.4 L476.55 40.6M478.02 36.53 L475.08 39.47" stroke="#c8ff28" stroke-width="0.9" opacity="0.45" fill="none"/>
<path d="M474.12 47 L479.32 47M475.25 45.53 L478.19 48.47M476.72 44.4 L476.72 49.6M478.19 45.53 L475.25 48.47" stroke="#c8ff28" stroke-width="0.9" opacity="0.45" fill="none"/>
<path d="M474.22 55.1 L479.42 55.1M475.35 53.63 L478.29 56.57M476.82 52.5 L476.82 57.7M478.29 53.63 L475.35 56.57" stroke="#c8ff28" stroke-width="0.9" opacity="0.45" fill="none"/>
<path d="M474.31 62.39 L479.51 62.39M475.44 60.92 L478.38 63.86M476.91 59.79 L476.91 64.99M478.38 60.92 L475.44 63.86" stroke="#c8ff28" stroke-width="0.9" opacity="0.45" fill="none"/>
<path d="M474.39 68.95 L479.59 68.95M475.52 67.48 L478.46 70.42M476.99 66.35 L476.99 71.55M478.46 67.48 L475.52 70.42" stroke="#c8ff28" stroke-width="0.9" opacity="0.45" fill="none"/>
<path d="M474.49 74.86 L479.69 74.86M475.62 73.39 L478.56 76.33M477.09 72.26 L477.09 77.46M478.56 73.39 L475.62 76.33" stroke="#c8ff28" stroke-width="0.9" opacity="0.45" fill="none"/>
<path d="M474.59 80.17 L479.79 80.17M475.72 78.7 L478.66 81.64M477.19 77.57 L477.19 82.77M478.66 78.7 L475.72 81.64" stroke="#c8ff28" stroke-width="0.9" opacity="0.45" fill="none"/>
<path d="M474.68 84.95 L479.88 84.95M475.81 83.48 L478.75 86.42M477.28 82.35 L477.28 87.55M478.75 83.48 L475.81 86.42" stroke="#c8ff28" stroke-width="0.9" opacity="0.45" fill="none"/>
<path d="M475.91 22.01L475.94 23.37L475.98 25.1L476.03 27.15L476.09 29.45L476.15 31.94L476.22 34.56L476.29 37.23L476.36 39.91L476.43 42.52L476.49 45L476.55 47.46L476.6 50.02L476.64 52.64L476.68 55.29L476.72 57.94L476.74 60.55L476.77 63.1L476.8 65.55L476.82 67.86L476.85 70L476.87 72.02L476.88 73.97L476.89 75.84L476.88 77.62L476.86 79.3L476.82 80.89L476.76 82.36L476.67 83.72L476.55 84.95L476.4 86.05L476.21 86.99L475.98 87.76L475.75 88.41L475.55 88.98L475.41 89.53L475.38 90.07L475.43 90.54L475.51 90.9L475.59 91.15L475.7 91.43L475.88 91.82L476.11 92.25L476.37 92.67L476.66 93.1L476.99 93.51L477.36 93.91L477.76 94.29L478.2 94.64L478.67 94.97L479.15 95.25L479.61 95.49L480.09 95.71L480.58 95.9L481.09 96.06L481.61 96.2L482.15 96.32L482.72 96.42L483.32 96.52L483.98 96.6L484.7 96.68L485.52 96.77L486.42 96.84L487.38 96.9L488.39 96.96L489.44 97.01L490.52 97.06L491.62 97.1L492.73 97.13L493.84 97.17L494.93 97.2L496.08 97.23L497.33 97.25L498.65 97.26L499.99 97.27L501.31 97.28L502.58 97.29L503.77 97.29L504.82 97.29L505.7 97.3L506.38 97.3L506.42 91.7L505.73 91.7L504.84 91.69L503.78 91.69L502.6 91.69L501.34 91.68L500.03 91.67L498.7 91.66L497.41 91.65L496.19 91.63L495.07 91.6L494 91.57L492.91 91.54L491.82 91.5L490.75 91.46L489.7 91.42L488.68 91.37L487.72 91.31L486.83 91.25L486.02 91.19L485.3 91.12L484.66 91.04L484.1 90.97L483.63 90.9L483.24 90.83L482.93 90.76L482.67 90.69L482.45 90.62L482.26 90.54L482.06 90.45L481.85 90.35L481.68 90.25L481.56 90.16L481.45 90.07L481.35 89.98L481.26 89.88L481.16 89.76L481.06 89.62L480.96 89.45L480.85 89.24L480.7 88.97L480.51 88.64L480.33 88.4L480.19 88.31L480.04 88.33L479.84 88.34L479.55 88.23L479.21 87.95L478.85 87.48L478.51 86.82L478.2 85.95L477.94 84.89L477.73 83.68L477.57 82.34L477.45 80.88L477.36 79.3L477.3 77.61L477.25 75.83L477.22 73.96L477.19 72.02L477.15 70L477.12 67.85L477.09 65.54L477.06 63.1L477.03 60.55L477.01 57.94L476.99 55.29L476.97 52.63L476.95 50.01L476.93 47.46L476.91 45L476.88 42.51L476.85 39.9L476.81 37.22L476.76 34.55L476.71 31.93L476.66 29.44L476.61 27.14L476.56 25.09L476.52 23.35L476.49 21.99Z" fill="#c8ff28" opacity="0.35" stroke="none"/><circle cx="506.4" cy="94.5" r="2.8" fill="#c8ff28" opacity="0.35"/>
<path d="M476 22L476.03 23.36L476.08 25.1L476.12 27.15L476.18 29.45L476.24 31.94L476.31 34.56L476.37 37.23L476.44 39.91L476.5 42.52L476.56 45L476.61 47.46L476.65 50.02L476.69 52.64L476.73 55.29L476.76 57.94L476.79 60.55L476.82 63.1L476.84 65.55L476.87 67.86L476.9 70L476.92 72.02L476.94 73.97L476.95 75.83L476.95 77.62L476.94 79.3L476.92 80.89L476.89 82.36L476.84 83.71L476.78 84.94L476.69 86.03L476.58 86.96L476.45 87.71L476.31 88.33L476.19 88.86L476.12 89.34L476.13 89.79L476.19 90.19L476.28 90.5L476.38 90.75L476.5 91.04L476.68 91.4L476.89 91.8L477.13 92.18L477.39 92.56L477.68 92.93L478 93.28L478.35 93.61L478.74 93.92L479.15 94.21L479.58 94.46L480.01 94.68L480.43 94.88L480.88 95.05L481.34 95.2L481.82 95.33L482.33 95.44L482.87 95.54L483.45 95.62L484.09 95.71L484.8 95.79L485.6 95.87L486.49 95.94L487.43 96L488.44 96.06L489.48 96.11L490.56 96.16L491.66 96.2L492.76 96.23L493.86 96.27L494.95 96.3L496.1 96.33L497.35 96.35L498.66 96.36L499.99 96.37L501.32 96.38L502.59 96.39L503.77 96.39L504.82 96.39L505.71 96.4L506.39 96.4L506.41 92.6L505.72 92.6L504.83 92.59L503.78 92.59L502.6 92.59L501.33 92.58L500.02 92.57L498.7 92.56L497.4 92.55L496.17 92.53L495.05 92.5L493.98 92.47L492.88 92.44L491.79 92.4L490.71 92.36L489.65 92.31L488.64 92.27L487.67 92.21L486.76 92.15L485.94 92.08L485.2 92.01L484.55 91.94L483.98 91.86L483.49 91.79L483.07 91.71L482.72 91.63L482.41 91.55L482.15 91.47L481.91 91.37L481.67 91.26L481.42 91.14L481.2 91.01L481.02 90.88L480.85 90.75L480.71 90.61L480.57 90.46L480.44 90.3L480.31 90.11L480.18 89.9L480.05 89.66L479.9 89.36L479.72 89.05L479.56 88.8L479.42 88.67L479.29 88.61L479.13 88.53L478.91 88.35L478.66 88.02L478.39 87.53L478.14 86.85L477.91 85.97L477.72 84.9L477.56 83.69L477.44 82.34L477.35 80.88L477.28 79.3L477.23 77.61L477.19 75.83L477.16 73.96L477.13 72.02L477.1 70L477.07 67.85L477.04 65.54L477.02 63.1L476.99 60.55L476.96 57.94L476.94 55.29L476.92 52.64L476.89 50.01L476.87 47.46L476.84 45L476.81 42.51L476.77 39.9L476.72 37.22L476.67 34.55L476.62 31.93L476.57 29.44L476.51 27.14L476.47 25.09L476.43 23.35L476.4 22Z" fill="#c8ff28" opacity="1.0" stroke="none"/><circle cx="506.4" cy="94.5" r="1.9" fill="#c8ff28" opacity="1.0"/>
<path d="M476.2 22C476.28 25.83 476.57 37 476.7 45C476.83 53 476.9 63.17 477 70C477.1 76.83 477.1 82.63 477.3 86C477.5 89.37 477.67 89.07 478.2 90.2C478.73 91.33 479.37 92.18 480.5 92.8C481.63 93.42 482.58 93.63 485 93.9C487.42 94.17 491.43 94.3 495 94.4C498.57 94.5 504.5 94.48 506.4 94.5" stroke="#08ead8" stroke-width="1.7" stroke-linecap="butt" stroke-linejoin="round" fill="none"/>
<path d="M509 22C509.08 25.83 509.33 37 509.5 45C509.67 53 509.85 63.17 510 70C510.15 76.83 510.2 82.57 510.4 86C510.6 89.43 511.07 89.83 511.2 90.6" stroke="#ff6a00" stroke-width="3.0" stroke-linecap="butt" fill="none" opacity="0.2"/>
<path d="M506.44 24 L511.64 24M507.57 22.53 L510.51 25.47M509.04 21.4 L509.04 26.6M510.51 22.53 L507.57 25.47" stroke="#ff6a00" stroke-width="0.9" opacity="0.45" fill="none"/>
<path d="M506.62 32 L511.82 32M507.75 30.53 L510.69 33.47M509.22 29.4 L509.22 34.6M510.69 30.53 L507.75 33.47" stroke="#ff6a00" stroke-width="0.9" opacity="0.45" fill="none"/>
<path d="M506.78 39.6 L511.98 39.6M507.91 38.13 L510.85 41.07M509.38 37 L509.38 42.2M510.85 38.13 L507.91 41.07" stroke="#ff6a00" stroke-width="0.9" opacity="0.45" fill="none"/>
<path d="M506.94 46.82 L512.14 46.82M508.07 45.35 L511.01 48.29M509.54 44.22 L509.54 49.42M511.01 45.35 L508.07 48.29" stroke="#ff6a00" stroke-width="0.9" opacity="0.45" fill="none"/>
<path d="M507.07 53.68 L512.27 53.68M508.2 52.21 L511.14 55.15M509.67 51.08 L509.67 56.28M511.14 52.21 L508.2 55.15" stroke="#ff6a00" stroke-width="0.9" opacity="0.45" fill="none"/>
<path d="M507.2 60.2 L512.4 60.2M508.33 58.72 L511.27 61.67M509.8 57.6 L509.8 62.8M511.27 58.72 L508.33 61.67" stroke="#ff6a00" stroke-width="0.9" opacity="0.45" fill="none"/>
<path d="M507.33 66.39 L512.53 66.39M508.46 64.91 L511.4 67.86M509.93 63.79 L509.93 68.99M511.4 64.91 L508.46 67.86" stroke="#ff6a00" stroke-width="0.9" opacity="0.45" fill="none"/>
<path d="M507.46 72.27 L512.66 72.27M508.59 70.8 L511.53 73.74M510.06 69.67 L510.06 74.87M511.53 70.8 L508.59 73.74" stroke="#ff6a00" stroke-width="0.9" opacity="0.45" fill="none"/>
<path d="M507.6 77.85 L512.8 77.85M508.73 76.38 L511.67 79.32M510.2 75.25 L510.2 80.45M511.67 76.38 L508.73 79.32" stroke="#ff6a00" stroke-width="0.9" opacity="0.45" fill="none"/>
<path d="M507.73 83.16 L512.93 83.16M508.86 81.69 L511.8 84.63M510.33 80.56 L510.33 85.76M511.8 81.69 L508.86 84.63" stroke="#ff6a00" stroke-width="0.9" opacity="0.45" fill="none"/>
<path d="M508.7 22.01L508.73 23.37L508.77 25.1L508.81 27.15L508.86 29.45L508.92 31.94L508.98 34.56L509.04 37.23L509.1 39.91L509.16 42.52L509.22 45.01L509.27 47.47L509.32 50.02L509.38 52.64L509.43 55.29L509.48 57.94L509.53 60.56L509.58 63.1L509.63 65.55L509.68 67.86L509.72 70.01L509.76 72.02L509.8 73.96L509.82 75.83L509.83 77.6L509.83 79.28L509.81 80.86L509.76 82.34L509.69 83.69L509.59 84.94L509.46 86.05L509.29 87.01L509.07 87.81L508.83 88.49L508.6 89.08L508.4 89.63L508.28 90.15L508.23 90.63L508.25 91.03L508.29 91.36L508.38 91.69L508.52 92.09L508.69 92.51L508.9 92.94L509.15 93.38L509.44 93.8L509.77 94.22L510.13 94.6L510.52 94.95L510.92 95.27L511.31 95.54L511.68 95.78L512.07 96.01L512.5 96.24L512.96 96.46L513.47 96.67L514.01 96.86L514.58 97.03L515.2 97.17L515.85 97.3L516.56 97.42L517.3 97.52L518.06 97.6L518.85 97.67L519.67 97.73L520.55 97.78L521.47 97.82L522.47 97.86L523.53 97.89L524.68 97.92L525.94 97.95L527.39 97.98L529.1 98L530.97 98.01L532.95 98.02L534.95 98.03L536.91 98.04L538.74 98.04L540.38 98.04L541.76 98.05L542.79 98.05L542.81 91.95L541.77 91.95L540.4 91.94L538.75 91.94L536.92 91.94L534.97 91.93L532.98 91.92L531.02 91.91L529.16 91.9L527.49 91.88L526.06 91.85L524.84 91.82L523.71 91.79L522.67 91.76L521.72 91.72L520.85 91.69L520.06 91.64L519.33 91.59L518.65 91.53L518.03 91.46L517.44 91.38L516.92 91.3L516.49 91.21L516.14 91.13L515.86 91.05L515.63 90.97L515.44 90.89L515.26 90.8L515.09 90.71L514.89 90.59L514.69 90.46L514.54 90.35L514.45 90.29L514.4 90.24L514.38 90.22L514.36 90.2L514.33 90.16L514.29 90.08L514.23 89.96L514.14 89.78L514.02 89.51L513.86 89.21L513.69 88.97L513.52 88.85L513.3 88.78L513.02 88.67L512.69 88.45L512.33 88.09L511.97 87.56L511.63 86.85L511.34 85.95L511.09 84.87L510.9 83.65L510.74 82.31L510.63 80.84L510.53 79.27L510.46 77.59L510.41 75.82L510.36 73.95L510.32 72.01L510.28 69.99L510.23 67.85L510.18 65.54L510.13 63.09L510.08 60.55L510.03 57.93L509.98 55.28L509.93 52.63L509.88 50.01L509.83 47.45L509.78 44.99L509.74 42.51L509.68 39.9L509.63 37.22L509.57 34.55L509.52 31.93L509.46 29.44L509.41 27.14L509.37 25.09L509.33 23.35L509.3 21.99Z" fill="#ff6a00" opacity="0.35" stroke="none"/><circle cx="542.8" cy="95" r="3.05" fill="#ff6a00" opacity="0.35"/>
<path d="M508.79 22L508.82 23.36L508.86 25.1L508.9 27.15L508.95 29.45L509.01 31.94L509.07 34.56L509.13 37.23L509.19 39.91L509.24 42.52L509.3 45L509.35 47.46L509.41 50.02L509.46 52.64L509.51 55.29L509.56 57.94L509.61 60.56L509.66 63.1L509.71 65.55L509.76 67.86L509.8 70L509.85 72.02L509.88 73.96L509.91 75.82L509.92 77.6L509.93 79.28L509.93 80.86L509.91 82.33L509.87 83.69L509.82 84.93L509.74 86.04L509.63 86.99L509.5 87.78L509.35 88.43L509.2 88.99L509.08 89.49L509.02 89.95L509.01 90.37L509.05 90.73L509.12 91.04L509.21 91.37L509.35 91.75L509.51 92.14L509.7 92.52L509.92 92.9L510.17 93.27L510.45 93.63L510.76 93.96L511.1 94.26L511.45 94.54L511.81 94.79L512.16 95.01L512.52 95.23L512.91 95.44L513.33 95.64L513.79 95.83L514.28 96L514.81 96.16L515.39 96.29L516.01 96.42L516.69 96.53L517.4 96.62L518.14 96.7L518.92 96.77L519.73 96.83L520.59 96.88L521.51 96.92L522.5 96.96L523.56 96.99L524.71 97.02L525.95 97.05L527.41 97.08L529.11 97.1L530.98 97.11L532.95 97.12L534.96 97.13L536.91 97.14L538.75 97.14L540.39 97.14L541.76 97.15L542.79 97.15L542.81 92.85L541.77 92.85L540.39 92.84L538.75 92.84L536.92 92.84L534.97 92.83L532.97 92.82L531.01 92.81L529.15 92.8L527.47 92.78L526.05 92.75L524.82 92.72L523.68 92.69L522.64 92.66L521.69 92.62L520.81 92.58L520 92.54L519.26 92.49L518.57 92.42L517.92 92.35L517.31 92.27L516.77 92.18L516.3 92.09L515.91 92L515.59 91.9L515.31 91.81L515.07 91.71L514.86 91.61L514.64 91.49L514.42 91.36L514.19 91.21L514 91.08L513.87 90.98L513.77 90.89L513.7 90.81L513.63 90.73L513.57 90.63L513.5 90.5L513.41 90.34L513.31 90.12L513.19 89.83L513.04 89.52L512.89 89.28L512.74 89.11L512.56 88.98L512.34 88.81L512.09 88.54L511.81 88.15L511.54 87.59L511.29 86.87L511.06 85.96L510.87 84.88L510.72 83.66L510.6 82.31L510.5 80.85L510.43 79.27L510.37 77.59L510.32 75.82L510.28 73.95L510.24 72.01L510.2 70L510.15 67.85L510.1 65.54L510.05 63.09L510 60.55L509.95 57.93L509.9 55.28L509.85 52.63L509.8 50.01L509.75 47.46L509.7 45L509.65 42.51L509.6 39.9L509.54 37.22L509.49 34.55L509.43 31.93L509.38 29.44L509.33 27.14L509.28 25.09L509.24 23.35L509.21 22Z" fill="#ff6a00" opacity="1.0" stroke="none"/><circle cx="542.8" cy="95" r="2.15" fill="#ff6a00" opacity="1.0"/>
<path d="M509 22C509.08 25.83 509.33 37 509.5 45C509.67 53 509.85 63.17 510 70C510.15 76.83 510.2 82.57 510.4 86C510.6 89.43 510.77 89.43 511.2 90.6C511.63 91.77 512.03 92.37 513 93C513.97 93.63 514.83 94.08 517 94.4C519.17 94.72 521.7 94.8 526 94.9C530.3 95 540 94.98 542.8 95" stroke="#ecff00" stroke-width="1.7" stroke-linecap="butt" stroke-linejoin="round" fill="none"/>
<path d="M412.4 22C412.53 25.83 412.82 37.83 413.2 45C413.58 52.17 414.45 61.67 414.7 65" stroke="#be1a18" stroke-width="3.4" stroke-linecap="butt" fill="none" opacity="0.28"/>
<path d="M411.1 22.04L411.15 23.42L411.2 25.21L411.26 27.34L411.33 29.73L411.41 32.29L411.49 34.96L411.58 37.64L411.68 40.28L411.79 42.78L411.9 45.07L412.03 47.25L412.16 49.46L412.31 51.66L412.47 53.85L412.63 55.99L412.79 58.05L412.95 60.03L413.11 61.88L413.26 63.58L413.39 65.12L413.49 66.46L413.55 67.61L413.57 68.61L413.56 69.5L413.52 70.31L413.47 71.09L413.44 71.86L413.44 72.64L413.5 73.47L413.62 74.36L413.81 75.3L414.04 76.27L414.31 77.25L414.61 78.24L414.93 79.22L415.27 80.19L415.63 81.13L416.02 82.05L416.42 82.93L416.84 83.76L417.26 84.5L417.68 85.21L418.12 85.88L418.59 86.52L419.08 87.14L419.61 87.73L420.18 88.29L420.79 88.83L421.44 89.34L422.12 89.83L422.85 90.29L423.6 90.74L424.38 91.15L425.19 91.54L426.04 91.91L426.92 92.25L427.84 92.56L428.8 92.86L429.81 93.13L430.87 93.39L432 93.62L433.18 93.82L434.4 93.99L435.66 94.13L436.94 94.26L438.23 94.38L439.54 94.49L440.85 94.6L442.16 94.72L443.47 94.84L444.78 94.97L446.1 95.1L447.44 95.22L448.8 95.35L450.17 95.47L451.58 95.59L453.01 95.71L454.48 95.83L455.98 95.94L457.53 96.04L459.1 96.15L460.67 96.25L462.26 96.34L463.88 96.44L465.53 96.53L467.25 96.62L469.03 96.7L470.89 96.79L472.84 96.87L474.91 96.95L477.08 97.03L479.37 97.11L481.74 97.19L484.2 97.26L486.72 97.34L489.31 97.41L491.93 97.47L494.59 97.54L497.27 97.6L499.96 97.65L502.81 97.7L505.92 97.74L509.19 97.78L512.53 97.81L515.84 97.84L519.03 97.87L521.99 97.89L524.63 97.92L526.86 97.93L528.58 97.95L528.62 93.05L526.9 93.03L524.67 93.02L522.03 92.99L519.07 92.97L515.88 92.94L512.58 92.91L509.24 92.88L505.98 92.84L502.88 92.8L500.04 92.75L497.37 92.7L494.7 92.64L492.05 92.58L489.44 92.51L486.86 92.44L484.35 92.36L481.9 92.29L479.53 92.21L477.26 92.13L475.09 92.05L473.04 91.97L471.1 91.89L469.25 91.81L467.49 91.72L465.79 91.63L464.15 91.55L462.55 91.45L460.98 91.36L459.42 91.26L457.87 91.16L456.33 91.05L454.85 90.94L453.4 90.83L451.99 90.71L450.6 90.59L449.24 90.47L447.9 90.34L446.57 90.22L445.25 90.09L443.93 89.96L442.6 89.84L441.27 89.72L439.95 89.61L438.66 89.5L437.4 89.39L436.19 89.26L435.02 89.13L433.92 88.98L432.89 88.8L431.93 88.61L431.03 88.39L430.17 88.15L429.36 87.91L428.6 87.64L427.89 87.37L427.22 87.08L426.59 86.78L425.99 86.46L425.42 86.12L424.88 85.77L424.38 85.42L423.93 85.07L423.53 84.71L423.16 84.35L422.82 83.96L422.48 83.55L422.16 83.1L421.83 82.6L421.5 82.04L421.16 81.44L420.83 80.8L420.5 80.09L420.18 79.32L419.87 78.49L419.56 77.63L419.27 76.75L418.99 75.85L418.71 74.96L418.45 74.09L418.18 73.24L417.91 72.47L417.65 71.79L417.38 71.17L417.13 70.55L416.88 69.89L416.66 69.16L416.47 68.32L416.31 67.35L416.16 66.21L416.01 64.88L415.86 63.35L415.71 61.65L415.55 59.81L415.38 57.85L415.22 55.79L415.06 53.66L414.9 51.48L414.76 49.29L414.62 47.09L414.5 44.93L414.39 42.66L414.28 40.17L414.18 37.55L414.09 34.87L414.01 32.21L413.93 29.65L413.86 27.27L413.8 25.14L413.74 23.34L413.7 21.96Z" fill="#c8201c" opacity="0.4" stroke="none"/><circle cx="528.6" cy="95.5" r="2.45" fill="#c8201c" opacity="0.4"/>
<path d="M411.6 22.03L411.64 23.41L411.7 25.2L411.76 27.33L411.83 29.71L411.91 32.27L411.99 34.94L412.08 37.62L412.18 40.26L412.29 42.75L412.4 45.04L412.52 47.22L412.66 49.42L412.81 51.63L412.97 53.81L413.13 55.95L413.29 58.01L413.45 59.98L413.61 61.83L413.75 63.54L413.88 65.08L413.98 66.41L414.04 67.56L414.07 68.56L414.07 69.44L414.06 70.24L414.04 71L414.05 71.75L414.09 72.51L414.17 73.32L414.32 74.19L414.52 75.12L414.75 76.07L415.02 77.04L415.32 78.01L415.64 78.98L415.97 79.93L416.33 80.86L416.7 81.75L417.09 82.61L417.5 83.4L417.91 84.13L418.32 84.81L418.74 85.45L419.18 86.07L419.66 86.65L420.16 87.21L420.69 87.74L421.27 88.25L421.89 88.74L422.55 89.21L423.24 89.66L423.96 90.08L424.71 90.48L425.5 90.86L426.32 91.21L427.18 91.54L428.07 91.85L429.01 92.14L429.99 92.41L431.03 92.66L432.13 92.89L433.3 93.08L434.5 93.25L435.74 93.39L437.01 93.52L438.3 93.63L439.6 93.75L440.92 93.86L442.23 93.97L443.54 94.09L444.85 94.22L446.18 94.35L447.51 94.48L448.87 94.6L450.24 94.72L451.64 94.85L453.07 94.96L454.53 95.08L456.04 95.19L457.59 95.3L459.15 95.4L460.72 95.5L462.3 95.6L463.92 95.69L465.57 95.78L467.28 95.87L469.06 95.95L470.92 96.04L472.87 96.12L474.94 96.2L477.11 96.28L479.39 96.36L481.77 96.44L484.22 96.51L486.75 96.59L489.33 96.66L491.95 96.73L494.61 96.79L497.28 96.85L499.97 96.9L502.82 96.95L505.93 96.99L509.2 97.03L512.54 97.06L515.85 97.09L519.03 97.12L522 97.14L524.64 97.17L526.87 97.18L528.58 97.2L528.62 93.8L526.9 93.78L524.67 93.77L522.02 93.74L519.06 93.72L515.88 93.69L512.57 93.66L509.24 93.63L505.97 93.59L502.87 93.55L500.03 93.5L497.35 93.45L494.69 93.39L492.03 93.33L489.42 93.26L486.84 93.19L484.32 93.11L481.88 93.04L479.51 92.96L477.23 92.88L475.06 92.8L473.01 92.72L471.07 92.64L469.22 92.56L467.45 92.47L465.75 92.38L464.11 92.29L462.51 92.2L460.93 92.11L459.37 92.01L457.81 91.9L456.28 91.8L454.79 91.69L453.34 91.57L451.92 91.46L450.54 91.34L449.17 91.22L447.83 91.09L446.5 90.97L445.18 90.84L443.86 90.71L442.53 90.58L441.21 90.47L439.89 90.36L438.6 90.25L437.33 90.13L436.1 90.01L434.93 89.87L433.81 89.72L432.75 89.54L431.77 89.34L430.84 89.12L429.96 88.87L429.13 88.62L428.34 88.35L427.61 88.06L426.91 87.76L426.25 87.45L425.62 87.11L425.02 86.76L424.45 86.39L423.93 86.02L423.45 85.64L423.02 85.26L422.62 84.86L422.24 84.45L421.89 84L421.54 83.52L421.2 83L420.85 82.42L420.5 81.8L420.16 81.13L419.82 80.39L419.49 79.59L419.16 78.75L418.85 77.87L418.55 76.98L418.27 76.07L418 75.16L417.74 74.27L417.48 73.41L417.23 72.63L417 71.92L416.77 71.27L416.55 70.63L416.34 69.96L416.15 69.21L415.98 68.37L415.82 67.39L415.67 66.26L415.52 64.92L415.37 63.39L415.21 61.7L415.05 59.85L414.89 57.89L414.72 55.83L414.56 53.69L414.41 51.52L414.26 49.32L414.12 47.12L414 44.96L413.89 42.68L413.78 40.19L413.68 37.57L413.59 34.89L413.51 32.23L413.43 29.66L413.36 27.28L413.3 25.15L413.24 23.36L413.2 21.97Z" fill="#be1a18" opacity="0.9" stroke="none"/><circle cx="528.6" cy="95.5" r="1.7" fill="#be1a18" opacity="0.9"/>
<path d="M412.4 22C412.53 25.83 412.82 37.83 413.2 45C413.58 52.17 414.25 60.2 414.7 65C415.15 69.8 415.18 70.87 415.9 73.8C416.62 76.73 417.73 80.27 419 82.6C420.27 84.93 421.43 86.4 423.5 87.8C425.57 89.2 428.03 90.23 431.4 91C434.77 91.77 439.32 91.97 443.7 92.4C448.08 92.83 452.48 93.25 457.7 93.6C462.92 93.95 467.95 94.23 475 94.5C482.05 94.77 491.07 95.03 500 95.2C508.93 95.37 523.83 95.45 528.6 95.5" stroke="#ff4210" stroke-width="1.6" stroke-linecap="butt" stroke-linejoin="round" fill="none"/>
</g>
</g>
<g>
<line x1="283.2" y1="168.6" x2="283.2" y2="267.1" stroke="#efefef" stroke-width="0.8"/>
<line x1="331.9" y1="168.6" x2="331.9" y2="267.1" stroke="#efefef" stroke-width="0.8"/>
<line x1="234.5" y1="244.37" x2="366.8" y2="244.37" stroke="#efefef" stroke-width="0.8"/>
<line x1="234.5" y1="206.48" x2="366.8" y2="206.48" stroke="#efefef" stroke-width="0.8"/>
<rect x="234.5" y="168.6" width="132.3" height="98.5" fill="none" stroke="#b0b0b0" stroke-width="1"/>
<line x1="234.5" y1="267.1" x2="234.5" y2="265.7" stroke="#555" stroke-width="0.8" opacity="0.8"/>
<line x1="283.2" y1="267.1" x2="283.2" y2="265.7" stroke="#555" stroke-width="0.8" opacity="0.8"/>
<line x1="331.9" y1="267.1" x2="331.9" y2="265.7" stroke="#555" stroke-width="0.8" opacity="0.8"/>
<line x1="234.5" y1="244.37" x2="235.9" y2="244.37" stroke="#555" stroke-width="0.8" opacity="0.8"/>
<line x1="366.8" y1="244.37" x2="365.4" y2="244.37" stroke="#555" stroke-width="0.8" opacity="0.8"/>
<line x1="234.5" y1="206.48" x2="235.9" y2="206.48" stroke="#555" stroke-width="0.8" opacity="0.8"/>
<line x1="366.8" y1="206.48" x2="365.4" y2="206.48" stroke="#555" stroke-width="0.8" opacity="0.8"/>
<line x1="234.5" y1="168.6" x2="235.9" y2="168.6" stroke="#555" stroke-width="0.8" opacity="0.8"/>
<line x1="366.8" y1="168.6" x2="365.4" y2="168.6" stroke="#555" stroke-width="0.8" opacity="0.8"/>
<text x="234.2" y="285.3" text-anchor="middle" class="tk">0</text>
<text x="282.9" y="285.3" text-anchor="middle" class="tk">50</text>
<text x="331.6" y="285.3" text-anchor="middle" class="tk">100</text>
<text x="230" y="249.87" text-anchor="end" class="tk">0</text>
<text x="230" y="211.98" text-anchor="end" class="tk">50</text>
<text x="230" y="174.1" text-anchor="end" class="tk">100</text>
<text x="300.65" y="163" text-anchor="middle" class="tt">4.0 V</text>
<g clip-path="url(#cp4)">
<path d="M236.8 169.4C236.93 172.97 237.22 183.9 237.6 190.8C237.98 197.7 238.85 207.47 239.1 210.8" stroke="#1e48ea" stroke-width="3.4" stroke-linecap="butt" fill="none" opacity="0.3"/>
<path d="M234.3 172 L239.5 172M235.43 170.53 L238.37 173.47M236.9 169.4 L236.9 174.6M238.37 170.53 L235.43 173.47" stroke="#1e48ea" stroke-width="0.9" opacity="0.6" fill="none"/>
<path d="M234.45 176 L239.65 176M235.58 174.53 L238.52 177.47M237.05 173.4 L237.05 178.6M238.52 174.53 L235.58 177.47" stroke="#1e48ea" stroke-width="0.9" opacity="0.6" fill="none"/>
<path d="M234.59 179.8 L239.79 179.8M235.72 178.33 L238.66 181.27M237.19 177.2 L237.19 182.4M238.66 178.33 L235.72 181.27" stroke="#1e48ea" stroke-width="0.9" opacity="0.6" fill="none"/>
<path d="M234.72 183.41 L239.92 183.41M235.85 181.94 L238.79 184.88M237.32 180.81 L237.32 186.01M238.79 181.94 L235.85 184.88" stroke="#1e48ea" stroke-width="0.9" opacity="0.6" fill="none"/>
<path d="M234.85 186.84 L240.05 186.84M235.98 185.37 L238.92 188.31M237.45 184.24 L237.45 189.44M238.92 185.37 L235.98 188.31" stroke="#1e48ea" stroke-width="0.9" opacity="0.6" fill="none"/>
<path d="M234.97 190.1 L240.17 190.1M236.1 188.63 L239.04 191.57M237.57 187.5 L237.57 192.7M239.04 188.63 L236.1 191.57" stroke="#1e48ea" stroke-width="0.9" opacity="0.6" fill="none"/>
<path d="M235.18 193.19 L240.38 193.19M236.31 191.72 L239.25 194.66M237.78 190.59 L237.78 195.79M239.25 191.72 L236.31 194.66" stroke="#1e48ea" stroke-width="0.9" opacity="0.6" fill="none"/>
<path d="M235.4 196.13 L240.6 196.13M236.53 194.66 L239.47 197.6M238 193.53 L238 198.73M239.47 194.66 L236.53 197.6" stroke="#1e48ea" stroke-width="0.9" opacity="0.6" fill="none"/>
<path d="M235.61 198.93 L240.81 198.93M236.74 197.46 L239.68 200.4M238.21 196.33 L238.21 201.53M239.68 197.46 L236.74 200.4" stroke="#1e48ea" stroke-width="0.9" opacity="0.6" fill="none"/>
<path d="M235.81 201.58 L241.01 201.58M236.94 200.11 L239.88 203.05M238.41 198.98 L238.41 204.18M239.88 200.11 L236.94 203.05" stroke="#1e48ea" stroke-width="0.9" opacity="0.6" fill="none"/>
<path d="M236 204.18 L241.2 204.18M237.13 202.71 L240.07 205.65M238.6 201.58 L238.6 206.78M240.07 202.71 L237.13 205.65" stroke="#1e48ea" stroke-width="0.9" opacity="0.6" fill="none"/>
<path d="M236.2 206.78 L241.4 206.78M237.33 205.31 L240.27 208.25M238.8 204.18 L238.8 209.38M240.27 205.31 L237.33 208.25" stroke="#1e48ea" stroke-width="0.9" opacity="0.6" fill="none"/>
<path d="M236.34 169.42L236.38 170.7L236.43 172.35L236.49 174.31L236.54 176.5L236.6 178.87L236.66 181.33L236.71 183.83L236.76 186.29L236.82 188.65L236.88 190.84L236.94 192.95L237.01 195.12L237.08 197.31L237.15 199.5L237.2 201.66L237.24 203.76L237.25 205.78L237.25 207.68L237.21 209.45L237.16 211.05L237.12 212.48L237.09 213.73L237.1 214.84L237.17 215.85L237.31 216.75L237.49 217.57L237.71 218.33L237.94 219.06L238.19 219.79L238.46 220.58L238.75 221.47L239.07 222.41L239.4 223.37L239.74 224.35L240.1 225.32L240.48 226.3L240.88 227.25L241.3 228.19L241.75 229.1L242.21 229.95L242.68 230.72L243.15 231.43L243.63 232.12L244.14 232.77L244.67 233.4L245.24 234L245.83 234.57L246.46 235.11L247.13 235.63L247.84 236.15L248.61 236.66L249.43 237.15L250.28 237.61L251.15 238.04L252.03 238.45L252.94 238.84L253.84 239.2L254.76 239.54L255.66 239.86L256.59 240.16L257.59 240.45L258.65 240.71L259.74 240.94L260.82 241.15L261.88 241.33L262.88 241.5L263.8 241.64L264.61 241.76L265.27 241.87L265.76 241.95L266.84 235.85L266.28 235.75L265.57 235.64L264.75 235.51L263.86 235.37L262.91 235.22L261.93 235.05L260.96 234.86L260.03 234.67L259.18 234.46L258.41 234.24L257.65 233.99L256.87 233.71L256.08 233.42L255.31 233.11L254.55 232.79L253.83 232.45L253.14 232.11L252.49 231.76L251.9 231.41L251.36 231.05L250.86 230.69L250.41 230.33L250 229.98L249.63 229.62L249.28 229.25L248.94 228.86L248.61 228.43L248.28 227.96L247.93 227.43L247.59 226.85L247.25 226.23L246.91 225.55L246.57 224.8L246.23 223.98L245.9 223.13L245.57 222.24L245.25 221.34L244.94 220.42L244.64 219.52L244.34 218.62L244.04 217.75L243.76 216.98L243.49 216.29L243.22 215.66L242.94 215.05L242.64 214.41L242.29 213.68L241.89 212.82L241.47 211.79L241.04 210.55L240.62 209.07L240.23 207.4L239.88 205.56L239.58 203.58L239.31 201.51L239.08 199.38L238.87 197.2L238.67 195.02L238.49 192.86L238.32 190.76L238.16 188.59L238 186.24L237.86 183.79L237.73 181.29L237.61 178.83L237.51 176.47L237.43 174.28L237.36 172.32L237.31 170.66L237.26 169.38Z" fill="#1e48ea" opacity="0.35" stroke="none"/><circle cx="266.3" cy="238.9" r="3.1" fill="#1e48ea" opacity="0.35"/>
<path d="M236.47 169.41L236.52 170.69L236.57 172.34L236.62 174.3L236.68 176.5L236.75 178.86L236.81 181.33L236.88 183.82L236.94 186.29L237.01 188.64L237.09 190.83L237.17 192.94L237.25 195.1L237.34 197.29L237.43 199.48L237.51 201.64L237.58 203.74L237.64 205.75L237.68 207.64L237.71 209.39L237.73 210.98L237.75 212.38L237.79 213.6L237.85 214.68L237.97 215.64L238.12 216.5L238.32 217.3L238.55 218.04L238.79 218.76L239.04 219.49L239.31 220.3L239.61 221.19L239.92 222.12L240.25 223.08L240.59 224.04L240.94 225L241.31 225.96L241.7 226.9L242.11 227.81L242.54 228.68L242.99 229.5L243.44 230.24L243.89 230.93L244.35 231.58L244.83 232.2L245.34 232.8L245.87 233.36L246.44 233.9L247.04 234.42L247.67 234.92L248.35 235.41L249.09 235.9L249.87 236.37L250.69 236.81L251.54 237.23L252.4 237.63L253.28 238.01L254.17 238.36L255.06 238.7L255.95 239.01L256.85 239.3L257.82 239.58L258.85 239.83L259.92 240.06L260.98 240.26L262.03 240.44L263.02 240.61L263.94 240.75L264.75 240.87L265.41 240.98L265.92 241.07L266.68 236.73L266.13 236.64L265.43 236.53L264.61 236.4L263.72 236.26L262.76 236.11L261.77 235.93L260.79 235.75L259.83 235.54L258.95 235.33L258.15 235.1L257.37 234.84L256.56 234.56L255.76 234.26L254.96 233.94L254.19 233.61L253.44 233.26L252.72 232.91L252.05 232.54L251.42 232.17L250.85 231.79L250.32 231.41L249.84 231.02L249.4 230.64L248.99 230.26L248.61 229.85L248.25 229.43L247.89 228.97L247.53 228.46L247.17 227.9L246.81 227.3L246.45 226.65L246.09 225.93L245.74 225.15L245.4 224.32L245.06 223.45L244.73 222.55L244.4 221.63L244.09 220.71L243.78 219.8L243.49 218.9L243.19 218.05L242.91 217.28L242.65 216.59L242.39 215.94L242.13 215.3L241.84 214.62L241.53 213.85L241.19 212.96L240.84 211.89L240.47 210.62L240.12 209.13L239.8 207.44L239.5 205.59L239.24 203.61L239.01 201.53L238.8 199.39L238.61 197.22L238.43 195.03L238.27 192.88L238.11 190.77L237.96 188.6L237.82 186.25L237.69 183.79L237.57 181.3L237.47 178.84L237.37 176.48L237.29 174.28L237.23 172.32L237.17 170.67L237.13 169.39Z" fill="#1e48ea" opacity="1.0" stroke="none"/><circle cx="266.3" cy="238.9" r="2.2" fill="#1e48ea" opacity="1.0"/>
<path d="M236.8 169.4C236.93 172.97 237.22 183.9 237.6 190.8C237.98 197.7 238.47 206 239.1 210.8C239.73 215.6 240.43 216.67 241.4 219.6C242.37 222.53 243.53 226.07 244.9 228.4C246.27 230.73 247.5 232.13 249.6 233.6C251.7 235.07 254.72 236.32 257.5 237.2C260.28 238.08 264.83 238.62 266.3 238.9" stroke="#0818ac" stroke-width="1.7" stroke-linecap="butt" stroke-linejoin="round" fill="none"/>
<path d="M270 168.6C270.07 172.17 270.27 183.1 270.4 190C270.53 196.9 270.62 203.73 270.8 210C270.98 216.27 271.38 224.67 271.5 227.6" stroke="#12e4ff" stroke-width="3.6" stroke-linecap="butt" fill="none" opacity="0.38"/>
<path d="M267.54 176 L272.74 176M268.67 174.53 L271.61 177.47M270.14 173.4 L270.14 178.6M271.61 174.53 L268.67 177.47" stroke="#12e4ff" stroke-width="0.9" opacity="0.6" fill="none"/>
<path d="M267.7 184.5 L272.9 184.5M268.83 183.03 L271.77 185.97M270.3 181.9 L270.3 187.1M271.77 183.03 L268.83 185.97" stroke="#12e4ff" stroke-width="0.9" opacity="0.6" fill="none"/>
<path d="M267.83 191.72 L273.03 191.72M268.96 190.25 L271.91 193.2M270.43 189.12 L270.43 194.32M271.91 190.25 L268.96 193.2" stroke="#12e4ff" stroke-width="0.9" opacity="0.6" fill="none"/>
<path d="M267.96 197.87 L273.16 197.87M269.09 196.4 L272.03 199.34M270.56 195.27 L270.56 200.47M272.03 196.4 L269.09 199.34" stroke="#12e4ff" stroke-width="0.9" opacity="0.6" fill="none"/>
<path d="M268.06 203.09 L273.26 203.09M269.19 201.62 L272.13 204.56M270.66 200.49 L270.66 205.69M272.13 201.62 L269.19 204.56" stroke="#12e4ff" stroke-width="0.9" opacity="0.6" fill="none"/>
<path d="M268.15 207.52 L273.35 207.52M269.28 206.05 L272.22 208.99M270.75 204.92 L270.75 210.12M272.22 206.05 L269.28 208.99" stroke="#12e4ff" stroke-width="0.9" opacity="0.6" fill="none"/>
<path d="M268.25 211.29 L273.45 211.29M269.38 209.82 L272.32 212.77M270.85 208.69 L270.85 213.89M272.32 209.82 L269.38 212.77" stroke="#12e4ff" stroke-width="0.9" opacity="0.6" fill="none"/>
<path d="M268.38 214.5 L273.58 214.5M269.51 213.03 L272.45 215.97M270.98 211.9 L270.98 217.1M272.45 213.03 L269.51 215.97" stroke="#12e4ff" stroke-width="0.9" opacity="0.6" fill="none"/>
<path d="M268.49 217.23 L273.69 217.23M269.62 215.75 L272.56 218.7M271.09 214.63 L271.09 219.83M272.56 215.75 L269.62 218.7" stroke="#12e4ff" stroke-width="0.9" opacity="0.6" fill="none"/>
<path d="M268.59 219.83 L273.79 219.83M269.72 218.35 L272.66 221.3M271.19 217.23 L271.19 222.43M272.66 218.35 L269.72 221.3" stroke="#12e4ff" stroke-width="0.9" opacity="0.6" fill="none"/>
<path d="M268.69 222.43 L273.89 222.43M269.82 220.95 L272.76 223.9M271.29 219.83 L271.29 225.03M272.76 220.95 L269.82 223.9" stroke="#12e4ff" stroke-width="0.9" opacity="0.6" fill="none"/>
<path d="M268.8 225.03 L274 225.03M269.93 223.55 L272.87 226.5M271.4 222.43 L271.4 227.63M272.87 223.55 L269.93 226.5" stroke="#12e4ff" stroke-width="0.9" opacity="0.6" fill="none"/>
<path d="M269.62 168.61L269.64 169.89L269.67 171.54L269.71 173.5L269.75 175.69L269.79 178.06L269.84 180.52L269.88 183.02L269.93 185.47L269.98 187.83L270.02 190.01L270.06 192.07L270.1 194.13L270.13 196.19L270.16 198.22L270.18 200.24L270.19 202.25L270.21 204.23L270.22 206.19L270.23 208.12L270.26 210.02L270.28 211.92L270.29 213.86L270.3 215.81L270.28 217.74L270.25 219.64L270.19 221.48L270.1 223.23L269.98 224.87L269.85 226.39L269.7 227.75L269.56 228.95L269.43 230.01L269.34 230.96L269.31 231.82L269.34 232.61L269.44 233.36L269.61 234.06L269.83 234.73L270.09 235.36L270.38 235.96L270.69 236.53L271.03 237.08L271.43 237.64L271.91 238.18L272.47 238.67L273.07 239.09L273.7 239.44L274.34 239.73L275 239.98L275.74 240.22L276.58 240.46L277.49 240.67L278.44 240.84L279.43 241L280.45 241.14L281.5 241.27L282.58 241.39L283.67 241.5L284.78 241.62L285.9 241.73L287.13 241.86L288.51 241.98L289.97 242.1L291.48 242.22L292.99 242.33L294.44 242.43L295.79 242.53L297 242.61L298.01 242.68L298.78 242.74L299.22 236.86L298.44 236.8L297.41 236.73L296.21 236.64L294.86 236.55L293.41 236.45L291.93 236.34L290.44 236.22L289.01 236.1L287.69 235.98L286.5 235.87L285.39 235.75L284.29 235.63L283.21 235.52L282.18 235.41L281.2 235.29L280.28 235.16L279.44 235.03L278.68 234.89L278.03 234.74L277.46 234.58L276.97 234.42L276.58 234.27L276.32 234.15L276.18 234.07L276.12 234.03L276.09 234L276.04 233.95L275.95 233.82L275.8 233.59L275.62 233.24L275.43 232.88L275.28 232.55L275.13 232.22L274.98 231.86L274.8 231.44L274.58 230.91L274.31 230.26L274 229.48L273.65 228.54L273.3 227.45L272.94 226.17L272.62 224.72L272.34 223.12L272.11 221.4L271.91 219.58L271.76 217.7L271.63 215.77L271.52 213.83L271.43 211.89L271.34 209.98L271.26 208.09L271.18 206.16L271.11 204.21L271.04 202.23L270.99 200.23L270.94 198.21L270.89 196.17L270.85 194.12L270.82 192.06L270.78 189.99L270.74 187.81L270.7 185.46L270.65 183L270.61 180.51L270.56 178.04L270.51 175.68L270.47 173.48L270.44 171.53L270.41 169.87L270.38 168.59Z" fill="#12e4ff" opacity="0.35" stroke="none"/><circle cx="299" cy="239.8" r="2.95" fill="#12e4ff" opacity="0.35"/>
<path d="M269.73 168.6L269.76 169.88L269.79 171.54L269.82 173.5L269.86 175.69L269.91 178.05L269.95 180.52L270 183.01L270.05 185.47L270.09 187.83L270.14 190.01L270.18 192.07L270.21 194.13L270.25 196.18L270.27 198.22L270.3 200.24L270.32 202.25L270.34 204.23L270.37 206.18L270.39 208.11L270.42 210.01L270.45 211.92L270.48 213.86L270.5 215.8L270.51 217.74L270.5 219.63L270.48 221.46L270.44 223.21L270.39 224.85L270.32 226.36L270.25 227.71L270.19 228.89L270.13 229.93L270.1 230.85L270.11 231.68L270.17 232.43L270.29 233.13L270.45 233.78L270.66 234.4L270.91 234.98L271.18 235.54L271.47 236.08L271.78 236.58L272.14 237.07L272.55 237.54L273.03 237.96L273.55 238.33L274.1 238.63L274.68 238.89L275.3 239.13L276 239.36L276.8 239.59L277.67 239.78L278.59 239.96L279.56 240.11L280.56 240.25L281.6 240.37L282.67 240.49L283.77 240.61L284.87 240.72L285.99 240.84L287.22 240.96L288.58 241.08L290.04 241.2L291.55 241.32L293.05 241.43L294.5 241.54L295.86 241.63L297.06 241.72L298.08 241.79L298.85 241.84L299.15 237.76L298.37 237.7L297.35 237.63L296.14 237.54L294.79 237.45L293.35 237.34L291.86 237.23L290.37 237.12L288.94 237L287.6 236.88L286.41 236.76L285.3 236.64L284.19 236.53L283.12 236.42L282.08 236.3L281.09 236.18L280.15 236.05L279.29 235.92L278.5 235.77L277.81 235.61L277.2 235.44L276.67 235.26L276.24 235.1L275.92 234.96L275.71 234.84L275.56 234.74L275.45 234.64L275.34 234.51L275.2 234.32L275.02 234.03L274.82 233.66L274.62 233.25L274.45 232.88L274.29 232.5L274.13 232.09L273.97 231.62L273.77 231.05L273.55 230.37L273.3 229.56L273.03 228.61L272.75 227.49L272.47 226.2L272.22 224.75L272 223.14L271.81 221.41L271.66 219.59L271.53 217.71L271.43 215.78L271.34 213.83L271.26 211.89L271.18 209.99L271.1 208.09L271.04 206.17L270.97 204.21L270.91 202.23L270.86 200.23L270.82 198.21L270.78 196.17L270.74 194.12L270.7 192.06L270.66 189.99L270.62 187.82L270.58 185.46L270.53 183L270.49 180.51L270.44 178.05L270.4 175.68L270.36 173.49L270.32 171.53L270.29 169.87L270.27 168.6Z" fill="#12e4ff" opacity="1.0" stroke="none"/><circle cx="299" cy="239.8" r="2.05" fill="#12e4ff" opacity="1.0"/>
<path d="M270 168.6C270.07 172.17 270.27 183.1 270.4 190C270.53 196.9 270.62 203.73 270.8 210C270.98 216.27 271.13 223.5 271.5 227.6C271.87 231.7 272.15 232.97 273 234.6C273.85 236.23 274.4 236.7 276.6 237.4C278.8 238.1 282.47 238.4 286.2 238.8C289.93 239.2 296.87 239.63 299 239.8" stroke="#0f5cff" stroke-width="1.7" stroke-linecap="butt" stroke-linejoin="round" fill="none"/>
<path d="M301 168.6C301.07 172.17 301.28 183.1 301.4 190C301.52 196.9 301.53 203.73 301.7 210C301.87 216.27 302.28 224.67 302.4 227.6" stroke="#c8ff28" stroke-width="3.6" stroke-linecap="butt" fill="none" opacity="0.14"/>
<path d="M298.54 176 L303.74 176M299.67 174.53 L302.61 177.47M301.14 173.4 L301.14 178.6M302.61 174.53 L299.67 177.47" stroke="#c8ff28" stroke-width="0.9" opacity="0.4" fill="none"/>
<path d="M298.7 184.5 L303.9 184.5M299.83 183.03 L302.77 185.97M301.3 181.9 L301.3 187.1M302.77 183.03 L299.83 185.97" stroke="#c8ff28" stroke-width="0.9" opacity="0.4" fill="none"/>
<path d="M298.83 191.72 L304.03 191.72M299.96 190.25 L302.9 193.2M301.43 189.12 L301.43 194.32M302.9 190.25 L299.96 193.2" stroke="#c8ff28" stroke-width="0.9" opacity="0.4" fill="none"/>
<path d="M298.92 197.87 L304.12 197.87M300.05 196.4 L302.99 199.34M301.52 195.27 L301.52 200.47M302.99 196.4 L300.05 199.34" stroke="#c8ff28" stroke-width="0.9" opacity="0.4" fill="none"/>
<path d="M299 203.09 L304.2 203.09M300.13 201.62 L303.07 204.56M301.6 200.49 L301.6 205.69M303.07 201.62 L300.13 204.56" stroke="#c8ff28" stroke-width="0.9" opacity="0.4" fill="none"/>
<path d="M299.06 207.52 L304.26 207.52M300.19 206.05 L303.13 208.99M301.66 204.92 L301.66 210.12M303.13 206.05 L300.19 208.99" stroke="#c8ff28" stroke-width="0.9" opacity="0.4" fill="none"/>
<path d="M299.15 211.29 L304.35 211.29M300.28 209.82 L303.22 212.77M301.75 208.69 L301.75 213.89M303.22 209.82 L300.28 212.77" stroke="#c8ff28" stroke-width="0.9" opacity="0.4" fill="none"/>
<path d="M299.28 214.5 L304.48 214.5M300.41 213.03 L303.35 215.97M301.88 211.9 L301.88 217.1M303.35 213.03 L300.41 215.97" stroke="#c8ff28" stroke-width="0.9" opacity="0.4" fill="none"/>
<path d="M299.39 217.23 L304.59 217.23M300.52 215.75 L303.46 218.7M301.99 214.63 L301.99 219.83M303.46 215.75 L300.52 218.7" stroke="#c8ff28" stroke-width="0.9" opacity="0.4" fill="none"/>
<path d="M299.49 219.83 L304.69 219.83M300.62 218.35 L303.56 221.3M302.09 217.23 L302.09 222.43M303.56 218.35 L300.62 221.3" stroke="#c8ff28" stroke-width="0.9" opacity="0.4" fill="none"/>
<path d="M299.59 222.43 L304.79 222.43M300.72 220.95 L303.66 223.9M302.19 219.83 L302.19 225.03M303.66 220.95 L300.72 223.9" stroke="#c8ff28" stroke-width="0.9" opacity="0.4" fill="none"/>
<path d="M299.7 225.03 L304.9 225.03M300.83 223.55 L303.77 226.5M302.3 222.43 L302.3 227.63M303.77 223.55 L300.83 226.5" stroke="#c8ff28" stroke-width="0.9" opacity="0.4" fill="none"/>
<path d="M300.66 168.61L300.69 169.89L300.72 171.54L300.76 173.5L300.8 175.69L300.85 178.06L300.9 180.52L300.96 183.01L301.01 185.47L301.07 187.83L301.12 190L301.17 192.07L301.21 194.13L301.24 196.18L301.26 198.22L301.28 200.24L301.28 202.24L301.28 204.23L301.28 206.18L301.28 208.11L301.28 210.01L301.29 211.92L301.29 213.87L301.29 215.84L301.29 217.78L301.27 219.69L301.23 221.54L301.17 223.29L301.09 224.92L301 226.41L300.89 227.73L300.75 228.85L300.6 229.81L300.45 230.65L300.34 231.41L300.3 232.12L300.34 232.82L300.48 233.49L300.71 234.13L300.99 234.71L301.32 235.29L301.75 235.91L302.24 236.52L302.78 237.06L303.34 237.55L303.93 237.98L304.53 238.37L305.14 238.71L305.76 239.03L306.38 239.32L307.05 239.62L307.81 239.92L308.63 240.21L309.48 240.47L310.34 240.71L311.22 240.94L312.09 241.16L312.96 241.36L313.8 241.54L314.61 241.72L315.39 241.89L316.15 242.04L316.89 242.19L317.62 242.32L318.34 242.44L319.05 242.55L319.75 242.65L320.46 242.75L321.17 242.84L321.89 242.93L322.64 243.03L323.46 243.13L324.35 243.23L325.28 243.32L326.23 243.42L327.16 243.51L328.06 243.59L328.89 243.67L329.63 243.73L330.24 243.79L330.72 243.84L331.28 237.96L330.8 237.92L330.17 237.86L329.43 237.79L328.6 237.71L327.72 237.63L326.8 237.54L325.88 237.45L324.98 237.36L324.13 237.27L323.36 237.17L322.64 237.08L321.93 236.99L321.24 236.9L320.58 236.81L319.92 236.71L319.28 236.61L318.63 236.51L317.98 236.39L317.31 236.26L316.61 236.11L315.86 235.95L315.07 235.78L314.26 235.6L313.45 235.41L312.66 235.22L311.88 235.02L311.15 234.81L310.48 234.6L309.88 234.4L309.35 234.18L308.83 233.95L308.35 233.73L307.93 233.51L307.57 233.31L307.27 233.12L307.02 232.93L306.81 232.75L306.63 232.57L306.46 232.37L306.28 232.11L306.08 231.81L305.93 231.57L305.79 231.4L305.64 231.23L305.44 230.98L305.19 230.61L304.9 230.08L304.58 229.39L304.24 228.53L303.91 227.47L303.6 226.23L303.32 224.79L303.08 223.2L302.87 221.47L302.7 219.64L302.55 217.74L302.42 215.8L302.31 213.84L302.21 211.9L302.12 209.99L302.03 208.1L301.96 206.17L301.89 204.22L301.83 202.24L301.79 200.23L301.75 198.21L301.73 196.18L301.71 194.12L301.7 192.06L301.68 190L301.66 187.82L301.63 185.46L301.59 183L301.55 180.51L301.51 178.04L301.47 175.68L301.43 173.48L301.39 171.53L301.36 169.87L301.34 168.59Z" fill="#c8ff28" opacity="0.35" stroke="none"/><circle cx="331" cy="240.9" r="2.95" fill="#c8ff28" opacity="0.35"/>
<path d="M300.77 168.6L300.79 169.88L300.82 171.54L300.86 173.5L300.9 175.69L300.95 178.05L301 180.52L301.05 183.01L301.11 185.47L301.16 187.82L301.21 190L301.25 192.07L301.29 194.13L301.32 196.18L301.34 198.22L301.35 200.24L301.36 202.24L301.37 204.22L301.38 206.18L301.39 208.11L301.41 210.01L301.43 211.92L301.45 213.87L301.47 215.83L301.48 217.78L301.48 219.69L301.48 221.53L301.46 223.27L301.43 224.9L301.4 226.38L301.35 227.69L301.28 228.8L301.21 229.75L301.13 230.56L301.08 231.28L301.08 231.95L301.15 232.57L301.29 233.17L301.5 233.74L301.76 234.27L302.08 234.81L302.47 235.37L302.91 235.91L303.39 236.41L303.9 236.85L304.44 237.24L305 237.6L305.57 237.92L306.15 238.22L306.76 238.5L307.4 238.79L308.13 239.08L308.91 239.35L309.73 239.61L310.58 239.85L311.44 240.07L312.3 240.28L313.16 240.48L314 240.66L314.8 240.84L315.57 241.01L316.32 241.16L317.06 241.3L317.78 241.43L318.48 241.55L319.18 241.66L319.88 241.76L320.58 241.86L321.29 241.95L322 242.04L322.75 242.13L323.56 242.23L324.45 242.33L325.37 242.43L326.31 242.52L327.24 242.61L328.14 242.69L328.97 242.77L329.71 242.84L330.33 242.89L330.8 242.94L331.2 238.86L330.71 238.81L330.08 238.75L329.34 238.69L328.52 238.61L327.63 238.53L326.71 238.44L325.79 238.35L324.88 238.25L324.03 238.16L323.25 238.07L322.52 237.97L321.81 237.88L321.12 237.79L320.45 237.7L319.79 237.6L319.13 237.5L318.48 237.39L317.81 237.27L317.13 237.14L316.43 236.99L315.67 236.83L314.88 236.66L314.06 236.48L313.25 236.29L312.44 236.09L311.65 235.89L310.9 235.68L310.2 235.46L309.56 235.24L309 235.01L308.46 234.77L307.96 234.54L307.51 234.31L307.11 234.08L306.76 233.86L306.46 233.64L306.19 233.41L305.96 233.17L305.74 232.91L305.52 232.59L305.31 232.25L305.13 231.96L304.98 231.72L304.83 231.47L304.66 231.15L304.45 230.73L304.22 230.17L303.97 229.46L303.71 228.58L303.45 227.51L303.2 226.25L302.98 224.81L302.79 223.21L302.62 221.48L302.48 219.65L302.36 217.75L302.25 215.81L302.16 213.85L302.07 211.9L301.99 209.99L301.92 208.1L301.85 206.17L301.79 204.22L301.75 202.24L301.71 200.24L301.68 198.21L301.65 196.18L301.63 194.13L301.62 192.06L301.59 190L301.57 187.82L301.53 185.46L301.5 183L301.45 180.51L301.41 178.05L301.37 175.68L301.33 173.49L301.29 171.53L301.26 169.88L301.23 168.6Z" fill="#c8ff28" opacity="1.0" stroke="none"/><circle cx="331" cy="240.9" r="2.05" fill="#c8ff28" opacity="1.0"/>
<path d="M301 168.6C301.07 172.17 301.28 183.1 301.4 190C301.52 196.9 301.53 203.73 301.7 210C301.87 216.27 302.05 223.65 302.4 227.6C302.75 231.55 302.83 232.15 303.8 233.7C304.77 235.25 306.17 236.02 308.2 236.9C310.23 237.78 313.53 238.47 316 239C318.47 239.53 320.5 239.78 323 240.1C325.5 240.42 329.67 240.77 331 240.9" stroke="#08ead8" stroke-width="1.7" stroke-linecap="butt" stroke-linejoin="round" fill="none"/>
<path d="M333.8 168.6C333.87 172.17 334.08 183.1 334.2 190C334.32 196.9 334.3 203.73 334.5 210C334.7 216.27 335.25 224.67 335.4 227.6" stroke="#ff6a00" stroke-width="3.6" stroke-linecap="butt" fill="none" opacity="0.12"/>
<path d="M331.26 172 L336.46 172M332.39 170.53 L335.33 173.47M333.86 169.4 L333.86 174.6M335.33 170.53 L332.39 173.47" stroke="#ff6a00" stroke-width="0.9" opacity="0.4" fill="none"/>
<path d="M331.35 176.4 L336.55 176.4M332.48 174.93 L335.42 177.87M333.95 173.8 L333.95 179M335.42 174.93 L332.48 177.87" stroke="#ff6a00" stroke-width="0.9" opacity="0.4" fill="none"/>
<path d="M331.43 180.67 L336.63 180.67M332.55 179.2 L335.5 182.14M334.03 178.07 L334.03 183.27M335.5 179.2 L332.55 182.14" stroke="#ff6a00" stroke-width="0.9" opacity="0.4" fill="none"/>
<path d="M331.5 184.81 L336.7 184.81M332.63 183.34 L335.57 186.28M334.1 182.21 L334.1 187.41M335.57 183.34 L332.63 186.28" stroke="#ff6a00" stroke-width="0.9" opacity="0.4" fill="none"/>
<path d="M331.58 188.82 L336.78 188.82M332.71 187.35 L335.65 190.29M334.18 186.22 L334.18 191.42M335.65 187.35 L332.71 190.29" stroke="#ff6a00" stroke-width="0.9" opacity="0.4" fill="none"/>
<path d="M331.64 192.72 L336.84 192.72M332.77 191.25 L335.71 194.19M334.24 190.12 L334.24 195.32M335.71 191.25 L332.77 194.19" stroke="#ff6a00" stroke-width="0.9" opacity="0.4" fill="none"/>
<path d="M331.7 196.5 L336.9 196.5M332.83 195.03 L335.77 197.97M334.3 193.9 L334.3 199.1M335.77 195.03 L332.83 197.97" stroke="#ff6a00" stroke-width="0.9" opacity="0.4" fill="none"/>
<path d="M331.75 200.16 L336.95 200.16M332.88 198.69 L335.82 201.63M334.35 197.56 L334.35 202.76M335.82 198.69 L332.88 201.63" stroke="#ff6a00" stroke-width="0.9" opacity="0.4" fill="none"/>
<path d="M331.81 203.72 L337.01 203.72M332.93 202.25 L335.88 205.19M334.41 201.12 L334.41 206.32M335.88 202.25 L332.93 205.19" stroke="#ff6a00" stroke-width="0.9" opacity="0.4" fill="none"/>
<path d="M331.86 207.17 L337.06 207.17M332.99 205.7 L335.93 208.64M334.46 204.57 L334.46 209.77M335.93 205.7 L332.99 208.64" stroke="#ff6a00" stroke-width="0.9" opacity="0.4" fill="none"/>
<path d="M331.93 210.51 L337.13 210.51M333.06 209.04 L336 211.98M334.53 207.91 L334.53 213.11M336 209.04 L333.06 211.98" stroke="#ff6a00" stroke-width="0.9" opacity="0.4" fill="none"/>
<path d="M332.09 213.76 L337.29 213.76M333.22 212.29 L336.16 215.23M334.69 211.16 L334.69 216.36M336.16 212.29 L333.22 215.23" stroke="#ff6a00" stroke-width="0.9" opacity="0.4" fill="none"/>
<path d="M332.25 216.9 L337.45 216.9M333.38 215.43 L336.32 218.37M334.85 214.3 L334.85 219.5M336.32 215.43 L333.38 218.37" stroke="#ff6a00" stroke-width="0.9" opacity="0.4" fill="none"/>
<path d="M332.41 219.96 L337.61 219.96M333.54 218.49 L336.48 221.43M335.01 217.36 L335.01 222.56M336.48 218.49 L333.54 221.43" stroke="#ff6a00" stroke-width="0.9" opacity="0.4" fill="none"/>
<path d="M332.56 222.92 L337.76 222.92M333.69 221.45 L336.63 224.39M335.16 220.32 L335.16 225.52M336.63 221.45 L333.69 224.39" stroke="#ff6a00" stroke-width="0.9" opacity="0.4" fill="none"/>
<path d="M332.71 225.79 L337.91 225.79M333.84 224.32 L336.78 227.26M335.31 223.19 L335.31 228.39M336.78 224.32 L333.84 227.26" stroke="#ff6a00" stroke-width="0.9" opacity="0.4" fill="none"/>
<path d="M333.54 168.6L333.56 169.88L333.59 171.54L333.63 173.5L333.68 175.69L333.72 178.05L333.78 180.52L333.83 183.01L333.88 185.47L333.94 187.82L333.99 190L334.04 192.07L334.07 194.13L334.1 196.18L334.12 198.22L334.12 200.24L334.12 202.24L334.12 204.22L334.11 206.18L334.11 208.11L334.11 210.01L334.12 211.92L334.13 213.87L334.14 215.84L334.14 217.79L334.14 219.7L334.11 221.55L334.05 223.3L333.97 224.94L333.86 226.44L333.74 227.79L333.6 228.95L333.48 229.97L333.4 230.88L333.38 231.7L333.45 232.45L333.6 233.14L333.81 233.75L334.05 234.29L334.3 234.76L334.57 235.24L334.89 235.77L335.25 236.31L335.64 236.84L336.08 237.34L336.56 237.82L337.07 238.26L337.62 238.66L338.19 239.02L338.79 239.36L339.43 239.67L340.12 239.97L340.85 240.23L341.59 240.46L342.34 240.67L343.11 240.85L343.89 241.02L344.69 241.17L345.5 241.32L346.34 241.46L347.21 241.61L348.14 241.76L349.14 241.9L350.18 242.04L351.26 242.18L352.35 242.31L353.45 242.43L354.56 242.54L355.65 242.65L356.71 242.75L357.75 242.84L358.8 242.92L359.91 243L361.04 243.06L362.16 243.12L363.26 243.17L364.29 243.22L365.25 243.26L366.1 243.29L366.8 243.32L367.36 243.35L367.64 237.25L367.07 237.23L366.35 237.2L365.5 237.16L364.55 237.12L363.53 237.08L362.46 237.03L361.38 236.97L360.29 236.91L359.25 236.84L358.25 236.76L357.26 236.67L356.23 236.58L355.17 236.47L354.1 236.36L353.04 236.24L351.99 236.12L350.96 235.99L349.98 235.86L349.06 235.73L348.19 235.59L347.36 235.45L346.56 235.31L345.81 235.18L345.1 235.04L344.44 234.9L343.84 234.76L343.29 234.61L342.8 234.45L342.36 234.3L341.97 234.13L341.61 233.95L341.31 233.78L341.06 233.62L340.86 233.48L340.69 233.33L340.54 233.18L340.39 233L340.22 232.79L340.05 232.52L339.83 232.16L339.59 231.76L339.38 231.41L339.2 231.14L339.03 230.9L338.83 230.65L338.57 230.31L338.24 229.85L337.87 229.23L337.47 228.42L337.06 227.41L336.68 226.19L336.33 224.77L336.04 223.18L335.79 221.46L335.58 219.64L335.4 217.74L335.25 215.8L335.12 213.84L335 211.89L334.89 209.99L334.79 208.09L334.7 206.17L334.62 204.22L334.56 202.24L334.51 200.24L334.48 198.21L334.46 196.18L334.44 194.13L334.43 192.06L334.41 190L334.39 187.82L334.36 185.46L334.32 183L334.28 180.51L334.24 178.05L334.2 175.68L334.15 173.49L334.12 171.53L334.09 169.87L334.06 168.6Z" fill="#ff6a00" opacity="0.35" stroke="none"/><circle cx="367.5" cy="240.3" r="3.05" fill="#ff6a00" opacity="0.35"/>
<path d="M333.62 168.6L333.64 169.88L333.67 171.54L333.71 173.49L333.75 175.69L333.8 178.05L333.85 180.52L333.9 183.01L333.95 185.47L334 187.82L334.05 190L334.09 192.07L334.13 194.13L334.15 196.18L334.17 198.22L334.18 200.24L334.19 202.24L334.19 204.22L334.2 206.18L334.21 208.11L334.23 210.01L334.25 211.92L334.28 213.87L334.31 215.83L334.33 217.78L334.35 219.69L334.35 221.53L334.35 223.28L334.32 224.92L334.28 226.41L334.23 227.73L334.17 228.88L334.13 229.86L334.11 230.73L334.15 231.5L334.24 232.19L334.4 232.81L334.61 233.37L334.84 233.87L335.08 234.32L335.35 234.79L335.65 235.29L335.98 235.79L336.34 236.27L336.74 236.73L337.17 237.15L337.63 237.55L338.13 237.92L338.65 238.25L339.2 238.56L339.8 238.85L340.45 239.13L341.14 239.38L341.84 239.6L342.56 239.8L343.3 239.97L344.07 240.13L344.85 240.29L345.66 240.43L346.49 240.58L347.35 240.72L348.28 240.87L349.26 241.01L350.3 241.15L351.36 241.28L352.45 241.41L353.55 241.53L354.65 241.65L355.73 241.75L356.79 241.85L357.82 241.94L358.87 242.02L359.97 242.1L361.09 242.16L362.21 242.22L363.3 242.27L364.33 242.32L365.29 242.36L366.13 242.39L366.84 242.42L367.4 242.45L367.6 238.15L367.03 238.13L366.31 238.1L365.46 238.06L364.51 238.02L363.49 237.98L362.42 237.93L361.33 237.87L360.24 237.81L359.18 237.74L358.18 237.66L357.18 237.57L356.14 237.47L355.08 237.37L354.01 237.26L352.94 237.14L351.88 237.02L350.85 236.89L349.86 236.75L348.92 236.62L348.05 236.48L347.21 236.34L346.41 236.2L345.64 236.06L344.92 235.92L344.25 235.78L343.62 235.63L343.04 235.47L342.51 235.31L342.03 235.13L341.6 234.95L341.2 234.75L340.85 234.55L340.55 234.37L340.3 234.18L340.08 234L339.88 233.79L339.69 233.57L339.49 233.31L339.28 233L339.05 232.61L338.81 232.2L338.59 231.83L338.41 231.52L338.23 231.23L338.03 230.91L337.8 230.52L337.53 230L337.22 229.34L336.9 228.5L336.57 227.47L336.26 226.23L335.98 224.79L335.74 223.2L335.54 221.47L335.36 219.65L335.22 217.75L335.09 215.8L334.98 213.85L334.87 211.9L334.77 209.99L334.69 208.1L334.61 206.17L334.55 204.22L334.5 202.24L334.46 200.24L334.43 198.21L334.4 196.18L334.39 194.13L334.37 192.07L334.35 190L334.32 187.82L334.29 185.46L334.25 183.01L334.21 180.51L334.16 178.05L334.12 175.68L334.08 173.49L334.04 171.53L334.01 169.88L333.98 168.6Z" fill="#ff6a00" opacity="1.0" stroke="none"/><circle cx="367.5" cy="240.3" r="2.15" fill="#ff6a00" opacity="1.0"/>
<path d="M333.8 168.6C333.87 172.17 334.08 183.1 334.2 190C334.32 196.9 334.3 203.73 334.5 210C334.7 216.27 334.95 223.65 335.4 227.6C335.85 231.55 336.32 232.15 337.2 233.7C338.08 235.25 338.95 236.08 340.7 236.9C342.45 237.72 344.82 238.12 347.7 238.6C350.58 239.08 354.7 239.52 358 239.8C361.3 240.08 365.92 240.22 367.5 240.3" stroke="#ecff00" stroke-width="1.7" stroke-linecap="butt" stroke-linejoin="round" fill="none"/>
<path d="M237.4 168.6C237.53 172.17 237.82 183.1 238.2 190C238.58 196.9 239.45 206.67 239.7 210" stroke="#be1a18" stroke-width="3.4" stroke-linecap="butt" fill="none" opacity="0.28"/>
<path d="M236.1 168.65L236.15 169.92L236.2 171.57L236.26 173.53L236.33 175.73L236.41 178.09L236.49 180.56L236.58 183.06L236.68 185.52L236.79 187.88L236.9 190.07L237.02 192.18L237.14 194.35L237.27 196.54L237.4 198.72L237.54 200.88L237.66 202.98L237.77 204.99L237.86 206.88L237.92 208.64L237.97 210.23L238.01 211.63L238.07 212.86L238.16 213.94L238.29 214.91L238.46 215.78L238.67 216.58L238.9 217.32L239.15 218.04L239.41 218.77L239.68 219.58L239.97 220.47L240.28 221.4L240.61 222.36L240.95 223.33L241.31 224.29L241.68 225.25L242.07 226.2L242.49 227.11L242.92 228L243.38 228.82L243.83 229.57L244.28 230.27L244.75 230.93L245.24 231.56L245.75 232.16L246.3 232.74L246.87 233.28L247.48 233.81L248.12 234.32L248.81 234.82L249.56 235.31L250.35 235.78L251.18 236.23L252.03 236.66L252.9 237.06L253.78 237.44L254.68 237.8L255.58 238.13L256.47 238.44L257.36 238.74L258.22 239L259.06 239.23L259.88 239.44L260.71 239.63L261.56 239.8L262.43 239.95L263.35 240.09L264.34 240.24L265.42 240.38L266.6 240.53L267.91 240.69L269.34 240.84L270.85 240.99L272.43 241.14L274.06 241.28L275.74 241.42L277.44 241.55L279.14 241.69L280.84 241.82L282.51 241.94L284.12 242.07L285.67 242.19L287.19 242.31L288.72 242.42L290.29 242.54L291.94 242.65L293.69 242.75L295.58 242.86L297.64 242.96L299.91 243.05L302.44 243.14L305.22 243.22L308.21 243.3L311.34 243.37L314.55 243.44L317.8 243.51L321.02 243.57L324.16 243.64L327.15 243.69L329.95 243.75L332.68 243.8L335.46 243.86L338.25 243.9L340.99 243.95L343.64 243.99L346.13 244.03L348.42 244.07L350.45 244.1L352.19 244.13L353.56 244.15L353.64 239.25L352.26 239.23L350.53 239.2L348.49 239.17L346.2 239.13L343.71 239.09L341.07 239.05L338.34 239.01L335.55 238.96L332.77 238.9L330.05 238.85L327.25 238.79L324.25 238.74L321.12 238.68L317.9 238.61L314.66 238.54L311.45 238.47L308.33 238.4L305.36 238.32L302.59 238.24L300.09 238.15L297.86 238.06L295.83 237.96L293.97 237.86L292.25 237.76L290.63 237.65L289.08 237.54L287.57 237.42L286.05 237.3L284.5 237.18L282.89 237.06L281.21 236.93L279.52 236.8L277.82 236.67L276.14 236.53L274.48 236.4L272.86 236.26L271.31 236.11L269.84 235.97L268.47 235.82L267.2 235.67L266.05 235.52L265.01 235.38L264.08 235.25L263.23 235.12L262.46 234.98L261.73 234.83L261.02 234.68L260.32 234.5L259.6 234.3L258.84 234.06L258.05 233.8L257.25 233.52L256.45 233.23L255.66 232.91L254.89 232.58L254.15 232.24L253.44 231.88L252.77 231.52L252.16 231.16L251.59 230.78L251.07 230.41L250.6 230.03L250.16 229.66L249.77 229.28L249.4 228.89L249.04 228.47L248.69 228.02L248.34 227.52L247.98 226.97L247.62 226.38L247.27 225.73L246.92 225.03L246.57 224.25L246.23 223.42L245.89 222.56L245.56 221.66L245.24 220.75L244.92 219.83L244.62 218.92L244.32 218.02L244.03 217.17L243.75 216.4L243.49 215.7L243.24 215.05L242.99 214.42L242.72 213.74L242.43 212.98L242.11 212.1L241.77 211.04L241.43 209.77L241.11 208.28L240.82 206.6L240.57 204.75L240.36 202.77L240.18 200.69L240.02 198.55L239.87 196.38L239.74 194.19L239.62 192.03L239.5 189.93L239.39 187.76L239.28 185.41L239.18 182.96L239.09 180.47L239.01 178.01L238.93 175.64L238.86 173.45L238.8 171.49L238.74 169.84L238.7 168.55Z" fill="#c8201c" opacity="0.4" stroke="none"/><circle cx="353.6" cy="241.7" r="2.45" fill="#c8201c" opacity="0.4"/>
<path d="M236.6 168.63L236.64 169.91L236.7 171.56L236.76 173.52L236.83 175.71L236.91 178.08L236.99 180.54L237.08 183.04L237.18 185.5L237.29 187.86L237.4 190.04L237.52 192.15L237.64 194.32L237.77 196.51L237.9 198.69L238.03 200.85L238.16 202.94L238.27 204.94L238.37 206.83L238.45 208.58L238.53 210.15L238.61 211.54L238.7 212.74L238.81 213.8L238.97 214.73L239.15 215.57L239.37 216.35L239.6 217.08L239.85 217.79L240.11 218.53L240.39 219.34L240.68 220.23L240.99 221.16L241.32 222.11L241.66 223.07L242.01 224.03L242.38 224.97L242.76 225.9L243.17 226.79L243.59 227.65L244.03 228.45L244.47 229.18L244.9 229.85L245.35 230.49L245.82 231.09L246.31 231.66L246.83 232.21L247.37 232.73L247.95 233.23L248.57 233.72L249.23 234.2L249.95 234.67L250.72 235.13L251.52 235.57L252.35 235.98L253.2 236.37L254.07 236.74L254.95 237.1L255.83 237.43L256.71 237.73L257.59 238.02L258.43 238.28L259.25 238.51L260.06 238.71L260.87 238.89L261.69 239.06L262.55 239.21L263.46 239.35L264.44 239.49L265.51 239.64L266.69 239.79L268 239.94L269.41 240.1L270.92 240.24L272.49 240.39L274.12 240.53L275.8 240.67L277.5 240.81L279.2 240.94L280.9 241.07L282.57 241.2L284.18 241.32L285.73 241.44L287.25 241.56L288.78 241.68L290.34 241.79L291.99 241.9L293.73 242.01L295.62 242.11L297.67 242.21L299.94 242.3L302.46 242.39L305.24 242.47L308.23 242.55L311.35 242.62L314.57 242.69L317.82 242.76L321.04 242.82L324.17 242.89L327.17 242.94L329.97 243L332.69 243.05L335.48 243.11L338.26 243.15L341.01 243.2L343.65 243.24L346.14 243.28L348.43 243.32L350.47 243.35L352.2 243.38L353.57 243.4L353.63 240L352.25 239.98L350.52 239.95L348.48 239.92L346.19 239.88L343.7 239.84L341.06 239.8L338.32 239.75L335.54 239.71L332.76 239.65L330.03 239.6L327.24 239.54L324.24 239.49L321.1 239.42L317.89 239.36L314.64 239.29L311.43 239.22L308.31 239.15L305.34 239.07L302.57 238.99L300.06 238.9L297.82 238.81L295.79 238.71L293.93 238.61L292.2 238.51L290.58 238.4L289.03 238.29L287.51 238.17L285.99 238.05L284.44 237.93L282.83 237.8L281.16 237.68L279.46 237.55L277.76 237.42L276.07 237.28L274.41 237.14L272.8 237L271.24 236.86L269.76 236.71L268.38 236.56L267.11 236.41L265.95 236.27L264.91 236.13L263.97 235.99L263.11 235.86L262.32 235.72L261.57 235.57L260.85 235.41L260.13 235.22L259.39 235.02L258.61 234.78L257.81 234.51L256.99 234.23L256.18 233.92L255.37 233.6L254.58 233.27L253.82 232.91L253.09 232.55L252.4 232.17L251.76 231.79L251.17 231.4L250.62 231L250.12 230.61L249.66 230.21L249.24 229.81L248.84 229.39L248.46 228.94L248.09 228.46L247.72 227.94L247.35 227.37L246.97 226.75L246.6 226.08L246.24 225.35L245.88 224.55L245.53 223.7L245.19 222.82L244.85 221.92L244.53 221L244.21 220.07L243.91 219.16L243.61 218.26L243.32 217.41L243.05 216.65L242.79 215.95L242.54 215.29L242.3 214.63L242.04 213.92L241.77 213.13L241.48 212.21L241.18 211.13L240.87 209.85L240.58 208.34L240.31 206.65L240.07 204.79L239.86 202.81L239.68 200.73L239.52 198.59L239.38 196.41L239.24 194.22L239.12 192.06L239 189.96L238.89 187.78L238.78 185.43L238.68 182.98L238.59 180.49L238.51 178.02L238.43 175.66L238.36 173.47L238.3 171.51L238.24 169.85L238.2 168.57Z" fill="#be1a18" opacity="0.9" stroke="none"/><circle cx="353.6" cy="241.7" r="1.7" fill="#be1a18" opacity="0.9"/>
<path d="M237.4 168.6C237.53 172.17 237.82 183.1 238.2 190C238.58 196.9 239.07 205.2 239.7 210C240.33 214.8 241.03 215.87 242 218.8C242.97 221.73 244.13 225.27 245.5 227.6C246.87 229.93 248.1 231.33 250.2 232.8C252.3 234.27 255.32 235.52 258.1 236.4C260.88 237.28 262.8 237.58 266.9 238.1C271 238.62 277.18 239.08 282.7 239.5C288.22 239.92 292.12 240.3 300 240.6C307.88 240.9 321.07 241.12 330 241.3C338.93 241.48 349.67 241.63 353.6 241.7" stroke="#ff4210" stroke-width="1.6" stroke-linecap="butt" stroke-linejoin="round" fill="none"/>
<path d="M308.59 239.35L309 239.45L309.53 239.58L310.16 239.73L310.87 239.9L311.65 240.09L312.46 240.28L313.28 240.47L314.11 240.65L314.91 240.82L315.67 240.97L316.39 241.1L317.09 241.22L317.79 241.33L318.49 241.43L319.19 241.53L319.89 241.63L320.6 241.72L321.32 241.81L322.04 241.9L322.79 241.99L323.6 242.08L324.48 242.18L325.4 242.27L326.34 242.36L327.27 242.45L328.16 242.54L328.99 242.62L329.73 242.69L330.35 242.75L330.83 242.79L331.17 239.21L330.69 239.16L330.06 239.1L329.32 239.03L328.5 238.96L327.61 238.87L326.69 238.78L325.76 238.69L324.85 238.6L324 238.5L323.21 238.41L322.48 238.32L321.76 238.24L321.05 238.15L320.36 238.06L319.68 237.97L319.01 237.87L318.34 237.77L317.68 237.67L317.01 237.55L316.33 237.43L315.63 237.29L314.87 237.13L314.08 236.96L313.27 236.77L312.48 236.59L311.72 236.4L311.01 236.23L310.38 236.08L309.83 235.95L309.41 235.85Z" fill="#c8ff28" opacity="0.5" stroke="none"/><circle cx="331" cy="241" r="1.8" fill="#c8ff28" opacity="0.5"/>
</g>
</g>
<g>
<line x1="458.4" y1="168.6" x2="458.4" y2="267.1" stroke="#efefef" stroke-width="0.8"/>
<line x1="507.1" y1="168.6" x2="507.1" y2="267.1" stroke="#efefef" stroke-width="0.8"/>
<line x1="409.7" y1="244.37" x2="542" y2="244.37" stroke="#efefef" stroke-width="0.8"/>
<line x1="409.7" y1="206.48" x2="542" y2="206.48" stroke="#efefef" stroke-width="0.8"/>
<rect x="409.7" y="168.6" width="132.3" height="98.5" fill="none" stroke="#b0b0b0" stroke-width="1"/>
<line x1="409.7" y1="267.1" x2="409.7" y2="265.7" stroke="#555" stroke-width="0.8" opacity="0.8"/>
<line x1="458.4" y1="267.1" x2="458.4" y2="265.7" stroke="#555" stroke-width="0.8" opacity="0.8"/>
<line x1="507.1" y1="267.1" x2="507.1" y2="265.7" stroke="#555" stroke-width="0.8" opacity="0.8"/>
<line x1="409.7" y1="244.37" x2="411.1" y2="244.37" stroke="#555" stroke-width="0.8" opacity="0.8"/>
<line x1="542" y1="244.37" x2="540.6" y2="244.37" stroke="#555" stroke-width="0.8" opacity="0.8"/>
<line x1="409.7" y1="206.48" x2="411.1" y2="206.48" stroke="#555" stroke-width="0.8" opacity="0.8"/>
<line x1="542" y1="206.48" x2="540.6" y2="206.48" stroke="#555" stroke-width="0.8" opacity="0.8"/>
<line x1="409.7" y1="168.6" x2="411.1" y2="168.6" stroke="#555" stroke-width="0.8" opacity="0.8"/>
<line x1="542" y1="168.6" x2="540.6" y2="168.6" stroke="#555" stroke-width="0.8" opacity="0.8"/>
<text x="409.4" y="285.3" text-anchor="middle" class="tk">0</text>
<text x="458.1" y="285.3" text-anchor="middle" class="tk">50</text>
<text x="506.8" y="285.3" text-anchor="middle" class="tk">100</text>
<text x="405.2" y="249.87" text-anchor="end" class="tk">0</text>
<text x="405.2" y="211.98" text-anchor="end" class="tk">50</text>
<text x="405.2" y="174.1" text-anchor="end" class="tk">100</text>
<text x="475.85" y="163" text-anchor="middle" class="tt">4.2 V</text>
<g clip-path="url(#cp5)">
<path d="M412.63 171 L417.83 171M413.76 169.53 L416.71 172.47M415.23 168.4 L415.23 173.6M416.71 169.53 L413.76 172.47" stroke="#1e48ea" stroke-width="0.9" opacity="0.5" fill="none"/>
<path d="M412.93 174 L418.13 174M414.06 172.53 L417 175.47M415.53 171.4 L415.53 176.6M417 172.53 L414.06 175.47" stroke="#1e48ea" stroke-width="0.9" opacity="0.5" fill="none"/>
<path d="M413.22 177 L418.42 177M414.35 175.53 L417.29 178.47M415.82 174.4 L415.82 179.6M417.29 175.53 L414.35 178.47" stroke="#1e48ea" stroke-width="0.9" opacity="0.5" fill="none"/>
<path d="M413.52 180 L418.72 180M414.64 178.53 L417.59 181.47M416.12 177.4 L416.12 182.6M417.59 178.53 L414.64 181.47" stroke="#1e48ea" stroke-width="0.9" opacity="0.5" fill="none"/>
<path d="M413.81 183 L419.01 183M414.94 181.53 L417.88 184.47M416.41 180.4 L416.41 185.6M417.88 181.53 L414.94 184.47" stroke="#1e48ea" stroke-width="0.9" opacity="0.5" fill="none"/>
<path d="M414.1 186 L419.3 186M415.23 184.53 L418.17 187.47M416.7 183.4 L416.7 188.6M418.17 184.53 L415.23 187.47" stroke="#1e48ea" stroke-width="0.9" opacity="0.5" fill="none"/>
<path d="M414.47 189 L419.68 189M415.6 187.53 L418.55 190.47M417.07 186.4 L417.07 191.6M418.55 187.53 L415.6 190.47" stroke="#1e48ea" stroke-width="0.9" opacity="0.5" fill="none"/>
<path d="M414.89 192 L420.09 192M416.02 190.53 L418.96 193.47M417.49 189.4 L417.49 194.6M418.96 190.53 L416.02 193.47" stroke="#1e48ea" stroke-width="0.9" opacity="0.5" fill="none"/>
<path d="M415.3 195 L420.5 195M416.43 193.53 L419.37 196.47M417.9 192.4 L417.9 197.6M419.37 193.53 L416.43 196.47" stroke="#1e48ea" stroke-width="0.9" opacity="0.5" fill="none"/>
<path d="M415.71 198 L420.91 198M416.84 196.53 L419.78 199.47M418.31 195.4 L418.31 200.6M419.78 196.53 L416.84 199.47" stroke="#1e48ea" stroke-width="0.9" opacity="0.5" fill="none"/>
<path d="M412.11 168.87L412.22 169.98L412.35 171.41L412.51 173.11L412.68 175.02L412.88 177.07L413.08 179.21L413.29 181.36L413.5 183.48L413.71 185.49L413.92 187.33L414.12 189.06L414.33 190.79L414.53 192.51L414.75 194.21L414.96 195.88L415.19 197.52L415.41 199.11L415.65 200.65L415.9 202.13L416.15 203.54L416.41 204.86L416.67 206.11L416.94 207.3L417.22 208.43L417.5 209.51L417.8 210.55L418.1 211.56L418.42 212.53L418.74 213.48L419.09 214.42L419.44 215.34L419.81 216.24L420.2 217.11L420.59 217.95L421.01 218.77L421.44 219.55L421.88 220.31L422.34 221.04L422.82 221.73L423.33 222.4L423.86 223.04L424.42 223.64L425 224.19L425.58 224.69L426.17 225.14L426.76 225.56L427.36 225.94L427.95 226.28L428.53 226.6L429.13 226.91L429.78 227.21L430.47 227.48L431.15 227.71L431.81 227.91L432.47 228.08L433.12 228.22L433.75 228.35L434.36 228.46L434.95 228.56L435.55 228.66L436.21 228.76L436.92 228.84L437.63 228.9L438.33 228.95L439 228.99L439.64 229.02L440.22 229.04L440.72 229.06L441.13 229.08L441.44 229.1L441.76 223.3L441.41 223.28L440.95 223.27L440.44 223.25L439.89 223.22L439.3 223.2L438.69 223.16L438.08 223.12L437.5 223.07L436.96 223.01L436.45 222.94L435.93 222.85L435.38 222.75L434.84 222.65L434.33 222.55L433.83 222.44L433.35 222.31L432.9 222.18L432.47 222.04L432.07 221.88L431.67 221.69L431.24 221.47L430.8 221.23L430.38 220.99L429.98 220.73L429.6 220.47L429.24 220.19L428.89 219.89L428.54 219.56L428.21 219.2L427.87 218.8L427.53 218.34L427.18 217.83L426.83 217.29L426.48 216.7L426.14 216.07L425.81 215.4L425.47 214.7L425.15 213.96L424.83 213.19L424.51 212.38L424.21 211.55L423.92 210.7L423.64 209.82L423.36 208.93L423.1 207.99L422.84 207.01L422.59 205.97L422.34 204.87L422.09 203.7L421.85 202.46L421.61 201.14L421.38 199.74L421.15 198.26L420.93 196.72L420.71 195.12L420.5 193.48L420.29 191.8L420.08 190.1L419.88 188.38L419.68 186.67L419.48 184.86L419.27 182.88L419.06 180.79L418.85 178.65L418.65 176.53L418.46 174.48L418.28 172.58L418.13 170.87L417.99 169.43L417.89 168.33Z" fill="#1e48ea" opacity="0.35" stroke="none"/><circle cx="441.6" cy="226.2" r="2.9" fill="#1e48ea" opacity="0.35"/>
<path d="M413.01 168.79L413.11 169.89L413.25 171.32L413.4 173.03L413.58 174.94L413.77 176.99L413.97 179.12L414.18 181.27L414.4 183.38L414.61 185.39L414.81 187.23L415.01 188.96L415.22 190.68L415.43 192.4L415.64 194.09L415.85 195.76L416.08 197.4L416.31 198.98L416.54 200.51L416.78 201.98L417.03 203.37L417.29 204.68L417.55 205.92L417.82 207.09L418.09 208.21L418.37 209.28L418.66 210.3L418.96 211.29L419.27 212.25L419.59 213.18L419.93 214.1L420.28 215.01L420.64 215.89L421.02 216.74L421.4 217.56L421.8 218.35L422.22 219.11L422.65 219.84L423.09 220.54L423.55 221.21L424.03 221.84L424.54 222.45L425.06 223.01L425.6 223.52L426.15 223.99L426.7 224.42L427.26 224.81L427.83 225.17L428.39 225.5L428.95 225.8L429.52 226.1L430.14 226.38L430.78 226.64L431.42 226.85L432.05 227.04L432.68 227.2L433.3 227.34L433.92 227.46L434.51 227.57L435.1 227.68L435.69 227.78L436.33 227.87L437.01 227.95L437.7 228.01L438.38 228.05L439.05 228.09L439.68 228.12L440.25 228.14L440.76 228.16L441.17 228.18L441.49 228.2L441.71 224.2L441.36 224.18L440.92 224.16L440.41 224.15L439.85 224.12L439.25 224.1L438.63 224.06L438.01 224.02L437.41 223.97L436.84 223.9L436.31 223.82L435.77 223.73L435.22 223.64L434.67 223.54L434.14 223.43L433.62 223.31L433.11 223.18L432.63 223.04L432.16 222.88L431.72 222.71L431.28 222.5L430.82 222.27L430.36 222.02L429.91 221.76L429.48 221.48L429.07 221.19L428.67 220.89L428.28 220.55L427.9 220.19L427.53 219.8L427.17 219.36L426.8 218.87L426.43 218.33L426.06 217.76L425.7 217.14L425.35 216.49L425 215.8L424.65 215.08L424.32 214.32L423.99 213.52L423.67 212.7L423.36 211.85L423.06 210.98L422.78 210.09L422.5 209.18L422.23 208.22L421.97 207.23L421.71 206.18L421.46 205.06L421.21 203.88L420.97 202.63L420.72 201.3L420.49 199.88L420.26 198.39L420.04 196.84L419.82 195.24L419.61 193.59L419.4 191.91L419.19 190.21L418.99 188.49L418.79 186.77L418.58 184.96L418.38 182.97L418.16 180.88L417.96 178.74L417.75 176.61L417.56 174.57L417.39 172.66L417.23 170.96L417.1 169.52L416.99 168.41Z" fill="#1e48ea" opacity="1.0" stroke="none"/><circle cx="441.6" cy="226.2" r="2" fill="#1e48ea" opacity="1.0"/>
<path d="M415 168.6C415.3 171.67 416.13 181.27 416.8 187C417.47 192.73 418.17 198.6 419 203C419.83 207.4 420.7 210.47 421.8 213.4C422.9 216.33 424.17 218.78 425.6 220.6C427.03 222.42 428.67 223.43 430.4 224.3C432.13 225.17 434.13 225.48 436 225.8C437.87 226.12 440.67 226.13 441.6 226.2" stroke="#0818ac" stroke-width="1.3" stroke-linecap="butt" stroke-linejoin="round" fill="none"/>
<path d="M445.8 168.6C445.88 171.33 446.22 182.27 446.3 185" stroke="#12e4ff" stroke-width="3.4" stroke-linecap="butt" fill="none" opacity="0.25"/>
<path d="M443.36 174 L448.56 174M444.49 172.53 L447.44 175.47M445.96 171.4 L445.96 176.6M447.44 172.53 L444.49 175.47" stroke="#12e4ff" stroke-width="0.9" opacity="0.6" fill="none"/>
<path d="M443.58 181 L448.78 181M444.71 179.53 L447.65 182.47M446.18 178.4 L446.18 183.6M447.65 179.53 L444.71 182.47" stroke="#12e4ff" stroke-width="0.9" opacity="0.6" fill="none"/>
<path d="M443.79 186.95 L448.99 186.95M444.92 185.48 L447.86 188.42M446.39 184.35 L446.39 189.55M447.86 185.48 L444.92 188.42" stroke="#12e4ff" stroke-width="0.9" opacity="0.6" fill="none"/>
<path d="M444.02 192.01 L449.22 192.01M445.14 190.54 L448.09 193.48M446.62 189.41 L446.62 194.61M448.09 190.54 L445.14 193.48" stroke="#12e4ff" stroke-width="0.9" opacity="0.6" fill="none"/>
<path d="M444.21 196.31 L449.41 196.31M445.34 194.84 L448.28 197.78M446.81 193.71 L446.81 198.91M448.28 194.84 L445.34 197.78" stroke="#12e4ff" stroke-width="0.9" opacity="0.6" fill="none"/>
<path d="M444.37 199.96 L449.57 199.96M445.5 198.49 L448.44 201.43M446.97 197.36 L446.97 202.56M448.44 198.49 L445.5 201.43" stroke="#12e4ff" stroke-width="0.9" opacity="0.6" fill="none"/>
<path d="M445.15 168.62L445.17 169.58L445.21 170.79L445.24 172.22L445.28 173.83L445.31 175.57L445.35 177.41L445.39 179.32L445.43 181.25L445.49 183.17L445.55 185.03L445.61 186.93L445.66 188.97L445.67 191.11L445.65 193.31L445.59 195.51L445.47 197.68L445.31 199.79L445.12 201.78L444.93 203.62L444.78 205.29L444.69 206.75L444.69 208.06L444.77 209.23L444.95 210.29L445.19 211.25L445.48 212.13L445.8 212.93L446.13 213.68L446.45 214.4L446.79 215.16L447.16 215.97L447.55 216.81L447.97 217.65L448.42 218.49L448.89 219.32L449.41 220.14L449.97 220.95L450.57 221.74L451.23 222.5L451.96 223.22L452.75 223.9L453.58 224.51L454.43 225.04L455.28 225.52L456.14 225.94L456.98 226.33L457.81 226.67L458.61 226.98L459.38 227.26L460.15 227.53L460.96 227.79L461.8 228.01L462.61 228.19L463.4 228.34L464.17 228.45L464.9 228.55L465.61 228.64L466.29 228.71L466.94 228.79L467.58 228.87L468.29 228.96L469.06 229.05L469.83 229.13L470.6 229.2L471.35 229.26L472.05 229.32L472.7 229.37L473.27 229.42L473.75 229.46L474.11 229.49L474.69 222.91L474.3 222.88L473.8 222.84L473.22 222.79L472.59 222.74L471.9 222.69L471.19 222.63L470.47 222.56L469.76 222.49L469.08 222.41L468.42 222.33L467.74 222.24L467.05 222.16L466.38 222.08L465.73 222L465.11 221.92L464.5 221.83L463.92 221.72L463.36 221.6L462.82 221.45L462.25 221.27L461.61 221.05L460.93 220.8L460.26 220.54L459.6 220.27L458.96 219.98L458.36 219.68L457.8 219.37L457.29 219.05L456.84 218.72L456.44 218.38L456.06 218L455.68 217.56L455.3 217.06L454.92 216.52L454.56 215.93L454.2 215.3L453.84 214.63L453.49 213.93L453.15 213.21L452.81 212.44L452.47 211.68L452.15 210.99L451.87 210.36L451.61 209.76L451.37 209.17L451.11 208.53L450.82 207.81L450.48 206.95L450.08 205.93L449.62 204.71L449.15 203.25L448.69 201.54L448.27 199.63L447.92 197.58L447.65 195.44L447.44 193.25L447.3 191.07L447.2 188.93L447.12 186.88L447.05 184.97L446.97 183.11L446.9 181.2L446.82 179.28L446.75 177.37L446.68 175.53L446.61 173.79L446.56 172.18L446.52 170.75L446.48 169.54L446.45 168.58Z" fill="#12e4ff" opacity="0.35" stroke="none"/><circle cx="474.4" cy="226.2" r="3.3" fill="#12e4ff" opacity="0.35"/>
<path d="M445.32 168.61L445.35 169.57L445.38 170.79L445.42 172.21L445.46 173.82L445.5 175.56L445.54 177.41L445.58 179.32L445.63 181.24L445.69 183.16L445.76 185.02L445.82 186.92L445.87 188.97L445.9 191.1L445.9 193.3L445.87 195.5L445.81 197.67L445.72 199.76L445.61 201.75L445.51 203.57L445.44 205.21L445.43 206.64L445.48 207.91L445.6 209.04L445.79 210.05L446.04 210.97L446.32 211.81L446.63 212.58L446.95 213.31L447.27 214.03L447.61 214.79L447.98 215.59L448.36 216.41L448.77 217.24L449.2 218.05L449.67 218.86L450.16 219.65L450.69 220.42L451.27 221.17L451.89 221.88L452.57 222.56L453.31 223.19L454.09 223.76L454.89 224.27L455.7 224.72L456.52 225.13L457.34 225.5L458.14 225.83L458.93 226.14L459.69 226.41L460.44 226.68L461.22 226.92L462.01 227.14L462.79 227.31L463.55 227.45L464.29 227.56L465.02 227.66L465.72 227.74L466.39 227.82L467.05 227.9L467.7 227.98L468.4 228.07L469.15 228.15L469.92 228.23L470.68 228.3L471.42 228.37L472.13 228.42L472.77 228.48L473.35 228.52L473.82 228.56L474.19 228.59L474.61 223.81L474.22 223.78L473.73 223.74L473.15 223.69L472.51 223.64L471.83 223.58L471.11 223.52L470.38 223.45L469.66 223.38L468.97 223.3L468.3 223.22L467.63 223.13L466.94 223.05L466.28 222.98L465.62 222.9L464.98 222.81L464.35 222.72L463.74 222.6L463.15 222.47L462.56 222.32L461.96 222.12L461.31 221.89L460.61 221.64L459.92 221.37L459.24 221.09L458.58 220.79L457.94 220.48L457.34 220.14L456.79 219.79L456.28 219.42L455.83 219.04L455.4 218.61L454.98 218.13L454.57 217.59L454.17 217.01L453.78 216.39L453.41 215.73L453.04 215.04L452.68 214.32L452.34 213.58L451.99 212.81L451.65 212.05L451.33 211.36L451.04 210.71L450.78 210.09L450.53 209.46L450.27 208.77L450 208L449.69 207.1L449.34 206.04L448.96 204.79L448.57 203.3L448.2 201.57L447.87 199.65L447.59 197.6L447.37 195.45L447.2 193.26L447.08 191.07L446.99 188.93L446.91 186.89L446.84 184.98L446.77 183.12L446.7 181.21L446.63 179.28L446.56 177.38L446.49 175.54L446.43 173.79L446.38 172.19L446.34 170.76L446.3 169.55L446.28 168.59Z" fill="#12e4ff" opacity="1.0" stroke="none"/><circle cx="474.4" cy="226.2" r="2.4" fill="#12e4ff" opacity="1.0"/>
<path d="M445.8 168.6C445.88 171.33 446.07 178.93 446.3 185C446.53 191.07 446.62 200.2 447.2 205C447.78 209.8 448.63 211.17 449.8 213.8C450.97 216.43 452.3 219.03 454.2 220.8C456.1 222.57 458.9 223.6 461.2 224.4C463.5 225.2 465.8 225.3 468 225.6C470.2 225.9 473.33 226.1 474.4 226.2" stroke="#0f5cff" stroke-width="1.7" stroke-linecap="butt" stroke-linejoin="round" fill="none"/>
<path d="M476.7 168.6C476.78 171.33 477 178.93 477.2 185C477.4 191.07 477.78 201.67 477.9 205" stroke="#c8ff28" stroke-width="3.2" stroke-linecap="butt" fill="none" opacity="0.12"/>
<path d="M474.26 174 L479.46 174M475.39 172.53 L478.34 175.47M476.86 171.4 L476.86 176.6M478.34 172.53 L475.39 175.47" stroke="#c8ff28" stroke-width="0.9" opacity="0.45" fill="none"/>
<path d="M474.48 181 L479.68 181M475.61 179.53 L478.55 182.47M477.08 178.4 L477.08 183.6M478.55 179.53 L475.61 182.47" stroke="#c8ff28" stroke-width="0.9" opacity="0.45" fill="none"/>
<path d="M474.67 186.95 L479.87 186.95M475.8 185.48 L478.74 188.42M477.27 184.35 L477.27 189.55M478.74 185.48 L475.8 188.42" stroke="#c8ff28" stroke-width="0.9" opacity="0.45" fill="none"/>
<path d="M474.85 192.01 L480.05 192.01M475.97 190.54 L478.92 193.48M477.45 189.41 L477.45 194.61M478.92 190.54 L475.97 193.48" stroke="#c8ff28" stroke-width="0.9" opacity="0.45" fill="none"/>
<path d="M475 196.31 L480.2 196.31M476.12 194.84 L479.07 197.78M477.6 193.71 L477.6 198.91M479.07 194.84 L476.12 197.78" stroke="#c8ff28" stroke-width="0.9" opacity="0.45" fill="none"/>
<path d="M475.12 199.96 L480.32 199.96M476.25 198.49 L479.19 201.43M477.72 197.36 L477.72 202.56M479.19 198.49 L476.25 201.43" stroke="#c8ff28" stroke-width="0.9" opacity="0.45" fill="none"/>
<path d="M475.23 203.07 L480.43 203.07M476.36 201.6 L479.3 204.54M477.83 200.47 L477.83 205.67M479.3 201.6 L476.36 204.54" stroke="#c8ff28" stroke-width="0.9" opacity="0.45" fill="none"/>
<path d="M476.18 168.62L476.21 169.58L476.25 170.79L476.29 172.22L476.33 173.82L476.38 175.57L476.44 177.41L476.49 179.31L476.56 181.24L476.63 183.16L476.7 185.02L476.76 186.92L476.82 188.96L476.86 191.1L476.87 193.29L476.86 195.49L476.82 197.66L476.74 199.74L476.63 201.71L476.5 203.52L476.35 205.13L476.21 206.53L476.07 207.77L475.98 208.88L475.96 209.89L476 210.8L476.1 211.65L476.27 212.45L476.47 213.21L476.7 213.95L476.96 214.73L477.23 215.55L477.53 216.38L477.85 217.21L478.19 218.04L478.56 218.86L478.96 219.68L479.41 220.48L479.9 221.26L480.44 222.02L481.05 222.75L481.72 223.43L482.43 224.03L483.15 224.57L483.89 225.05L484.64 225.48L485.38 225.87L486.12 226.21L486.84 226.53L487.55 226.82L488.25 227.1L488.98 227.38L489.73 227.63L490.48 227.86L491.24 228.06L492.01 228.24L492.79 228.4L493.58 228.55L494.39 228.67L495.23 228.78L496.11 228.89L497.1 228.97L498.19 229.03L499.32 229.07L500.48 229.09L501.63 229.1L502.73 229.1L503.76 229.1L504.66 229.1L505.41 229.09L505.97 229.1L506.03 223.3L505.43 223.29L504.65 223.3L503.74 223.3L502.73 223.3L501.66 223.3L500.56 223.29L499.47 223.27L498.44 223.24L497.5 223.18L496.69 223.11L495.94 223.03L495.22 222.93L494.53 222.83L493.88 222.71L493.26 222.58L492.66 222.44L492.07 222.28L491.5 222.11L490.93 221.92L490.35 221.7L489.73 221.45L489.11 221.19L488.51 220.93L487.95 220.67L487.41 220.39L486.92 220.11L486.46 219.81L486.05 219.51L485.68 219.19L485.35 218.85L485.03 218.47L484.71 218.03L484.4 217.53L484.1 216.98L483.8 216.39L483.52 215.75L483.24 215.07L482.97 214.36L482.71 213.63L482.44 212.87L482.19 212.13L481.96 211.46L481.73 210.84L481.5 210.24L481.25 209.62L480.96 208.94L480.63 208.16L480.25 207.24L479.85 206.15L479.45 204.87L479.07 203.36L478.74 201.61L478.46 199.68L478.24 197.61L478.08 195.46L477.95 193.27L477.87 191.08L477.8 188.94L477.75 186.89L477.7 184.98L477.65 183.12L477.6 181.21L477.54 179.28L477.49 177.38L477.43 175.53L477.38 173.79L477.33 172.19L477.28 170.76L477.25 169.54L477.22 168.58Z" fill="#c8ff28" opacity="0.35" stroke="none"/><circle cx="506" cy="226.2" r="2.9" fill="#c8ff28" opacity="0.35"/>
<path d="M476.34 168.61L476.37 169.57L476.41 170.78L476.45 172.21L476.49 173.82L476.55 175.56L476.6 177.4L476.66 179.31L476.72 181.24L476.78 183.15L476.85 185.01L476.92 186.91L476.97 188.96L477.01 191.1L477.04 193.29L477.05 195.49L477.04 197.65L477.01 199.73L476.96 201.69L476.9 203.49L476.83 205.09L476.77 206.47L476.72 207.69L476.7 208.77L476.73 209.74L476.81 210.62L476.94 211.44L477.12 212.2L477.32 212.94L477.55 213.67L477.81 214.44L478.08 215.25L478.37 216.06L478.68 216.88L479.02 217.68L479.37 218.48L479.76 219.26L480.18 220.02L480.65 220.76L481.16 221.47L481.72 222.14L482.33 222.77L482.99 223.33L483.67 223.84L484.36 224.29L485.07 224.69L485.78 225.06L486.49 225.4L487.19 225.7L487.89 225.99L488.58 226.27L489.29 226.53L490 226.77L490.73 226.99L491.46 227.19L492.2 227.37L492.95 227.52L493.73 227.66L494.52 227.78L495.34 227.89L496.2 227.99L497.16 228.07L498.23 228.13L499.35 228.17L500.49 228.19L501.63 228.2L502.73 228.2L503.75 228.2L504.66 228.2L505.41 228.19L505.98 228.2L506.02 224.2L505.42 224.19L504.65 224.2L503.74 224.2L502.73 224.2L501.65 224.2L500.55 224.19L499.45 224.17L498.4 224.13L497.44 224.08L496.6 224.01L495.83 223.92L495.09 223.82L494.38 223.71L493.71 223.59L493.06 223.46L492.44 223.31L491.83 223.15L491.23 222.97L490.63 222.76L490.02 222.53L489.39 222.28L488.76 222.02L488.14 221.75L487.55 221.47L486.98 221.18L486.45 220.87L485.95 220.55L485.49 220.21L485.07 219.85L484.68 219.46L484.32 219.02L483.97 218.53L483.63 217.99L483.3 217.4L482.99 216.77L482.69 216.1L482.4 215.4L482.13 214.68L481.86 213.93L481.59 213.16L481.34 212.42L481.1 211.73L480.88 211.09L480.67 210.46L480.44 209.8L480.19 209.09L479.91 208.27L479.6 207.32L479.28 206.21L478.97 204.91L478.67 203.38L478.41 201.62L478.2 199.69L478.02 197.62L477.89 195.46L477.79 193.27L477.71 191.08L477.65 188.94L477.6 186.9L477.55 184.99L477.49 183.13L477.44 181.22L477.38 179.29L477.32 177.38L477.27 175.54L477.21 173.8L477.17 172.19L477.12 170.76L477.09 169.55L477.06 168.59Z" fill="#c8ff28" opacity="1.0" stroke="none"/><circle cx="506" cy="226.2" r="2" fill="#c8ff28" opacity="1.0"/>
<path d="M476.7 168.6C476.78 171.33 477 178.93 477.2 185C477.4 191.07 477.48 200.2 477.9 205C478.32 209.8 478.82 211.17 479.7 213.8C480.58 216.43 481.6 219.03 483.2 220.8C484.8 222.57 487.1 223.53 489.3 224.4C491.5 225.27 493.62 225.7 496.4 226C499.18 226.3 504.4 226.17 506 226.2" stroke="#08ead8" stroke-width="1.7" stroke-linecap="butt" stroke-linejoin="round" fill="none"/>
<path d="M413.2 178.8C413.42 181 414.28 189.8 414.5 192" stroke="#be1a18" stroke-width="3.4" stroke-linecap="butt" fill="none" opacity="0.28"/>
<path d="M410.31 179.07L410.39 179.86L410.48 180.88L410.58 182.11L410.7 183.49L410.84 184.98L410.98 186.52L411.13 188.08L411.29 189.6L411.46 191.06L411.63 192.39L411.8 193.63L411.99 194.84L412.19 196.02L412.4 197.17L412.61 198.3L412.82 199.41L413.03 200.48L413.25 201.54L413.45 202.56L413.66 203.56L413.85 204.54L414.03 205.52L414.21 206.48L414.4 207.45L414.58 208.4L414.78 209.34L414.99 210.27L415.22 211.19L415.48 212.08L415.76 212.95L416.06 213.77L416.38 214.55L416.71 215.3L417.06 216.01L417.43 216.7L417.81 217.36L418.21 217.99L418.63 218.58L419.06 219.15L419.51 219.7L419.98 220.22L420.47 220.7L420.98 221.15L421.51 221.56L422.05 221.93L422.6 222.26L423.15 222.56L423.71 222.83L424.28 223.07L424.87 223.31L425.51 223.54L426.18 223.74L426.84 223.92L427.52 224.07L428.2 224.2L428.88 224.32L429.57 224.42L430.26 224.51L430.96 224.6L431.66 224.68L432.28 224.75L432.78 224.81L433.25 224.87L433.76 224.92L434.33 224.96L435.01 225L435.84 225.03L436.9 225.05L438.25 225.08L439.96 225.1L442.08 225.12L444.57 225.15L447.37 225.16L450.4 225.18L453.62 225.19L456.94 225.2L460.3 225.21L463.65 225.21L466.91 225.21L470.01 225.2L473.02 225.19L476.03 225.17L479.04 225.14L482.06 225.11L485.07 225.08L488.08 225.05L491.08 225.01L494.07 224.97L497.06 224.94L500.04 224.9L503.13 224.86L506.43 224.82L509.83 224.77L513.25 224.73L516.62 224.68L519.83 224.64L522.8 224.59L525.45 224.56L527.69 224.52L529.44 224.5L529.36 218.7L527.61 218.72L525.37 218.76L522.72 218.79L519.74 218.84L516.53 218.88L513.17 218.93L509.75 218.98L506.35 219.02L503.06 219.06L499.96 219.1L496.99 219.14L494 219.17L491.01 219.21L488.01 219.25L485.01 219.28L482 219.31L478.99 219.34L475.99 219.37L472.99 219.39L469.99 219.4L466.9 219.41L463.65 219.41L460.31 219.41L456.95 219.4L453.63 219.39L450.43 219.38L447.4 219.36L444.61 219.35L442.14 219.32L440.04 219.3L438.35 219.28L437.02 219.25L436.01 219.23L435.24 219.2L434.68 219.17L434.25 219.14L433.88 219.11L433.48 219.06L432.97 218.99L432.34 218.92L431.65 218.84L431 218.76L430.37 218.68L429.79 218.59L429.23 218.5L428.71 218.4L428.22 218.29L427.76 218.17L427.34 218.04L426.93 217.89L426.52 217.72L426.13 217.55L425.78 217.39L425.47 217.22L425.19 217.05L424.92 216.87L424.67 216.67L424.42 216.45L424.16 216.2L423.89 215.9L423.61 215.56L423.33 215.18L423.04 214.78L422.77 214.34L422.49 213.87L422.23 213.37L421.97 212.84L421.72 212.28L421.47 211.68L421.24 211.05L421.03 210.39L420.82 209.69L420.63 208.92L420.45 208.11L420.27 207.25L420.09 206.35L419.91 205.41L419.73 204.44L419.54 203.45L419.34 202.44L419.14 201.42L418.93 200.39L418.72 199.35L418.51 198.29L418.31 197.22L418.1 196.13L417.91 195.03L417.72 193.91L417.54 192.77L417.37 191.61L417.22 190.36L417.06 188.98L416.9 187.49L416.75 185.97L416.61 184.45L416.48 182.98L416.36 181.61L416.25 180.38L416.16 179.33L416.09 178.53Z" fill="#c8201c" opacity="0.4" stroke="none"/><circle cx="529.4" cy="221.6" r="2.9" fill="#c8201c" opacity="0.4"/>
<path d="M411.06 179L411.13 179.79L411.22 180.82L411.33 182.05L411.45 183.42L411.58 184.91L411.73 186.45L411.88 188L412.04 189.52L412.2 190.97L412.37 192.29L412.55 193.52L412.73 194.72L412.93 195.89L413.13 197.04L413.34 198.16L413.56 199.26L413.77 200.34L413.98 201.39L414.19 202.42L414.39 203.42L414.58 204.4L414.77 205.38L414.95 206.35L415.13 207.31L415.32 208.25L415.51 209.18L415.72 210.1L415.95 210.99L416.19 211.87L416.47 212.71L416.76 213.5L417.07 214.26L417.39 214.98L417.73 215.67L418.09 216.34L418.45 216.97L418.84 217.57L419.24 218.14L419.65 218.69L420.07 219.21L420.52 219.7L420.98 220.15L421.46 220.57L421.95 220.95L422.46 221.3L422.97 221.61L423.49 221.89L424.03 222.14L424.57 222.38L425.14 222.61L425.75 222.83L426.38 223.02L427.02 223.19L427.67 223.34L428.33 223.47L429 223.58L429.67 223.68L430.36 223.77L431.05 223.85L431.75 223.94L432.37 224.01L432.87 224.07L433.33 224.13L433.82 224.17L434.38 224.21L435.04 224.25L435.86 224.28L436.92 224.3L438.27 224.33L439.97 224.35L442.09 224.37L444.58 224.4L447.37 224.41L450.41 224.43L453.62 224.44L456.94 224.45L460.3 224.46L463.65 224.46L466.9 224.46L470.01 224.45L473.01 224.44L476.03 224.42L479.04 224.39L482.05 224.36L485.06 224.33L488.07 224.3L491.07 224.26L494.07 224.22L497.05 224.19L500.03 224.15L503.12 224.11L506.42 224.07L509.82 224.02L513.24 223.98L516.61 223.93L519.82 223.89L522.79 223.84L525.44 223.81L527.68 223.77L529.43 223.75L529.37 219.45L527.62 219.47L525.38 219.51L522.73 219.54L519.76 219.59L516.54 219.63L513.18 219.68L509.76 219.72L506.36 219.77L503.07 219.81L499.97 219.85L497 219.89L494.01 219.92L491.02 219.96L488.02 220L485.01 220.03L482.01 220.06L479 220.09L475.99 220.12L472.99 220.14L469.99 220.15L466.9 220.16L463.65 220.16L460.31 220.16L456.95 220.15L453.63 220.14L450.43 220.13L447.4 220.11L444.61 220.1L442.13 220.07L440.03 220.05L438.33 220.03L437.01 220L435.98 219.98L435.21 219.95L434.64 219.92L434.19 219.89L433.8 219.85L433.39 219.8L432.88 219.74L432.25 219.66L431.56 219.58L430.9 219.5L430.27 219.42L429.67 219.33L429.1 219.23L428.55 219.13L428.04 219.01L427.56 218.89L427.1 218.75L426.66 218.59L426.23 218.42L425.82 218.24L425.44 218.06L425.1 217.87L424.78 217.68L424.48 217.47L424.19 217.25L423.91 217L423.62 216.72L423.33 216.39L423.02 216.02L422.72 215.62L422.42 215.19L422.13 214.73L421.84 214.24L421.56 213.72L421.29 213.16L421.03 212.57L420.77 211.95L420.53 211.29L420.31 210.61L420.1 209.88L419.9 209.1L419.71 208.27L419.53 207.4L419.35 206.49L419.17 205.55L418.99 204.58L418.81 203.59L418.61 202.58L418.4 201.57L418.2 200.54L417.99 199.49L417.78 198.44L417.57 197.36L417.36 196.27L417.17 195.16L416.98 194.03L416.8 192.88L416.63 191.71L416.47 190.45L416.31 189.06L416.16 187.57L416.01 186.04L415.87 184.52L415.73 183.05L415.61 181.67L415.51 180.44L415.42 179.4L415.34 178.6Z" fill="#be1a18" opacity="0.9" stroke="none"/><circle cx="529.4" cy="221.6" r="2.15" fill="#be1a18" opacity="0.9"/>
<path d="M413.2 178.8C413.42 181 413.95 187.97 414.5 192C415.05 196.03 415.83 199.67 416.5 203C417.17 206.33 417.63 209.53 418.5 212C419.37 214.47 420.47 216.37 421.7 217.8C422.93 219.23 424.18 219.93 425.9 220.6C427.62 221.27 429.65 221.53 432 221.8C434.35 222.07 433.67 222.12 440 222.2C446.33 222.28 460 222.33 470 222.3C480 222.27 490.1 222.12 500 222C509.9 221.88 524.5 221.67 529.4 221.6" stroke="#ff4210" stroke-width="1.6" stroke-linecap="butt" stroke-linejoin="round" fill="none"/>
<path d="M409.7 170.5 L414.9 170.5M410.83 169.03 L413.77 171.97M412.3 167.9 L412.3 173.1M413.77 169.03 L410.83 171.97" stroke="#e03030" stroke-width="0.9" opacity="0.45" fill="none"/><path d="M409.8 173.5 L415 173.5M410.93 172.03 L413.87 174.97M412.4 170.9 L412.4 176.1M413.87 172.03 L410.93 174.97" stroke="#e03030" stroke-width="0.9" opacity="0.45" fill="none"/><path d="M410 176.5 L415.2 176.5M411.13 175.03 L414.07 177.97M412.6 173.9 L412.6 179.1M414.07 175.03 L411.13 177.97" stroke="#e03030" stroke-width="0.9" opacity="0.45" fill="none"/><path d="M409 181 L414.2 181M410.13 179.53 L413.07 182.47M411.6 178.4 L411.6 183.6M413.07 179.53 L410.13 182.47" stroke="#e03030" stroke-width="0.9" opacity="0.45" fill="none"/><path d="M409.3 185 L414.5 185M410.43 183.53 L413.37 186.47M411.9 182.4 L411.9 187.6M413.37 183.53 L410.43 186.47" stroke="#e03030" stroke-width="0.9" opacity="0.45" fill="none"/><path d="M409.8 189 L415 189M410.93 187.53 L413.87 190.47M412.4 186.4 L412.4 191.6M413.87 187.53 L410.93 190.47" stroke="#e03030" stroke-width="0.9" opacity="0.45" fill="none"/><path d="M410.4 193 L415.6 193M411.53 191.53 L414.47 194.47M413 190.4 L413 195.6M414.47 191.53 L411.53 194.47" stroke="#e03030" stroke-width="0.9" opacity="0.45" fill="none"/>
<path d="M508 220.1 L530 219.9" stroke="#d02a50" stroke-width="1.4" stroke-linecap="round" fill="none"/>
<path d="M509.2 168.6C509.32 171.33 509.63 178.93 509.9 185C510.17 191.07 510.65 201.67 510.8 205" stroke="#ff6a00" stroke-width="3.4" stroke-linecap="butt" fill="none" opacity="0.12"/>
<path d="M506.75 172 L511.95 172M507.87 170.53 L510.82 173.47M509.35 169.4 L509.35 174.6M510.82 170.53 L507.87 173.47" stroke="#ff6a00" stroke-width="0.9" opacity="0.45" fill="none"/>
<path d="M506.92 176 L512.12 176M508.05 174.53 L510.99 177.47M509.52 173.4 L509.52 178.6M510.99 174.53 L508.05 177.47" stroke="#ff6a00" stroke-width="0.9" opacity="0.45" fill="none"/>
<path d="M507.08 179.88 L512.28 179.88M508.21 178.41 L511.15 181.35M509.68 177.28 L509.68 182.48M511.15 178.41 L508.21 181.35" stroke="#ff6a00" stroke-width="0.9" opacity="0.45" fill="none"/>
<path d="M507.24 183.64 L512.44 183.64M508.37 182.17 L511.31 185.11M509.84 181.04 L509.84 186.24M511.31 182.17 L508.37 185.11" stroke="#ff6a00" stroke-width="0.9" opacity="0.45" fill="none"/>
<path d="M507.4 187.29 L512.6 187.29M508.53 185.82 L511.47 188.77M510 184.69 L510 189.89M511.47 185.82 L508.53 188.77" stroke="#ff6a00" stroke-width="0.9" opacity="0.45" fill="none"/>
<path d="M507.56 190.84 L512.76 190.84M508.69 189.36 L511.63 192.31M510.16 188.24 L510.16 193.44M511.63 189.36 L508.69 192.31" stroke="#ff6a00" stroke-width="0.9" opacity="0.45" fill="none"/>
<path d="M507.72 194.27 L512.92 194.27M508.85 192.8 L511.79 195.74M510.32 191.67 L510.32 196.87M511.79 192.8 L508.85 195.74" stroke="#ff6a00" stroke-width="0.9" opacity="0.45" fill="none"/>
<path d="M507.87 197.6 L513.07 197.6M509 196.13 L511.94 199.07M510.47 195 L510.47 200.2M511.94 196.13 L509 199.07" stroke="#ff6a00" stroke-width="0.9" opacity="0.45" fill="none"/>
<path d="M508.01 200.83 L513.21 200.83M509.14 199.36 L512.08 202.31M510.61 198.23 L510.61 203.43M512.08 199.36 L509.14 202.31" stroke="#ff6a00" stroke-width="0.9" opacity="0.45" fill="none"/>
<path d="M508.15 203.97 L513.35 203.97M509.28 202.5 L512.22 205.44M510.75 201.37 L510.75 206.57M512.22 202.5 L509.28 205.44" stroke="#ff6a00" stroke-width="0.9" opacity="0.45" fill="none"/>
<path d="M508.44 168.63L508.48 169.59L508.53 170.8L508.59 172.23L508.66 173.84L508.73 175.58L508.81 177.43L508.9 179.33L508.99 181.26L509.09 183.17L509.19 185.03L509.29 186.93L509.37 188.97L509.43 191.11L509.46 193.3L509.45 195.5L509.4 197.67L509.3 199.76L509.17 201.74L509.02 203.57L508.87 205.2L508.76 206.64L508.7 207.93L508.71 209.08L508.81 210.11L508.97 211.04L509.19 211.87L509.42 212.64L509.67 213.35L509.91 214.03L510.16 214.75L510.41 215.53L510.67 216.32L510.94 217.12L511.23 217.93L511.54 218.73L511.87 219.53L512.23 220.32L512.64 221.1L513.09 221.87L513.59 222.59L514.1 223.23L514.63 223.82L515.18 224.38L515.77 224.9L516.39 225.37L517.04 225.81L517.72 226.2L518.43 226.56L519.16 226.89L519.93 227.2L520.75 227.5L521.6 227.77L522.48 228.01L523.39 228.22L524.33 228.42L525.3 228.59L526.3 228.74L527.35 228.87L528.43 228.99L529.57 229.09L530.86 229.17L532.29 229.22L533.82 229.25L535.39 229.26L536.97 229.26L538.49 229.24L539.91 229.23L541.17 229.21L542.21 229.2L543 229.2L543 223.2L542.18 223.2L541.1 223.21L539.84 223.23L538.43 223.24L536.93 223.26L535.4 223.26L533.89 223.25L532.45 223.23L531.15 223.18L530.03 223.11L529.02 223.02L528.05 222.91L527.13 222.8L526.26 222.67L525.45 222.52L524.68 222.36L523.97 222.19L523.29 222.01L522.66 221.81L522.07 221.6L521.51 221.37L521.02 221.15L520.59 220.93L520.22 220.71L519.88 220.49L519.58 220.26L519.28 220L519 219.71L518.7 219.38L518.41 219.01L518.14 218.62L517.88 218.19L517.62 217.69L517.37 217.13L517.11 216.52L516.86 215.86L516.61 215.15L516.36 214.42L516.11 213.65L515.84 212.85L515.57 212.05L515.31 211.32L515.06 210.65L514.81 210.02L514.56 209.39L514.29 208.72L513.97 207.96L513.59 207.08L513.17 206.04L512.73 204.8L512.29 203.31L511.89 201.58L511.55 199.65L511.28 197.6L511.06 195.45L510.91 193.25L510.8 191.07L510.72 188.93L510.66 186.88L510.61 184.97L510.54 183.11L510.48 181.2L510.41 179.27L510.33 177.36L510.26 175.52L510.18 173.77L510.11 172.17L510.05 170.74L510 169.53L509.96 168.57Z" fill="#ff6a00" opacity="0.35" stroke="none"/><circle cx="543" cy="226.2" r="3" fill="#ff6a00" opacity="0.35"/>
<path d="M508.67 168.62L508.71 169.58L508.76 170.8L508.82 172.22L508.89 173.83L508.96 175.57L509.04 177.42L509.13 179.32L509.22 181.25L509.31 183.16L509.41 185.02L509.5 186.92L509.57 188.96L509.63 191.1L509.67 193.29L509.69 195.49L509.68 197.66L509.64 199.75L509.58 201.72L509.51 203.53L509.45 205.14L509.42 206.55L509.43 207.8L509.5 208.91L509.63 209.9L509.81 210.79L510.03 211.6L510.27 212.34L510.51 213.04L510.76 213.74L511.01 214.47L511.26 215.24L511.53 216.04L511.79 216.83L512.08 217.62L512.37 218.4L512.69 219.17L513.04 219.93L513.42 220.67L513.85 221.38L514.31 222.05L514.79 222.66L515.28 223.21L515.8 223.72L516.34 224.2L516.92 224.64L517.52 225.04L518.15 225.41L518.82 225.75L519.51 226.06L520.25 226.36L521.04 226.64L521.85 226.9L522.7 227.13L523.58 227.34L524.49 227.53L525.44 227.7L526.43 227.85L527.45 227.98L528.52 228.09L529.64 228.19L530.9 228.27L532.31 228.32L533.83 228.35L535.39 228.36L536.96 228.36L538.48 228.34L539.9 228.33L541.16 228.31L542.21 228.3L543 228.3L543 224.1L542.18 224.1L541.11 224.11L539.85 224.13L538.44 224.14L536.94 224.16L535.4 224.16L533.88 224.15L532.43 224.12L531.1 224.08L529.96 224.01L528.93 223.91L527.94 223.81L527.01 223.69L526.12 223.55L525.28 223.41L524.49 223.24L523.74 223.07L523.04 222.87L522.38 222.66L521.75 222.44L521.16 222.2L520.63 221.96L520.16 221.72L519.74 221.48L519.36 221.22L519.01 220.95L518.67 220.66L518.34 220.33L518.01 219.96L517.69 219.55L517.38 219.11L517.1 218.63L516.82 218.09L516.54 217.49L516.28 216.85L516.02 216.17L515.76 215.45L515.51 214.7L515.25 213.93L514.99 213.13L514.72 212.35L514.46 211.63L514.21 210.95L513.97 210.3L513.73 209.64L513.47 208.93L513.18 208.13L512.86 207.21L512.51 206.13L512.15 204.86L511.8 203.35L511.49 201.6L511.21 199.67L510.99 197.61L510.82 195.46L510.69 193.26L510.6 191.07L510.52 188.93L510.46 186.89L510.39 184.98L510.33 183.12L510.26 181.2L510.18 179.28L510.1 177.37L510.03 175.53L509.95 173.78L509.89 172.18L509.82 170.75L509.77 169.54L509.73 168.58Z" fill="#ff6a00" opacity="1.0" stroke="none"/><circle cx="543" cy="226.2" r="2.1" fill="#ff6a00" opacity="1.0"/>
<path d="M509.2 168.6C509.32 171.33 509.63 178.93 509.9 185C510.17 191.07 510.28 200.2 510.8 205C511.32 209.8 512.13 211.17 513 213.8C513.87 216.43 514.67 219.03 516 220.8C517.33 222.57 518.7 223.52 521 224.4C523.3 225.28 526.13 225.8 529.8 226.1C533.47 226.4 540.8 226.18 543 226.2" stroke="#ecff00" stroke-width="1.7" stroke-linecap="butt" stroke-linejoin="round" fill="none"/>
</g>
</g>
<text class="al" text-anchor="middle" x="295.2" y="304.7">Time [d]</text>
<text class="al" text-anchor="middle" transform="translate(19.5 142.1) rotate(-90)">Float Current [µA]</text>
<rect x="79.2" y="181.3" width="92" height="77.4" fill="#fff" stroke="#a6a6a6" stroke-width="1"/>
<line x1="81.4" y1="189.8" x2="96.2" y2="189.8" stroke="#4a64e6" stroke-width="0.9"/>
<path d="M87.2 189.8 L90.4 189.8M87.89 188.89 L89.71 190.71M88.8 188.2 L88.8 191.4M89.71 188.89 L87.89 190.71" stroke="#0a18b0" stroke-width="0.7" opacity="1" fill="none"/>
<text class="lg" x="97.4" y="194.1">1. Check-Up</text>
<line x1="81.4" y1="205" x2="96.2" y2="205" stroke="#56a8ff" stroke-width="0.9"/>
<path d="M87.2 205 L90.4 205M87.89 204.09 L89.71 205.91M88.8 203.4 L88.8 206.6M89.71 204.09 L87.89 205.91" stroke="#00d8f0" stroke-width="0.7" opacity="1" fill="none"/>
<text class="lg" x="97.4" y="209.3">2. Check-Up</text>
<line x1="81.4" y1="220.2" x2="96.2" y2="220.2" stroke="#6af6e6" stroke-width="0.9"/>
<path d="M87.2 220.2 L90.4 220.2M87.89 219.29 L89.71 221.11M88.8 218.6 L88.8 221.8M89.71 219.29 L87.89 221.11" stroke="#c8f030" stroke-width="0.7" opacity="1" fill="none"/>
<text class="lg" x="97.4" y="224.5">3. Check-Up</text>
<line x1="81.4" y1="235.4" x2="96.2" y2="235.4" stroke="#fbf7a0" stroke-width="0.9"/>
<path d="M87.2 235.4 L90.4 235.4M87.89 234.49 L89.71 236.31M88.8 233.8 L88.8 237M89.71 234.49 L87.89 236.31" stroke="#ff8a10" stroke-width="0.7" opacity="1" fill="none"/>
<text class="lg" x="97.4" y="239.7">4. Check-Up</text>
<line x1="81.4" y1="250.6" x2="96.2" y2="250.6" stroke="#ff8a78" stroke-width="0.9"/>
<path d="M87.2 250.6 L90.4 250.6M87.89 249.69 L89.71 251.51M88.8 249 L88.8 252.2M89.71 249.69 L87.89 251.51" stroke="#d81818" stroke-width="0.7" opacity="1" fill="none"/>
<text class="lg" x="97.4" y="254.9">No Check-Up</text>
</svg>
</body></html>
